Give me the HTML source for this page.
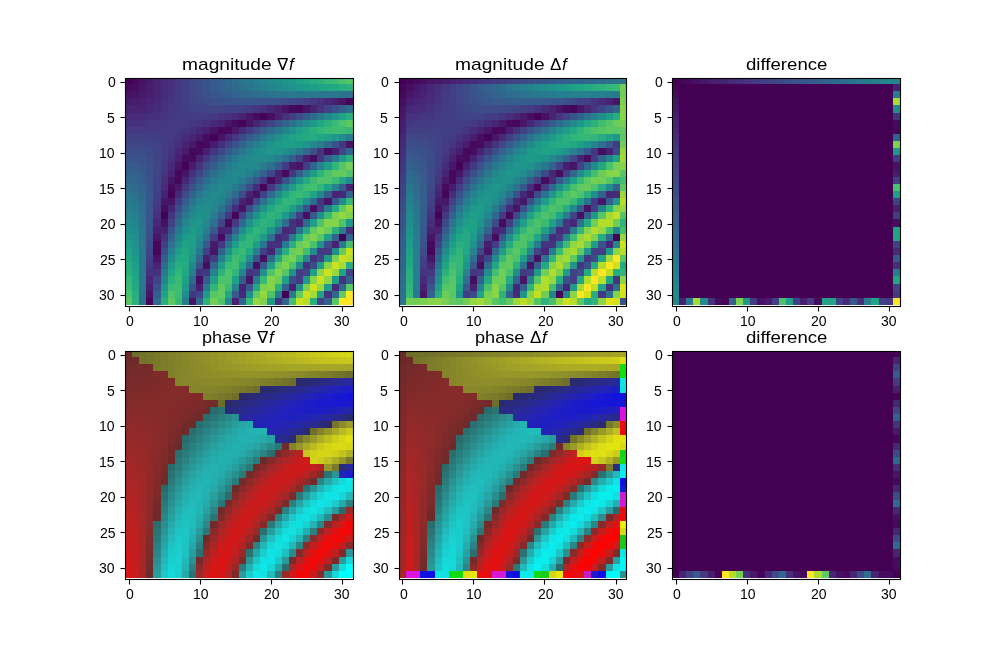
<!DOCTYPE html>
<html><head><meta charset="utf-8"><style>
html,body{margin:0;padding:0;background:#fff}
body{width:1000px;height:650px;position:relative;overflow:hidden}
svg{position:absolute;left:0;top:0}
.c rect{width:8px;height:8px}
.t{position:absolute;will-change:transform;font-family:"Liberation Sans",sans-serif;line-height:30px;white-space:nowrap;color:#000;transform-origin:0 0}
</style></head><body>
<svg width="1000" height="650" viewBox="0 0 1000 650" shape-rendering="crispEdges">
<g class="c">
<g transform="translate(0 78)">
<rect x="125" width="8" height="8" fill="#440154"/><rect x="132" width="8" height="8" fill="#46095c"/><rect x="139" width="8" height="8" fill="#471265"/><rect x="146" width="8" height="8" fill="#481a6c"/><rect x="153" width="8" height="8" fill="#482273"/><rect x="161" width="8" height="8" fill="#472a79"/><rect x="168" width="8" height="8" fill="#46317e"/><rect x="175" width="8" height="8" fill="#443982"/><rect x="182" width="8" height="8" fill="#424085"/><rect x="189" width="8" height="8" fill="#3f4788"/><rect x="196" width="8" height="8" fill="#3c4d8a"/><rect x="203" width="8" height="8" fill="#39548b"/><rect x="210" width="8" height="8" fill="#365b8c"/><rect x="218" width="8" height="8" fill="#33618d"/><rect x="225" width="8" height="8" fill="#30678d"/><rect x="232" width="8" height="8" fill="#2e6d8e"/><rect x="239" width="8" height="8" fill="#2b738e"/><rect x="246" width="8" height="8" fill="#29798e"/><rect x="253" width="8" height="8" fill="#277e8e"/><rect x="260" width="8" height="8" fill="#24848d"/><rect x="267" width="8" height="8" fill="#22898d"/><rect x="275" width="8" height="8" fill="#208f8c"/><rect x="282" width="8" height="8" fill="#1f958b"/><rect x="289" width="8" height="8" fill="#1e9a89"/><rect x="296" width="8" height="8" fill="#1fa187"/><rect x="303" width="8" height="8" fill="#21a784"/><rect x="310" width="8" height="8" fill="#26ac81"/><rect x="317" width="8" height="8" fill="#2cb17d"/><rect x="324" width="8" height="8" fill="#35b778"/><rect x="332" width="8" height="8" fill="#3ebc73"/><rect x="339" width="8" height="8" fill="#49c16d"/><rect x="346" width="8" height="8" fill="#55c666"/>
</g>
<g transform="translate(0 84)">
<rect x="125" width="8" height="8" fill="#46095c"/><rect x="132" width="8" height="8" fill="#460c5f"/><rect x="139" width="8" height="8" fill="#471466"/><rect x="146" width="8" height="8" fill="#481c6e"/><rect x="153" width="8" height="8" fill="#482374"/><rect x="161" width="8" height="8" fill="#472a79"/><rect x="168" width="8" height="8" fill="#46317e"/><rect x="175" width="8" height="8" fill="#443982"/><rect x="182" width="8" height="8" fill="#424085"/><rect x="189" width="8" height="8" fill="#3f4788"/><rect x="196" width="8" height="8" fill="#3c4d8a"/><rect x="203" width="8" height="8" fill="#39548b"/><rect x="210" width="8" height="8" fill="#37598c"/><rect x="218" width="8" height="8" fill="#345f8d"/><rect x="225" width="8" height="8" fill="#31658d"/><rect x="232" width="8" height="8" fill="#2f6a8d"/><rect x="239" width="8" height="8" fill="#2c708e"/><rect x="246" width="8" height="8" fill="#2a758e"/><rect x="253" width="8" height="8" fill="#287a8e"/><rect x="260" width="8" height="8" fill="#267f8e"/><rect x="267" width="8" height="8" fill="#24848d"/><rect x="275" width="8" height="8" fill="#23898d"/><rect x="282" width="8" height="8" fill="#218d8c"/><rect x="289" width="8" height="8" fill="#20918c"/><rect x="296" width="8" height="8" fill="#1f968b"/><rect x="303" width="8" height="8" fill="#1e9a89"/><rect x="310" width="8" height="8" fill="#1e9e88"/><rect x="317" width="8" height="8" fill="#1fa386"/><rect x="324" width="8" height="8" fill="#21a784"/><rect x="332" width="8" height="8" fill="#24aa82"/><rect x="339" width="8" height="8" fill="#28ae7f"/><rect x="346" width="8" height="8" fill="#2cb17d"/>
</g>
<g transform="translate(0 91)">
<rect x="125" width="8" height="8" fill="#471265"/><rect x="132" width="8" height="8" fill="#471466"/><rect x="139" width="8" height="8" fill="#48196b"/><rect x="146" width="8" height="8" fill="#481e70"/><rect x="153" width="8" height="8" fill="#472575"/><rect x="161" width="8" height="8" fill="#472c7b"/><rect x="168" width="8" height="8" fill="#45327f"/><rect x="175" width="8" height="8" fill="#433a83"/><rect x="182" width="8" height="8" fill="#424085"/><rect x="189" width="8" height="8" fill="#3f4587"/><rect x="196" width="8" height="8" fill="#3d4b89"/><rect x="203" width="8" height="8" fill="#3b518a"/><rect x="210" width="8" height="8" fill="#38568b"/><rect x="218" width="8" height="8" fill="#365a8c"/><rect x="225" width="8" height="8" fill="#345e8d"/><rect x="232" width="8" height="8" fill="#32628d"/><rect x="239" width="8" height="8" fill="#31668d"/><rect x="246" width="8" height="8" fill="#2f698d"/><rect x="253" width="8" height="8" fill="#2e6d8e"/><rect x="260" width="8" height="8" fill="#2d6f8e"/><rect x="267" width="8" height="8" fill="#2c728e"/><rect x="275" width="8" height="8" fill="#2b748e"/><rect x="282" width="8" height="8" fill="#2a758e"/><rect x="289" width="8" height="8" fill="#2a778e"/><rect x="296" width="8" height="8" fill="#29788e"/><rect x="303" width="8" height="8" fill="#29788e"/><rect x="310" width="8" height="8" fill="#29788e"/><rect x="317" width="8" height="8" fill="#29788e"/><rect x="324" width="8" height="8" fill="#2a778e"/><rect x="332" width="8" height="8" fill="#2a768e"/><rect x="339" width="8" height="8" fill="#2a758e"/><rect x="346" width="8" height="8" fill="#2c728e"/>
</g>
<g transform="translate(0 98)">
<rect x="125" width="8" height="8" fill="#481a6c"/><rect x="132" width="8" height="8" fill="#481c6e"/><rect x="139" width="8" height="8" fill="#481e70"/><rect x="146" width="8" height="8" fill="#482374"/><rect x="153" width="8" height="8" fill="#472878"/><rect x="161" width="8" height="8" fill="#462f7c"/><rect x="168" width="8" height="8" fill="#453580"/><rect x="175" width="8" height="8" fill="#433a83"/><rect x="182" width="8" height="8" fill="#423e85"/><rect x="189" width="8" height="8" fill="#404487"/><rect x="196" width="8" height="8" fill="#3e4888"/><rect x="203" width="8" height="8" fill="#3d4c89"/><rect x="210" width="8" height="8" fill="#3b508a"/><rect x="218" width="8" height="8" fill="#3a528b"/><rect x="225" width="8" height="8" fill="#39548b"/><rect x="232" width="8" height="8" fill="#38568b"/><rect x="239" width="8" height="8" fill="#38578c"/><rect x="246" width="8" height="8" fill="#38578c"/><rect x="253" width="8" height="8" fill="#38578c"/><rect x="260" width="8" height="8" fill="#38568b"/><rect x="267" width="8" height="8" fill="#39548b"/><rect x="275" width="8" height="8" fill="#3a528b"/><rect x="282" width="8" height="8" fill="#3c4e8a"/><rect x="289" width="8" height="8" fill="#3d4a89"/><rect x="296" width="8" height="8" fill="#3f4587"/><rect x="303" width="8" height="8" fill="#424085"/><rect x="310" width="8" height="8" fill="#443982"/><rect x="317" width="8" height="8" fill="#46317e"/><rect x="324" width="8" height="8" fill="#472878"/><rect x="332" width="8" height="8" fill="#481e70"/><rect x="339" width="8" height="8" fill="#471466"/><rect x="346" width="8" height="8" fill="#45065a"/>
</g>
<g transform="translate(0 105)">
<rect x="125" width="8" height="8" fill="#482273"/><rect x="132" width="8" height="8" fill="#482374"/><rect x="139" width="8" height="8" fill="#472575"/><rect x="146" width="8" height="8" fill="#472878"/><rect x="153" width="8" height="8" fill="#462d7c"/><rect x="161" width="8" height="8" fill="#46317e"/><rect x="168" width="8" height="8" fill="#453681"/><rect x="175" width="8" height="8" fill="#433a83"/><rect x="182" width="8" height="8" fill="#423d84"/><rect x="189" width="8" height="8" fill="#414186"/><rect x="196" width="8" height="8" fill="#404387"/><rect x="203" width="8" height="8" fill="#404487"/><rect x="210" width="8" height="8" fill="#3f4587"/><rect x="218" width="8" height="8" fill="#3f4587"/><rect x="225" width="8" height="8" fill="#404487"/><rect x="232" width="8" height="8" fill="#404387"/><rect x="239" width="8" height="8" fill="#424085"/><rect x="246" width="8" height="8" fill="#433c84"/><rect x="253" width="8" height="8" fill="#453681"/><rect x="260" width="8" height="8" fill="#46307d"/><rect x="267" width="8" height="8" fill="#472878"/><rect x="275" width="8" height="8" fill="#482071"/><rect x="282" width="8" height="8" fill="#471567"/><rect x="289" width="8" height="8" fill="#45085b"/><rect x="296" width="8" height="8" fill="#45065a"/><rect x="303" width="8" height="8" fill="#471567"/><rect x="310" width="8" height="8" fill="#482374"/><rect x="317" width="8" height="8" fill="#45327f"/><rect x="324" width="8" height="8" fill="#414186"/><rect x="332" width="8" height="8" fill="#3b508a"/><rect x="339" width="8" height="8" fill="#345e8d"/><rect x="346" width="8" height="8" fill="#2e6c8e"/>
</g>
<g transform="translate(0 113)">
<rect x="125" width="8" height="8" fill="#472a79"/><rect x="132" width="8" height="8" fill="#472a79"/><rect x="139" width="8" height="8" fill="#472c7b"/><rect x="146" width="8" height="8" fill="#462f7c"/><rect x="153" width="8" height="8" fill="#46317e"/><rect x="161" width="8" height="8" fill="#453580"/><rect x="168" width="8" height="8" fill="#443781"/><rect x="175" width="8" height="8" fill="#433a83"/><rect x="182" width="8" height="8" fill="#433c84"/><rect x="189" width="8" height="8" fill="#433c84"/><rect x="196" width="8" height="8" fill="#433c84"/><rect x="203" width="8" height="8" fill="#433b83"/><rect x="210" width="8" height="8" fill="#443982"/><rect x="218" width="8" height="8" fill="#453580"/><rect x="225" width="8" height="8" fill="#46307d"/><rect x="232" width="8" height="8" fill="#472a79"/><rect x="239" width="8" height="8" fill="#482273"/><rect x="246" width="8" height="8" fill="#47186a"/><rect x="253" width="8" height="8" fill="#460c5f"/><rect x="260" width="8" height="8" fill="#440255"/><rect x="267" width="8" height="8" fill="#471163"/><rect x="275" width="8" height="8" fill="#482172"/><rect x="282" width="8" height="8" fill="#46307d"/><rect x="289" width="8" height="8" fill="#424085"/><rect x="296" width="8" height="8" fill="#3c4e8a"/><rect x="303" width="8" height="8" fill="#355d8c"/><rect x="310" width="8" height="8" fill="#2e6c8e"/><rect x="317" width="8" height="8" fill="#287a8e"/><rect x="324" width="8" height="8" fill="#23888d"/><rect x="332" width="8" height="8" fill="#1f958b"/><rect x="339" width="8" height="8" fill="#1fa386"/><rect x="346" width="8" height="8" fill="#29af7f"/>
</g>
<g transform="translate(0 120)">
<rect x="125" width="8" height="8" fill="#46317e"/><rect x="132" width="8" height="8" fill="#46317e"/><rect x="139" width="8" height="8" fill="#45327f"/><rect x="146" width="8" height="8" fill="#453580"/><rect x="153" width="8" height="8" fill="#453681"/><rect x="161" width="8" height="8" fill="#443781"/><rect x="168" width="8" height="8" fill="#443982"/><rect x="175" width="8" height="8" fill="#443982"/><rect x="182" width="8" height="8" fill="#443982"/><rect x="189" width="8" height="8" fill="#453681"/><rect x="196" width="8" height="8" fill="#45347f"/><rect x="203" width="8" height="8" fill="#462f7c"/><rect x="210" width="8" height="8" fill="#472878"/><rect x="218" width="8" height="8" fill="#482172"/><rect x="225" width="8" height="8" fill="#471669"/><rect x="232" width="8" height="8" fill="#460b5e"/><rect x="239" width="8" height="8" fill="#440357"/><rect x="246" width="8" height="8" fill="#471466"/><rect x="253" width="8" height="8" fill="#472575"/><rect x="260" width="8" height="8" fill="#45347f"/><rect x="267" width="8" height="8" fill="#404487"/><rect x="275" width="8" height="8" fill="#39548b"/><rect x="282" width="8" height="8" fill="#32638d"/><rect x="289" width="8" height="8" fill="#2c728e"/><rect x="296" width="8" height="8" fill="#267f8e"/><rect x="303" width="8" height="8" fill="#218d8c"/><rect x="310" width="8" height="8" fill="#1e998a"/><rect x="317" width="8" height="8" fill="#21a685"/><rect x="324" width="8" height="8" fill="#2cb17d"/><rect x="332" width="8" height="8" fill="#3bba75"/><rect x="339" width="8" height="8" fill="#4dc26b"/><rect x="346" width="8" height="8" fill="#5bc862"/>
</g>
<g transform="translate(0 127)">
<rect x="125" width="8" height="8" fill="#443982"/><rect x="132" width="8" height="8" fill="#443982"/><rect x="139" width="8" height="8" fill="#433a83"/><rect x="146" width="8" height="8" fill="#433a83"/><rect x="153" width="8" height="8" fill="#433a83"/><rect x="161" width="8" height="8" fill="#433a83"/><rect x="168" width="8" height="8" fill="#443982"/><rect x="175" width="8" height="8" fill="#443781"/><rect x="182" width="8" height="8" fill="#45347f"/><rect x="189" width="8" height="8" fill="#462f7c"/><rect x="196" width="8" height="8" fill="#472878"/><rect x="203" width="8" height="8" fill="#482071"/><rect x="210" width="8" height="8" fill="#471567"/><rect x="218" width="8" height="8" fill="#45085b"/><rect x="225" width="8" height="8" fill="#45085b"/><rect x="232" width="8" height="8" fill="#48196b"/><rect x="239" width="8" height="8" fill="#472a79"/><rect x="246" width="8" height="8" fill="#433b83"/><rect x="253" width="8" height="8" fill="#3d4c89"/><rect x="260" width="8" height="8" fill="#365b8c"/><rect x="267" width="8" height="8" fill="#2f6a8d"/><rect x="275" width="8" height="8" fill="#29798e"/><rect x="282" width="8" height="8" fill="#24868d"/><rect x="289" width="8" height="8" fill="#1f938b"/><rect x="296" width="8" height="8" fill="#1e9e88"/><rect x="303" width="8" height="8" fill="#22a784"/><rect x="310" width="8" height="8" fill="#2ab07e"/><rect x="317" width="8" height="8" fill="#33b679"/><rect x="324" width="8" height="8" fill="#3bba75"/><rect x="332" width="8" height="8" fill="#3ebc73"/><rect x="339" width="8" height="8" fill="#3dbb74"/><rect x="346" width="8" height="8" fill="#38b976"/>
</g>
<g transform="translate(0 134)">
<rect x="125" width="8" height="8" fill="#424085"/><rect x="132" width="8" height="8" fill="#424085"/><rect x="139" width="8" height="8" fill="#424085"/><rect x="146" width="8" height="8" fill="#423e85"/><rect x="153" width="8" height="8" fill="#423d84"/><rect x="161" width="8" height="8" fill="#433c84"/><rect x="168" width="8" height="8" fill="#443982"/><rect x="175" width="8" height="8" fill="#45347f"/><rect x="182" width="8" height="8" fill="#462d7c"/><rect x="189" width="8" height="8" fill="#472575"/><rect x="196" width="8" height="8" fill="#481a6c"/><rect x="203" width="8" height="8" fill="#460c5f"/><rect x="210" width="8" height="8" fill="#440357"/><rect x="218" width="8" height="8" fill="#471567"/><rect x="225" width="8" height="8" fill="#472777"/><rect x="232" width="8" height="8" fill="#443982"/><rect x="239" width="8" height="8" fill="#3d4a89"/><rect x="246" width="8" height="8" fill="#365b8c"/><rect x="253" width="8" height="8" fill="#2f6a8d"/><rect x="260" width="8" height="8" fill="#29788e"/><rect x="267" width="8" height="8" fill="#24858d"/><rect x="275" width="8" height="8" fill="#20908c"/><rect x="282" width="8" height="8" fill="#1e9a89"/><rect x="289" width="8" height="8" fill="#1fa286"/><rect x="296" width="8" height="8" fill="#22a784"/><rect x="303" width="8" height="8" fill="#24aa82"/><rect x="310" width="8" height="8" fill="#25ab81"/><rect x="317" width="8" height="8" fill="#22a784"/><rect x="324" width="8" height="8" fill="#1fa286"/><rect x="332" width="8" height="8" fill="#1e998a"/><rect x="339" width="8" height="8" fill="#218c8d"/><rect x="346" width="8" height="8" fill="#277c8e"/>
</g>
<g transform="translate(0 141)">
<rect x="125" width="8" height="8" fill="#3f4788"/><rect x="132" width="8" height="8" fill="#3f4788"/><rect x="139" width="8" height="8" fill="#3f4587"/><rect x="146" width="8" height="8" fill="#404487"/><rect x="153" width="8" height="8" fill="#414186"/><rect x="161" width="8" height="8" fill="#433c84"/><rect x="168" width="8" height="8" fill="#453681"/><rect x="175" width="8" height="8" fill="#462f7c"/><rect x="182" width="8" height="8" fill="#472575"/><rect x="189" width="8" height="8" fill="#48196b"/><rect x="196" width="8" height="8" fill="#45085b"/><rect x="203" width="8" height="8" fill="#46095c"/><rect x="210" width="8" height="8" fill="#481d6f"/><rect x="218" width="8" height="8" fill="#46307d"/><rect x="225" width="8" height="8" fill="#414286"/><rect x="232" width="8" height="8" fill="#39548b"/><rect x="239" width="8" height="8" fill="#31648d"/><rect x="246" width="8" height="8" fill="#2b738e"/><rect x="253" width="8" height="8" fill="#267f8e"/><rect x="260" width="8" height="8" fill="#228a8d"/><rect x="267" width="8" height="8" fill="#1f948b"/><rect x="275" width="8" height="8" fill="#1e9a89"/><rect x="282" width="8" height="8" fill="#1e9d88"/><rect x="289" width="8" height="8" fill="#1e9e88"/><rect x="296" width="8" height="8" fill="#1e9b89"/><rect x="303" width="8" height="8" fill="#1f958b"/><rect x="310" width="8" height="8" fill="#228a8d"/><rect x="317" width="8" height="8" fill="#277c8e"/><rect x="324" width="8" height="8" fill="#2f6a8d"/><rect x="332" width="8" height="8" fill="#39548b"/><rect x="339" width="8" height="8" fill="#443781"/><rect x="346" width="8" height="8" fill="#471466"/>
</g>
<g transform="translate(0 148)">
<rect x="125" width="8" height="8" fill="#3c4d8a"/><rect x="132" width="8" height="8" fill="#3c4d8a"/><rect x="139" width="8" height="8" fill="#3d4b89"/><rect x="146" width="8" height="8" fill="#3e4888"/><rect x="153" width="8" height="8" fill="#404387"/><rect x="161" width="8" height="8" fill="#433c84"/><rect x="168" width="8" height="8" fill="#45347f"/><rect x="175" width="8" height="8" fill="#472878"/><rect x="182" width="8" height="8" fill="#481a6c"/><rect x="189" width="8" height="8" fill="#45085b"/><rect x="196" width="8" height="8" fill="#460c5f"/><rect x="203" width="8" height="8" fill="#482172"/><rect x="210" width="8" height="8" fill="#453580"/><rect x="218" width="8" height="8" fill="#3e4888"/><rect x="225" width="8" height="8" fill="#365a8c"/><rect x="232" width="8" height="8" fill="#2f698d"/><rect x="239" width="8" height="8" fill="#2a778e"/><rect x="246" width="8" height="8" fill="#25838d"/><rect x="253" width="8" height="8" fill="#218c8d"/><rect x="260" width="8" height="8" fill="#1f928c"/><rect x="267" width="8" height="8" fill="#1f958b"/><rect x="275" width="8" height="8" fill="#1f948b"/><rect x="282" width="8" height="8" fill="#208f8c"/><rect x="289" width="8" height="8" fill="#24868d"/><rect x="296" width="8" height="8" fill="#29798e"/><rect x="303" width="8" height="8" fill="#30678d"/><rect x="310" width="8" height="8" fill="#3b518a"/><rect x="317" width="8" height="8" fill="#45327f"/><rect x="324" width="8" height="8" fill="#460e61"/><rect x="332" width="8" height="8" fill="#481e70"/><rect x="339" width="8" height="8" fill="#3f4587"/><rect x="346" width="8" height="8" fill="#30688d"/>
</g>
<g transform="translate(0 155)">
<rect x="125" width="8" height="8" fill="#39548b"/><rect x="132" width="8" height="8" fill="#39548b"/><rect x="139" width="8" height="8" fill="#3b518a"/><rect x="146" width="8" height="8" fill="#3d4c89"/><rect x="153" width="8" height="8" fill="#404487"/><rect x="161" width="8" height="8" fill="#433b83"/><rect x="168" width="8" height="8" fill="#462f7c"/><rect x="175" width="8" height="8" fill="#482071"/><rect x="182" width="8" height="8" fill="#460c5f"/><rect x="189" width="8" height="8" fill="#46095c"/><rect x="196" width="8" height="8" fill="#482172"/><rect x="203" width="8" height="8" fill="#453681"/><rect x="210" width="8" height="8" fill="#3d4b89"/><rect x="218" width="8" height="8" fill="#355d8c"/><rect x="225" width="8" height="8" fill="#2e6c8e"/><rect x="232" width="8" height="8" fill="#287a8e"/><rect x="239" width="8" height="8" fill="#24848d"/><rect x="246" width="8" height="8" fill="#228b8d"/><rect x="253" width="8" height="8" fill="#218e8c"/><rect x="260" width="8" height="8" fill="#218e8c"/><rect x="267" width="8" height="8" fill="#23898d"/><rect x="275" width="8" height="8" fill="#277e8e"/><rect x="282" width="8" height="8" fill="#2c708e"/><rect x="289" width="8" height="8" fill="#355c8c"/><rect x="296" width="8" height="8" fill="#414286"/><rect x="303" width="8" height="8" fill="#482071"/><rect x="310" width="8" height="8" fill="#460c5f"/><rect x="317" width="8" height="8" fill="#453681"/><rect x="324" width="8" height="8" fill="#365b8c"/><rect x="332" width="8" height="8" fill="#287b8e"/><rect x="339" width="8" height="8" fill="#1e998a"/><rect x="346" width="8" height="8" fill="#2cb17d"/>
</g>
<g transform="translate(0 162)">
<rect x="125" width="8" height="8" fill="#365b8c"/><rect x="132" width="8" height="8" fill="#37598c"/><rect x="139" width="8" height="8" fill="#38568b"/><rect x="146" width="8" height="8" fill="#3b508a"/><rect x="153" width="8" height="8" fill="#3f4587"/><rect x="161" width="8" height="8" fill="#443982"/><rect x="168" width="8" height="8" fill="#472878"/><rect x="175" width="8" height="8" fill="#471567"/><rect x="182" width="8" height="8" fill="#440357"/><rect x="189" width="8" height="8" fill="#481d6f"/><rect x="196" width="8" height="8" fill="#453580"/><rect x="203" width="8" height="8" fill="#3d4b89"/><rect x="210" width="8" height="8" fill="#355d8c"/><rect x="218" width="8" height="8" fill="#2d6e8e"/><rect x="225" width="8" height="8" fill="#287a8e"/><rect x="232" width="8" height="8" fill="#24848d"/><rect x="239" width="8" height="8" fill="#22898d"/><rect x="246" width="8" height="8" fill="#228a8d"/><rect x="253" width="8" height="8" fill="#23878d"/><rect x="260" width="8" height="8" fill="#277d8e"/><rect x="267" width="8" height="8" fill="#2d6f8e"/><rect x="275" width="8" height="8" fill="#365a8c"/><rect x="282" width="8" height="8" fill="#423e85"/><rect x="289" width="8" height="8" fill="#481a6c"/><rect x="296" width="8" height="8" fill="#471466"/><rect x="303" width="8" height="8" fill="#423e85"/><rect x="310" width="8" height="8" fill="#32628d"/><rect x="317" width="8" height="8" fill="#25828e"/><rect x="324" width="8" height="8" fill="#1e9e88"/><rect x="332" width="8" height="8" fill="#32b57a"/><rect x="339" width="8" height="8" fill="#55c666"/><rect x="346" width="8" height="8" fill="#72cf55"/>
</g>
<g transform="translate(0 170)">
<rect x="125" width="8" height="8" fill="#33618d"/><rect x="132" width="8" height="8" fill="#345f8d"/><rect x="139" width="8" height="8" fill="#365a8c"/><rect x="146" width="8" height="8" fill="#3a528b"/><rect x="153" width="8" height="8" fill="#3f4587"/><rect x="161" width="8" height="8" fill="#453580"/><rect x="168" width="8" height="8" fill="#482172"/><rect x="175" width="8" height="8" fill="#45085b"/><rect x="182" width="8" height="8" fill="#471567"/><rect x="189" width="8" height="8" fill="#46307d"/><rect x="196" width="8" height="8" fill="#3e4888"/><rect x="203" width="8" height="8" fill="#355d8c"/><rect x="210" width="8" height="8" fill="#2d6e8e"/><rect x="218" width="8" height="8" fill="#287a8e"/><rect x="225" width="8" height="8" fill="#24848d"/><rect x="232" width="8" height="8" fill="#23898d"/><rect x="239" width="8" height="8" fill="#23888d"/><rect x="246" width="8" height="8" fill="#26808e"/><rect x="253" width="8" height="8" fill="#2b748e"/><rect x="260" width="8" height="8" fill="#33618d"/><rect x="267" width="8" height="8" fill="#3f4788"/><rect x="275" width="8" height="8" fill="#482374"/><rect x="282" width="8" height="8" fill="#460b5e"/><rect x="289" width="8" height="8" fill="#443982"/><rect x="296" width="8" height="8" fill="#345f8d"/><rect x="303" width="8" height="8" fill="#267f8e"/><rect x="310" width="8" height="8" fill="#1e9b89"/><rect x="317" width="8" height="8" fill="#2eb27c"/><rect x="324" width="8" height="8" fill="#4bc26c"/><rect x="332" width="8" height="8" fill="#60c960"/><rect x="339" width="8" height="8" fill="#62ca5f"/><rect x="346" width="8" height="8" fill="#51c468"/>
</g>
<g transform="translate(0 177)">
<rect x="125" width="8" height="8" fill="#30678d"/><rect x="132" width="8" height="8" fill="#31658d"/><rect x="139" width="8" height="8" fill="#345e8d"/><rect x="146" width="8" height="8" fill="#39548b"/><rect x="153" width="8" height="8" fill="#404487"/><rect x="161" width="8" height="8" fill="#46307d"/><rect x="168" width="8" height="8" fill="#471669"/><rect x="175" width="8" height="8" fill="#45085b"/><rect x="182" width="8" height="8" fill="#472777"/><rect x="189" width="8" height="8" fill="#414286"/><rect x="196" width="8" height="8" fill="#365a8c"/><rect x="203" width="8" height="8" fill="#2e6c8e"/><rect x="210" width="8" height="8" fill="#287a8e"/><rect x="218" width="8" height="8" fill="#24848d"/><rect x="225" width="8" height="8" fill="#23888d"/><rect x="232" width="8" height="8" fill="#24868d"/><rect x="239" width="8" height="8" fill="#277c8e"/><rect x="246" width="8" height="8" fill="#2e6d8e"/><rect x="253" width="8" height="8" fill="#38568b"/><rect x="260" width="8" height="8" fill="#453681"/><rect x="267" width="8" height="8" fill="#460b5e"/><rect x="275" width="8" height="8" fill="#472676"/><rect x="282" width="8" height="8" fill="#3a528b"/><rect x="289" width="8" height="8" fill="#2a758e"/><rect x="296" width="8" height="8" fill="#1f928c"/><rect x="303" width="8" height="8" fill="#24aa82"/><rect x="310" width="8" height="8" fill="#3dbb74"/><rect x="317" width="8" height="8" fill="#4fc369"/><rect x="324" width="8" height="8" fill="#4dc26b"/><rect x="332" width="8" height="8" fill="#3bba75"/><rect x="339" width="8" height="8" fill="#21a784"/><rect x="346" width="8" height="8" fill="#22898d"/>
</g>
<g transform="translate(0 184)">
<rect x="125" width="8" height="8" fill="#2e6d8e"/><rect x="132" width="8" height="8" fill="#2f6a8d"/><rect x="139" width="8" height="8" fill="#32628d"/><rect x="146" width="8" height="8" fill="#38568b"/><rect x="153" width="8" height="8" fill="#404387"/><rect x="161" width="8" height="8" fill="#472a79"/><rect x="168" width="8" height="8" fill="#460b5e"/><rect x="175" width="8" height="8" fill="#48196b"/><rect x="182" width="8" height="8" fill="#443982"/><rect x="189" width="8" height="8" fill="#39548b"/><rect x="196" width="8" height="8" fill="#2f698d"/><rect x="203" width="8" height="8" fill="#287a8e"/><rect x="210" width="8" height="8" fill="#24848d"/><rect x="218" width="8" height="8" fill="#23898d"/><rect x="225" width="8" height="8" fill="#24868d"/><rect x="232" width="8" height="8" fill="#287b8e"/><rect x="239" width="8" height="8" fill="#2f698d"/><rect x="246" width="8" height="8" fill="#3b508a"/><rect x="253" width="8" height="8" fill="#472a79"/><rect x="260" width="8" height="8" fill="#45065a"/><rect x="267" width="8" height="8" fill="#443982"/><rect x="275" width="8" height="8" fill="#33618d"/><rect x="282" width="8" height="8" fill="#25838d"/><rect x="289" width="8" height="8" fill="#1e9e88"/><rect x="296" width="8" height="8" fill="#2eb27c"/><rect x="303" width="8" height="8" fill="#40bd72"/><rect x="310" width="8" height="8" fill="#42be71"/><rect x="317" width="8" height="8" fill="#32b57a"/><rect x="324" width="8" height="8" fill="#1fa187"/><rect x="332" width="8" height="8" fill="#25838d"/><rect x="339" width="8" height="8" fill="#365a8c"/><rect x="346" width="8" height="8" fill="#482172"/>
</g>
<g transform="translate(0 191)">
<rect x="125" width="8" height="8" fill="#2b738e"/><rect x="132" width="8" height="8" fill="#2c708e"/><rect x="139" width="8" height="8" fill="#31668d"/><rect x="146" width="8" height="8" fill="#38578c"/><rect x="153" width="8" height="8" fill="#424085"/><rect x="161" width="8" height="8" fill="#482273"/><rect x="168" width="8" height="8" fill="#440357"/><rect x="175" width="8" height="8" fill="#472a79"/><rect x="182" width="8" height="8" fill="#3d4a89"/><rect x="189" width="8" height="8" fill="#31648d"/><rect x="196" width="8" height="8" fill="#2a778e"/><rect x="203" width="8" height="8" fill="#24848d"/><rect x="210" width="8" height="8" fill="#22898d"/><rect x="218" width="8" height="8" fill="#23888d"/><rect x="225" width="8" height="8" fill="#277c8e"/><rect x="232" width="8" height="8" fill="#2f698d"/><rect x="239" width="8" height="8" fill="#3d4c89"/><rect x="246" width="8" height="8" fill="#482374"/><rect x="253" width="8" height="8" fill="#471265"/><rect x="260" width="8" height="8" fill="#404387"/><rect x="267" width="8" height="8" fill="#2e6b8e"/><rect x="275" width="8" height="8" fill="#218c8d"/><rect x="282" width="8" height="8" fill="#21a685"/><rect x="289" width="8" height="8" fill="#32b57a"/><rect x="296" width="8" height="8" fill="#3bba75"/><rect x="303" width="8" height="8" fill="#30b47a"/><rect x="310" width="8" height="8" fill="#1fa386"/><rect x="317" width="8" height="8" fill="#24868d"/><rect x="324" width="8" height="8" fill="#355d8c"/><rect x="332" width="8" height="8" fill="#482374"/><rect x="339" width="8" height="8" fill="#472777"/><rect x="346" width="8" height="8" fill="#31658d"/>
</g>
<g transform="translate(0 198)">
<rect x="125" width="8" height="8" fill="#29798e"/><rect x="132" width="8" height="8" fill="#2a758e"/><rect x="139" width="8" height="8" fill="#2f698d"/><rect x="146" width="8" height="8" fill="#38578c"/><rect x="153" width="8" height="8" fill="#433c84"/><rect x="161" width="8" height="8" fill="#47186a"/><rect x="168" width="8" height="8" fill="#471466"/><rect x="175" width="8" height="8" fill="#433b83"/><rect x="182" width="8" height="8" fill="#365b8c"/><rect x="189" width="8" height="8" fill="#2b738e"/><rect x="196" width="8" height="8" fill="#25838d"/><rect x="203" width="8" height="8" fill="#228b8d"/><rect x="210" width="8" height="8" fill="#228a8d"/><rect x="218" width="8" height="8" fill="#26808e"/><rect x="225" width="8" height="8" fill="#2e6d8e"/><rect x="232" width="8" height="8" fill="#3b508a"/><rect x="239" width="8" height="8" fill="#482374"/><rect x="246" width="8" height="8" fill="#471567"/><rect x="253" width="8" height="8" fill="#3e4989"/><rect x="260" width="8" height="8" fill="#2c718e"/><rect x="267" width="8" height="8" fill="#20918c"/><rect x="275" width="8" height="8" fill="#23a982"/><rect x="282" width="8" height="8" fill="#32b57a"/><rect x="289" width="8" height="8" fill="#33b679"/><rect x="296" width="8" height="8" fill="#24aa82"/><rect x="303" width="8" height="8" fill="#20918c"/><rect x="310" width="8" height="8" fill="#2e6b8e"/><rect x="317" width="8" height="8" fill="#453681"/><rect x="324" width="8" height="8" fill="#471567"/><rect x="332" width="8" height="8" fill="#37588c"/><rect x="339" width="8" height="8" fill="#218c8d"/><rect x="346" width="8" height="8" fill="#36b877"/>
</g>
<g transform="translate(0 205)">
<rect x="125" width="8" height="8" fill="#277e8e"/><rect x="132" width="8" height="8" fill="#287a8e"/><rect x="139" width="8" height="8" fill="#2e6d8e"/><rect x="146" width="8" height="8" fill="#38578c"/><rect x="153" width="8" height="8" fill="#453681"/><rect x="161" width="8" height="8" fill="#460c5f"/><rect x="168" width="8" height="8" fill="#472575"/><rect x="175" width="8" height="8" fill="#3d4c89"/><rect x="182" width="8" height="8" fill="#2f6a8d"/><rect x="189" width="8" height="8" fill="#267f8e"/><rect x="196" width="8" height="8" fill="#218c8d"/><rect x="203" width="8" height="8" fill="#218e8c"/><rect x="210" width="8" height="8" fill="#23878d"/><rect x="218" width="8" height="8" fill="#2b748e"/><rect x="225" width="8" height="8" fill="#38568b"/><rect x="232" width="8" height="8" fill="#472a79"/><rect x="239" width="8" height="8" fill="#471265"/><rect x="246" width="8" height="8" fill="#3e4989"/><rect x="253" width="8" height="8" fill="#2b738e"/><rect x="260" width="8" height="8" fill="#1f948b"/><rect x="267" width="8" height="8" fill="#24aa82"/><rect x="275" width="8" height="8" fill="#32b57a"/><rect x="282" width="8" height="8" fill="#2cb17d"/><rect x="289" width="8" height="8" fill="#1ea087"/><rect x="296" width="8" height="8" fill="#26818e"/><rect x="303" width="8" height="8" fill="#39548b"/><rect x="310" width="8" height="8" fill="#471163"/><rect x="317" width="8" height="8" fill="#423d84"/><rect x="324" width="8" height="8" fill="#29798e"/><rect x="332" width="8" height="8" fill="#23a883"/><rect x="339" width="8" height="8" fill="#60c960"/><rect x="346" width="8" height="8" fill="#97d83e"/>
</g>
<g transform="translate(0 212)">
<rect x="125" width="8" height="8" fill="#24848d"/><rect x="132" width="8" height="8" fill="#267f8e"/><rect x="139" width="8" height="8" fill="#2d6f8e"/><rect x="146" width="8" height="8" fill="#38568b"/><rect x="153" width="8" height="8" fill="#46307d"/><rect x="161" width="8" height="8" fill="#440255"/><rect x="168" width="8" height="8" fill="#45347f"/><rect x="175" width="8" height="8" fill="#365b8c"/><rect x="182" width="8" height="8" fill="#29788e"/><rect x="189" width="8" height="8" fill="#228a8d"/><rect x="196" width="8" height="8" fill="#1f928c"/><rect x="203" width="8" height="8" fill="#218e8c"/><rect x="210" width="8" height="8" fill="#277d8e"/><rect x="218" width="8" height="8" fill="#33618d"/><rect x="225" width="8" height="8" fill="#453681"/><rect x="232" width="8" height="8" fill="#45065a"/><rect x="239" width="8" height="8" fill="#404387"/><rect x="246" width="8" height="8" fill="#2c718e"/><rect x="253" width="8" height="8" fill="#1f948b"/><rect x="260" width="8" height="8" fill="#25ab81"/><rect x="267" width="8" height="8" fill="#30b47a"/><rect x="275" width="8" height="8" fill="#29af7f"/><rect x="282" width="8" height="8" fill="#1e998a"/><rect x="289" width="8" height="8" fill="#2a758e"/><rect x="296" width="8" height="8" fill="#424085"/><rect x="303" width="8" height="8" fill="#470f62"/><rect x="310" width="8" height="8" fill="#37598c"/><rect x="317" width="8" height="8" fill="#208f8c"/><rect x="324" width="8" height="8" fill="#39b976"/><rect x="332" width="8" height="8" fill="#79d151"/><rect x="339" width="8" height="8" fill="#95d73f"/><rect x="346" width="8" height="8" fill="#7cd24f"/>
</g>
<g transform="translate(0 219)">
<rect x="125" width="8" height="8" fill="#22898d"/><rect x="132" width="8" height="8" fill="#24848d"/><rect x="139" width="8" height="8" fill="#2c728e"/><rect x="146" width="8" height="8" fill="#39548b"/><rect x="153" width="8" height="8" fill="#472878"/><rect x="161" width="8" height="8" fill="#471163"/><rect x="168" width="8" height="8" fill="#404487"/><rect x="175" width="8" height="8" fill="#2f6a8d"/><rect x="182" width="8" height="8" fill="#24858d"/><rect x="189" width="8" height="8" fill="#1f948b"/><rect x="196" width="8" height="8" fill="#1f958b"/><rect x="203" width="8" height="8" fill="#23898d"/><rect x="210" width="8" height="8" fill="#2d6f8e"/><rect x="218" width="8" height="8" fill="#3f4788"/><rect x="225" width="8" height="8" fill="#460b5e"/><rect x="232" width="8" height="8" fill="#443982"/><rect x="239" width="8" height="8" fill="#2e6b8e"/><rect x="246" width="8" height="8" fill="#20918c"/><rect x="253" width="8" height="8" fill="#24aa82"/><rect x="260" width="8" height="8" fill="#30b47a"/><rect x="267" width="8" height="8" fill="#28ae7f"/><rect x="275" width="8" height="8" fill="#1f958b"/><rect x="282" width="8" height="8" fill="#2e6d8e"/><rect x="289" width="8" height="8" fill="#46307d"/><rect x="296" width="8" height="8" fill="#472575"/><rect x="303" width="8" height="8" fill="#2f6a8d"/><rect x="310" width="8" height="8" fill="#1e9e88"/><rect x="317" width="8" height="8" fill="#4fc369"/><rect x="324" width="8" height="8" fill="#83d34b"/><rect x="332" width="8" height="8" fill="#83d34b"/><rect x="339" width="8" height="8" fill="#4fc369"/><rect x="346" width="8" height="8" fill="#1e9a89"/>
</g>
<g transform="translate(0 227)">
<rect x="125" width="8" height="8" fill="#208f8c"/><rect x="132" width="8" height="8" fill="#23898d"/><rect x="139" width="8" height="8" fill="#2b748e"/><rect x="146" width="8" height="8" fill="#3a528b"/><rect x="153" width="8" height="8" fill="#482071"/><rect x="161" width="8" height="8" fill="#482172"/><rect x="168" width="8" height="8" fill="#39548b"/><rect x="175" width="8" height="8" fill="#29798e"/><rect x="182" width="8" height="8" fill="#20908c"/><rect x="189" width="8" height="8" fill="#1e9a89"/><rect x="196" width="8" height="8" fill="#1f948b"/><rect x="203" width="8" height="8" fill="#277e8e"/><rect x="210" width="8" height="8" fill="#365a8c"/><rect x="218" width="8" height="8" fill="#482374"/><rect x="225" width="8" height="8" fill="#472676"/><rect x="232" width="8" height="8" fill="#33618d"/><rect x="239" width="8" height="8" fill="#218c8d"/><rect x="246" width="8" height="8" fill="#23a982"/><rect x="253" width="8" height="8" fill="#32b57a"/><rect x="260" width="8" height="8" fill="#29af7f"/><rect x="267" width="8" height="8" fill="#1f958b"/><rect x="275" width="8" height="8" fill="#2f6a8d"/><rect x="282" width="8" height="8" fill="#472878"/><rect x="289" width="8" height="8" fill="#46307d"/><rect x="296" width="8" height="8" fill="#2a758e"/><rect x="303" width="8" height="8" fill="#23a883"/><rect x="310" width="8" height="8" fill="#5ec961"/><rect x="317" width="8" height="8" fill="#83d34b"/><rect x="324" width="8" height="8" fill="#6bcd59"/><rect x="332" width="8" height="8" fill="#2cb17d"/><rect x="339" width="8" height="8" fill="#277d8e"/><rect x="346" width="8" height="8" fill="#46307d"/>
</g>
<g transform="translate(0 234)">
<rect x="125" width="8" height="8" fill="#1f958b"/><rect x="132" width="8" height="8" fill="#218d8c"/><rect x="139" width="8" height="8" fill="#2a758e"/><rect x="146" width="8" height="8" fill="#3c4e8a"/><rect x="153" width="8" height="8" fill="#471567"/><rect x="161" width="8" height="8" fill="#46307d"/><rect x="168" width="8" height="8" fill="#32638d"/><rect x="175" width="8" height="8" fill="#24868d"/><rect x="182" width="8" height="8" fill="#1e9a89"/><rect x="189" width="8" height="8" fill="#1e9d88"/><rect x="196" width="8" height="8" fill="#208f8c"/><rect x="203" width="8" height="8" fill="#2c708e"/><rect x="210" width="8" height="8" fill="#423e85"/><rect x="218" width="8" height="8" fill="#460b5e"/><rect x="225" width="8" height="8" fill="#3a528b"/><rect x="232" width="8" height="8" fill="#25838d"/><rect x="239" width="8" height="8" fill="#21a685"/><rect x="246" width="8" height="8" fill="#32b57a"/><rect x="253" width="8" height="8" fill="#2cb17d"/><rect x="260" width="8" height="8" fill="#1e998a"/><rect x="267" width="8" height="8" fill="#2e6d8e"/><rect x="275" width="8" height="8" fill="#472878"/><rect x="282" width="8" height="8" fill="#45347f"/><rect x="289" width="8" height="8" fill="#287a8e"/><rect x="296" width="8" height="8" fill="#27ad80"/><rect x="303" width="8" height="8" fill="#64cb5d"/><rect x="310" width="8" height="8" fill="#7ed24e"/><rect x="317" width="8" height="8" fill="#57c665"/><rect x="324" width="8" height="8" fill="#1fa187"/><rect x="332" width="8" height="8" fill="#32628d"/><rect x="339" width="8" height="8" fill="#440255"/><rect x="346" width="8" height="8" fill="#32638d"/>
</g>
<g transform="translate(0 241)">
<rect x="125" width="8" height="8" fill="#1e9a89"/><rect x="132" width="8" height="8" fill="#20918c"/><rect x="139" width="8" height="8" fill="#2a778e"/><rect x="146" width="8" height="8" fill="#3d4a89"/><rect x="153" width="8" height="8" fill="#45085b"/><rect x="161" width="8" height="8" fill="#424085"/><rect x="168" width="8" height="8" fill="#2c728e"/><rect x="175" width="8" height="8" fill="#1f938b"/><rect x="182" width="8" height="8" fill="#1fa286"/><rect x="189" width="8" height="8" fill="#1e9e88"/><rect x="196" width="8" height="8" fill="#24868d"/><rect x="203" width="8" height="8" fill="#355c8c"/><rect x="210" width="8" height="8" fill="#481a6c"/><rect x="218" width="8" height="8" fill="#443982"/><rect x="225" width="8" height="8" fill="#2a758e"/><rect x="232" width="8" height="8" fill="#1e9e88"/><rect x="239" width="8" height="8" fill="#32b57a"/><rect x="246" width="8" height="8" fill="#33b679"/><rect x="253" width="8" height="8" fill="#1ea087"/><rect x="260" width="8" height="8" fill="#2a758e"/><rect x="267" width="8" height="8" fill="#46307d"/><rect x="275" width="8" height="8" fill="#46307d"/><rect x="282" width="8" height="8" fill="#287a8e"/><rect x="289" width="8" height="8" fill="#29af7f"/><rect x="296" width="8" height="8" fill="#67cc5c"/><rect x="303" width="8" height="8" fill="#79d151"/><rect x="310" width="8" height="8" fill="#49c16d"/><rect x="317" width="8" height="8" fill="#1f938b"/><rect x="324" width="8" height="8" fill="#3d4c89"/><rect x="332" width="8" height="8" fill="#482273"/><rect x="339" width="8" height="8" fill="#277d8e"/><rect x="346" width="8" height="8" fill="#45bf6f"/>
</g>
<g transform="translate(0 248)">
<rect x="125" width="8" height="8" fill="#1fa187"/><rect x="132" width="8" height="8" fill="#1f968b"/><rect x="139" width="8" height="8" fill="#29788e"/><rect x="146" width="8" height="8" fill="#3f4587"/><rect x="153" width="8" height="8" fill="#45065a"/><rect x="161" width="8" height="8" fill="#3c4e8a"/><rect x="168" width="8" height="8" fill="#267f8e"/><rect x="175" width="8" height="8" fill="#1e9e88"/><rect x="182" width="8" height="8" fill="#22a784"/><rect x="189" width="8" height="8" fill="#1e9b89"/><rect x="196" width="8" height="8" fill="#29798e"/><rect x="203" width="8" height="8" fill="#414286"/><rect x="210" width="8" height="8" fill="#471466"/><rect x="218" width="8" height="8" fill="#345f8d"/><rect x="225" width="8" height="8" fill="#1f928c"/><rect x="232" width="8" height="8" fill="#2eb27c"/><rect x="239" width="8" height="8" fill="#3bba75"/><rect x="246" width="8" height="8" fill="#24aa82"/><rect x="253" width="8" height="8" fill="#26818e"/><rect x="260" width="8" height="8" fill="#424085"/><rect x="267" width="8" height="8" fill="#472575"/><rect x="275" width="8" height="8" fill="#2a758e"/><rect x="282" width="8" height="8" fill="#27ad80"/><rect x="289" width="8" height="8" fill="#67cc5c"/><rect x="296" width="8" height="8" fill="#77d052"/><rect x="303" width="8" height="8" fill="#42be71"/><rect x="310" width="8" height="8" fill="#228a8d"/><rect x="317" width="8" height="8" fill="#433c84"/><rect x="324" width="8" height="8" fill="#433a83"/><rect x="332" width="8" height="8" fill="#208f8c"/><rect x="339" width="8" height="8" fill="#64cb5d"/><rect x="346" width="8" height="8" fill="#c7e01f"/>
</g>
<g transform="translate(0 255)">
<rect x="125" width="8" height="8" fill="#21a784"/><rect x="132" width="8" height="8" fill="#1e9a89"/><rect x="139" width="8" height="8" fill="#29788e"/><rect x="146" width="8" height="8" fill="#424085"/><rect x="153" width="8" height="8" fill="#471567"/><rect x="161" width="8" height="8" fill="#355d8c"/><rect x="168" width="8" height="8" fill="#218d8c"/><rect x="175" width="8" height="8" fill="#22a784"/><rect x="182" width="8" height="8" fill="#24aa82"/><rect x="189" width="8" height="8" fill="#1f958b"/><rect x="196" width="8" height="8" fill="#30678d"/><rect x="203" width="8" height="8" fill="#482071"/><rect x="210" width="8" height="8" fill="#423e85"/><rect x="218" width="8" height="8" fill="#267f8e"/><rect x="225" width="8" height="8" fill="#24aa82"/><rect x="232" width="8" height="8" fill="#40bd72"/><rect x="239" width="8" height="8" fill="#30b47a"/><rect x="246" width="8" height="8" fill="#20918c"/><rect x="253" width="8" height="8" fill="#39548b"/><rect x="260" width="8" height="8" fill="#470f62"/><rect x="267" width="8" height="8" fill="#2f6a8d"/><rect x="275" width="8" height="8" fill="#23a883"/><rect x="282" width="8" height="8" fill="#64cb5d"/><rect x="289" width="8" height="8" fill="#79d151"/><rect x="296" width="8" height="8" fill="#42be71"/><rect x="303" width="8" height="8" fill="#23888d"/><rect x="310" width="8" height="8" fill="#45327f"/><rect x="317" width="8" height="8" fill="#3f4587"/><rect x="324" width="8" height="8" fill="#1e9a89"/><rect x="332" width="8" height="8" fill="#7cd24f"/><rect x="339" width="8" height="8" fill="#cde01d"/><rect x="346" width="8" height="8" fill="#b7dd29"/>
</g>
<g transform="translate(0 262)">
<rect x="125" width="8" height="8" fill="#26ac81"/><rect x="132" width="8" height="8" fill="#1e9e88"/><rect x="139" width="8" height="8" fill="#29788e"/><rect x="146" width="8" height="8" fill="#443982"/><rect x="153" width="8" height="8" fill="#482374"/><rect x="161" width="8" height="8" fill="#2e6c8e"/><rect x="168" width="8" height="8" fill="#1e998a"/><rect x="175" width="8" height="8" fill="#2ab07e"/><rect x="182" width="8" height="8" fill="#25ab81"/><rect x="189" width="8" height="8" fill="#228a8d"/><rect x="196" width="8" height="8" fill="#3b518a"/><rect x="203" width="8" height="8" fill="#460c5f"/><rect x="210" width="8" height="8" fill="#32628d"/><rect x="218" width="8" height="8" fill="#1e9b89"/><rect x="225" width="8" height="8" fill="#3dbb74"/><rect x="232" width="8" height="8" fill="#42be71"/><rect x="239" width="8" height="8" fill="#1fa386"/><rect x="246" width="8" height="8" fill="#2e6b8e"/><rect x="253" width="8" height="8" fill="#471163"/><rect x="260" width="8" height="8" fill="#37598c"/><rect x="267" width="8" height="8" fill="#1e9e88"/><rect x="275" width="8" height="8" fill="#5ec961"/><rect x="282" width="8" height="8" fill="#7ed24e"/><rect x="289" width="8" height="8" fill="#49c16d"/><rect x="296" width="8" height="8" fill="#228a8d"/><rect x="303" width="8" height="8" fill="#45327f"/><rect x="310" width="8" height="8" fill="#3d4a89"/><rect x="317" width="8" height="8" fill="#1ea087"/><rect x="324" width="8" height="8" fill="#86d449"/><rect x="332" width="8" height="8" fill="#cfe11c"/><rect x="339" width="8" height="8" fill="#a2da37"/><rect x="346" width="8" height="8" fill="#29af7f"/>
</g>
<g transform="translate(0 269)">
<rect x="125" width="8" height="8" fill="#2cb17d"/><rect x="132" width="8" height="8" fill="#1fa386"/><rect x="139" width="8" height="8" fill="#29788e"/><rect x="146" width="8" height="8" fill="#46317e"/><rect x="153" width="8" height="8" fill="#45327f"/><rect x="161" width="8" height="8" fill="#287a8e"/><rect x="168" width="8" height="8" fill="#21a685"/><rect x="175" width="8" height="8" fill="#33b679"/><rect x="182" width="8" height="8" fill="#22a784"/><rect x="189" width="8" height="8" fill="#277c8e"/><rect x="196" width="8" height="8" fill="#45327f"/><rect x="203" width="8" height="8" fill="#453681"/><rect x="210" width="8" height="8" fill="#25828e"/><rect x="218" width="8" height="8" fill="#2eb27c"/><rect x="225" width="8" height="8" fill="#4fc369"/><rect x="232" width="8" height="8" fill="#32b57a"/><rect x="239" width="8" height="8" fill="#24868d"/><rect x="246" width="8" height="8" fill="#453681"/><rect x="253" width="8" height="8" fill="#423d84"/><rect x="260" width="8" height="8" fill="#208f8c"/><rect x="267" width="8" height="8" fill="#4fc369"/><rect x="275" width="8" height="8" fill="#83d34b"/><rect x="282" width="8" height="8" fill="#57c665"/><rect x="289" width="8" height="8" fill="#1f938b"/><rect x="296" width="8" height="8" fill="#433c84"/><rect x="303" width="8" height="8" fill="#3f4587"/><rect x="310" width="8" height="8" fill="#1ea087"/><rect x="317" width="8" height="8" fill="#8bd546"/><rect x="324" width="8" height="8" fill="#cde01d"/><rect x="332" width="8" height="8" fill="#95d73f"/><rect x="339" width="8" height="8" fill="#1fa386"/><rect x="346" width="8" height="8" fill="#414286"/>
</g>
<g transform="translate(0 276)">
<rect x="125" width="8" height="8" fill="#35b778"/><rect x="132" width="8" height="8" fill="#21a784"/><rect x="139" width="8" height="8" fill="#2a778e"/><rect x="146" width="8" height="8" fill="#472878"/><rect x="153" width="8" height="8" fill="#414186"/><rect x="161" width="8" height="8" fill="#23888d"/><rect x="168" width="8" height="8" fill="#2cb17d"/><rect x="175" width="8" height="8" fill="#3bba75"/><rect x="182" width="8" height="8" fill="#1fa286"/><rect x="189" width="8" height="8" fill="#2f6a8d"/><rect x="196" width="8" height="8" fill="#460e61"/><rect x="203" width="8" height="8" fill="#365b8c"/><rect x="210" width="8" height="8" fill="#1e9e88"/><rect x="218" width="8" height="8" fill="#4bc26c"/><rect x="225" width="8" height="8" fill="#4dc26b"/><rect x="232" width="8" height="8" fill="#1fa187"/><rect x="239" width="8" height="8" fill="#355d8c"/><rect x="246" width="8" height="8" fill="#471567"/><rect x="253" width="8" height="8" fill="#29798e"/><rect x="260" width="8" height="8" fill="#39b976"/><rect x="267" width="8" height="8" fill="#83d34b"/><rect x="275" width="8" height="8" fill="#6bcd59"/><rect x="282" width="8" height="8" fill="#1fa187"/><rect x="289" width="8" height="8" fill="#3d4c89"/><rect x="296" width="8" height="8" fill="#433a83"/><rect x="303" width="8" height="8" fill="#1e9a89"/><rect x="310" width="8" height="8" fill="#86d449"/><rect x="317" width="8" height="8" fill="#cde01d"/><rect x="324" width="8" height="8" fill="#90d643"/><rect x="332" width="8" height="8" fill="#1e9d88"/><rect x="339" width="8" height="8" fill="#45327f"/><rect x="346" width="8" height="8" fill="#33608d"/>
</g>
<g transform="translate(0 284)">
<rect x="125" width="8" height="8" fill="#3ebc73"/><rect x="132" width="8" height="8" fill="#24aa82"/><rect x="139" width="8" height="8" fill="#2a768e"/><rect x="146" width="8" height="8" fill="#481e70"/><rect x="153" width="8" height="8" fill="#3b508a"/><rect x="161" width="8" height="8" fill="#1f958b"/><rect x="168" width="8" height="8" fill="#3bba75"/><rect x="175" width="8" height="8" fill="#3ebc73"/><rect x="182" width="8" height="8" fill="#1e998a"/><rect x="189" width="8" height="8" fill="#39548b"/><rect x="196" width="8" height="8" fill="#481e70"/><rect x="203" width="8" height="8" fill="#287b8e"/><rect x="210" width="8" height="8" fill="#32b57a"/><rect x="218" width="8" height="8" fill="#60c960"/><rect x="225" width="8" height="8" fill="#3bba75"/><rect x="232" width="8" height="8" fill="#25838d"/><rect x="239" width="8" height="8" fill="#482374"/><rect x="246" width="8" height="8" fill="#37588c"/><rect x="253" width="8" height="8" fill="#23a883"/><rect x="260" width="8" height="8" fill="#79d151"/><rect x="267" width="8" height="8" fill="#83d34b"/><rect x="275" width="8" height="8" fill="#2cb17d"/><rect x="282" width="8" height="8" fill="#32628d"/><rect x="289" width="8" height="8" fill="#482273"/><rect x="296" width="8" height="8" fill="#208f8c"/><rect x="303" width="8" height="8" fill="#7cd24f"/><rect x="310" width="8" height="8" fill="#cfe11c"/><rect x="317" width="8" height="8" fill="#95d73f"/><rect x="324" width="8" height="8" fill="#1e9d88"/><rect x="332" width="8" height="8" fill="#462d7c"/><rect x="339" width="8" height="8" fill="#30688d"/><rect x="346" width="8" height="8" fill="#59c764"/>
</g>
<g transform="translate(0 291)">
<rect x="125" width="8" height="8" fill="#49c16d"/><rect x="132" width="8" height="8" fill="#28ae7f"/><rect x="139" width="8" height="8" fill="#2a758e"/><rect x="146" width="8" height="8" fill="#471466"/><rect x="153" width="8" height="8" fill="#345e8d"/><rect x="161" width="8" height="8" fill="#1fa386"/><rect x="168" width="8" height="8" fill="#4dc26b"/><rect x="175" width="8" height="8" fill="#3dbb74"/><rect x="182" width="8" height="8" fill="#218c8d"/><rect x="189" width="8" height="8" fill="#443781"/><rect x="196" width="8" height="8" fill="#3f4587"/><rect x="203" width="8" height="8" fill="#1e998a"/><rect x="210" width="8" height="8" fill="#55c666"/><rect x="218" width="8" height="8" fill="#62ca5f"/><rect x="225" width="8" height="8" fill="#21a784"/><rect x="232" width="8" height="8" fill="#365a8c"/><rect x="239" width="8" height="8" fill="#472777"/><rect x="246" width="8" height="8" fill="#218c8d"/><rect x="253" width="8" height="8" fill="#60c960"/><rect x="260" width="8" height="8" fill="#95d73f"/><rect x="267" width="8" height="8" fill="#4fc369"/><rect x="275" width="8" height="8" fill="#277d8e"/><rect x="282" width="8" height="8" fill="#440255"/><rect x="289" width="8" height="8" fill="#277d8e"/><rect x="296" width="8" height="8" fill="#64cb5d"/><rect x="303" width="8" height="8" fill="#cde01d"/><rect x="310" width="8" height="8" fill="#a2da37"/><rect x="317" width="8" height="8" fill="#1fa386"/><rect x="324" width="8" height="8" fill="#45327f"/><rect x="332" width="8" height="8" fill="#30688d"/><rect x="339" width="8" height="8" fill="#60c960"/><rect x="346" width="8" height="8" fill="#fde724"/>
</g>
<g transform="translate(0 298)">
<rect x="125" width="8" height="8" fill="#55c666"/><rect x="132" width="8" height="8" fill="#2cb17d"/><rect x="139" width="8" height="8" fill="#2c728e"/><rect x="146" width="8" height="8" fill="#45065a"/><rect x="153" width="8" height="8" fill="#2e6c8e"/><rect x="161" width="8" height="8" fill="#29af7f"/><rect x="168" width="8" height="8" fill="#5bc862"/><rect x="175" width="8" height="8" fill="#38b976"/><rect x="182" width="8" height="8" fill="#277c8e"/><rect x="189" width="8" height="8" fill="#471466"/><rect x="196" width="8" height="8" fill="#30688d"/><rect x="203" width="8" height="8" fill="#2cb17d"/><rect x="210" width="8" height="8" fill="#72cf55"/><rect x="218" width="8" height="8" fill="#51c468"/><rect x="225" width="8" height="8" fill="#22898d"/><rect x="232" width="8" height="8" fill="#482172"/><rect x="239" width="8" height="8" fill="#31658d"/><rect x="246" width="8" height="8" fill="#36b877"/><rect x="253" width="8" height="8" fill="#97d83e"/><rect x="260" width="8" height="8" fill="#7cd24f"/><rect x="267" width="8" height="8" fill="#1e9a89"/><rect x="275" width="8" height="8" fill="#46307d"/><rect x="282" width="8" height="8" fill="#32638d"/><rect x="289" width="8" height="8" fill="#45bf6f"/><rect x="296" width="8" height="8" fill="#c7e01f"/><rect x="303" width="8" height="8" fill="#b7dd29"/><rect x="310" width="8" height="8" fill="#29af7f"/><rect x="317" width="8" height="8" fill="#414286"/><rect x="324" width="8" height="8" fill="#33608d"/><rect x="332" width="8" height="8" fill="#59c764"/><rect x="339" width="8" height="8" fill="#fde724"/><rect x="346" width="8" height="8" fill="#fde724"/>
</g>
</g>
<g class="c">
<g transform="translate(0 78)">
<rect x="399" width="8" height="8" fill="#440154"/><rect x="406" width="8" height="8" fill="#450558"/><rect x="413" width="8" height="8" fill="#46095c"/><rect x="420" width="8" height="8" fill="#470f62"/><rect x="427" width="8" height="8" fill="#471466"/><rect x="435" width="8" height="8" fill="#48196b"/><rect x="442" width="8" height="8" fill="#481d6f"/><rect x="449" width="8" height="8" fill="#482172"/><rect x="456" width="8" height="8" fill="#472676"/><rect x="463" width="8" height="8" fill="#472a79"/><rect x="470" width="8" height="8" fill="#462d7c"/><rect x="477" width="8" height="8" fill="#45327f"/><rect x="484" width="8" height="8" fill="#453681"/><rect x="492" width="8" height="8" fill="#433a83"/><rect x="499" width="8" height="8" fill="#423e85"/><rect x="506" width="8" height="8" fill="#414286"/><rect x="513" width="8" height="8" fill="#3f4587"/><rect x="520" width="8" height="8" fill="#3d4a89"/><rect x="527" width="8" height="8" fill="#3c4d8a"/><rect x="534" width="8" height="8" fill="#3b518a"/><rect x="541" width="8" height="8" fill="#39548b"/><rect x="549" width="8" height="8" fill="#37588c"/><rect x="556" width="8" height="8" fill="#365b8c"/><rect x="563" width="8" height="8" fill="#345e8d"/><rect x="570" width="8" height="8" fill="#33618d"/><rect x="577" width="8" height="8" fill="#31648d"/><rect x="584" width="8" height="8" fill="#30678d"/><rect x="591" width="8" height="8" fill="#2f6a8d"/><rect x="598" width="8" height="8" fill="#2e6d8e"/><rect x="606" width="8" height="8" fill="#2c708e"/><rect x="613" width="8" height="8" fill="#2b738e"/><rect x="620" width="8" height="8" fill="#2a768e"/>
</g>
<g transform="translate(0 84)">
<rect x="399" width="8" height="8" fill="#450558"/><rect x="406" width="8" height="8" fill="#460e61"/><rect x="413" width="8" height="8" fill="#471669"/><rect x="420" width="8" height="8" fill="#481e70"/><rect x="427" width="8" height="8" fill="#472777"/><rect x="435" width="8" height="8" fill="#462f7c"/><rect x="442" width="8" height="8" fill="#443781"/><rect x="449" width="8" height="8" fill="#423e85"/><rect x="456" width="8" height="8" fill="#3f4788"/><rect x="463" width="8" height="8" fill="#3c4d8a"/><rect x="470" width="8" height="8" fill="#39558b"/><rect x="477" width="8" height="8" fill="#365b8c"/><rect x="484" width="8" height="8" fill="#33618d"/><rect x="492" width="8" height="8" fill="#30688d"/><rect x="499" width="8" height="8" fill="#2d6e8e"/><rect x="506" width="8" height="8" fill="#2b748e"/><rect x="513" width="8" height="8" fill="#287a8e"/><rect x="520" width="8" height="8" fill="#277e8e"/><rect x="527" width="8" height="8" fill="#24848d"/><rect x="534" width="8" height="8" fill="#22898d"/><rect x="541" width="8" height="8" fill="#218e8c"/><rect x="549" width="8" height="8" fill="#1f938b"/><rect x="556" width="8" height="8" fill="#1e988a"/><rect x="563" width="8" height="8" fill="#1e9c89"/><rect x="570" width="8" height="8" fill="#1fa187"/><rect x="577" width="8" height="8" fill="#21a685"/><rect x="584" width="8" height="8" fill="#23a982"/><rect x="591" width="8" height="8" fill="#28ae7f"/><rect x="598" width="8" height="8" fill="#2cb17d"/><rect x="606" width="8" height="8" fill="#32b57a"/><rect x="613" width="8" height="8" fill="#38b976"/><rect x="620" width="8" height="8" fill="#72cf55"/>
</g>
<g transform="translate(0 91)">
<rect x="399" width="8" height="8" fill="#46095c"/><rect x="406" width="8" height="8" fill="#471669"/><rect x="413" width="8" height="8" fill="#481c6e"/><rect x="420" width="8" height="8" fill="#482273"/><rect x="427" width="8" height="8" fill="#472a79"/><rect x="435" width="8" height="8" fill="#46317e"/><rect x="442" width="8" height="8" fill="#443982"/><rect x="449" width="8" height="8" fill="#424085"/><rect x="456" width="8" height="8" fill="#3f4788"/><rect x="463" width="8" height="8" fill="#3d4c89"/><rect x="470" width="8" height="8" fill="#3a538b"/><rect x="477" width="8" height="8" fill="#37588c"/><rect x="484" width="8" height="8" fill="#355d8c"/><rect x="492" width="8" height="8" fill="#32628d"/><rect x="499" width="8" height="8" fill="#30678d"/><rect x="506" width="8" height="8" fill="#2e6b8e"/><rect x="513" width="8" height="8" fill="#2d6f8e"/><rect x="520" width="8" height="8" fill="#2b738e"/><rect x="527" width="8" height="8" fill="#2a768e"/><rect x="534" width="8" height="8" fill="#29798e"/><rect x="541" width="8" height="8" fill="#287a8e"/><rect x="549" width="8" height="8" fill="#277c8e"/><rect x="556" width="8" height="8" fill="#277e8e"/><rect x="563" width="8" height="8" fill="#267f8e"/><rect x="570" width="8" height="8" fill="#26808e"/><rect x="577" width="8" height="8" fill="#26808e"/><rect x="584" width="8" height="8" fill="#26808e"/><rect x="591" width="8" height="8" fill="#267f8e"/><rect x="598" width="8" height="8" fill="#277e8e"/><rect x="606" width="8" height="8" fill="#277d8e"/><rect x="613" width="8" height="8" fill="#287b8e"/><rect x="620" width="8" height="8" fill="#70ce56"/>
</g>
<g transform="translate(0 98)">
<rect x="399" width="8" height="8" fill="#470f62"/><rect x="406" width="8" height="8" fill="#481e70"/><rect x="413" width="8" height="8" fill="#482273"/><rect x="420" width="8" height="8" fill="#472777"/><rect x="427" width="8" height="8" fill="#462d7c"/><rect x="435" width="8" height="8" fill="#45347f"/><rect x="442" width="8" height="8" fill="#433a83"/><rect x="449" width="8" height="8" fill="#424085"/><rect x="456" width="8" height="8" fill="#3f4587"/><rect x="463" width="8" height="8" fill="#3d4b89"/><rect x="470" width="8" height="8" fill="#3b508a"/><rect x="477" width="8" height="8" fill="#3a538b"/><rect x="484" width="8" height="8" fill="#38578c"/><rect x="492" width="8" height="8" fill="#37598c"/><rect x="499" width="8" height="8" fill="#365b8c"/><rect x="506" width="8" height="8" fill="#355d8c"/><rect x="513" width="8" height="8" fill="#345e8d"/><rect x="520" width="8" height="8" fill="#345e8d"/><rect x="527" width="8" height="8" fill="#345e8d"/><rect x="534" width="8" height="8" fill="#355d8c"/><rect x="541" width="8" height="8" fill="#365b8c"/><rect x="549" width="8" height="8" fill="#37588c"/><rect x="556" width="8" height="8" fill="#39558b"/><rect x="563" width="8" height="8" fill="#3b518a"/><rect x="570" width="8" height="8" fill="#3d4b89"/><rect x="577" width="8" height="8" fill="#404487"/><rect x="584" width="8" height="8" fill="#423d84"/><rect x="591" width="8" height="8" fill="#453580"/><rect x="598" width="8" height="8" fill="#472b7a"/><rect x="606" width="8" height="8" fill="#482172"/><rect x="613" width="8" height="8" fill="#471567"/><rect x="620" width="8" height="8" fill="#79d151"/>
</g>
<g transform="translate(0 105)">
<rect x="399" width="8" height="8" fill="#471466"/><rect x="406" width="8" height="8" fill="#472777"/><rect x="413" width="8" height="8" fill="#472a79"/><rect x="420" width="8" height="8" fill="#462d7c"/><rect x="427" width="8" height="8" fill="#45327f"/><rect x="435" width="8" height="8" fill="#443781"/><rect x="442" width="8" height="8" fill="#433c84"/><rect x="449" width="8" height="8" fill="#424085"/><rect x="456" width="8" height="8" fill="#404487"/><rect x="463" width="8" height="8" fill="#3e4888"/><rect x="470" width="8" height="8" fill="#3d4a89"/><rect x="477" width="8" height="8" fill="#3d4b89"/><rect x="484" width="8" height="8" fill="#3d4c89"/><rect x="492" width="8" height="8" fill="#3d4c89"/><rect x="499" width="8" height="8" fill="#3d4b89"/><rect x="506" width="8" height="8" fill="#3e4989"/><rect x="513" width="8" height="8" fill="#3f4587"/><rect x="520" width="8" height="8" fill="#414186"/><rect x="527" width="8" height="8" fill="#433c84"/><rect x="534" width="8" height="8" fill="#453580"/><rect x="541" width="8" height="8" fill="#472c7b"/><rect x="549" width="8" height="8" fill="#482273"/><rect x="556" width="8" height="8" fill="#471669"/><rect x="563" width="8" height="8" fill="#46095c"/><rect x="570" width="8" height="8" fill="#45065a"/><rect x="577" width="8" height="8" fill="#471669"/><rect x="584" width="8" height="8" fill="#472676"/><rect x="591" width="8" height="8" fill="#453681"/><rect x="598" width="8" height="8" fill="#3f4587"/><rect x="606" width="8" height="8" fill="#39558b"/><rect x="613" width="8" height="8" fill="#32638d"/><rect x="620" width="8" height="8" fill="#86d449"/>
</g>
<g transform="translate(0 113)">
<rect x="399" width="8" height="8" fill="#48196b"/><rect x="406" width="8" height="8" fill="#462f7c"/><rect x="413" width="8" height="8" fill="#46317e"/><rect x="420" width="8" height="8" fill="#45347f"/><rect x="427" width="8" height="8" fill="#443781"/><rect x="435" width="8" height="8" fill="#433b83"/><rect x="442" width="8" height="8" fill="#423d84"/><rect x="449" width="8" height="8" fill="#424085"/><rect x="456" width="8" height="8" fill="#414286"/><rect x="463" width="8" height="8" fill="#404387"/><rect x="470" width="8" height="8" fill="#404387"/><rect x="477" width="8" height="8" fill="#414186"/><rect x="484" width="8" height="8" fill="#423e85"/><rect x="492" width="8" height="8" fill="#433b83"/><rect x="499" width="8" height="8" fill="#453580"/><rect x="506" width="8" height="8" fill="#462d7c"/><rect x="513" width="8" height="8" fill="#472575"/><rect x="520" width="8" height="8" fill="#481a6c"/><rect x="527" width="8" height="8" fill="#460e61"/><rect x="534" width="8" height="8" fill="#440255"/><rect x="541" width="8" height="8" fill="#471265"/><rect x="549" width="8" height="8" fill="#482374"/><rect x="556" width="8" height="8" fill="#45347f"/><rect x="563" width="8" height="8" fill="#404487"/><rect x="570" width="8" height="8" fill="#39558b"/><rect x="577" width="8" height="8" fill="#31648d"/><rect x="584" width="8" height="8" fill="#2b738e"/><rect x="591" width="8" height="8" fill="#25828e"/><rect x="598" width="8" height="8" fill="#20908c"/><rect x="606" width="8" height="8" fill="#1e9f88"/><rect x="613" width="8" height="8" fill="#27ad80"/><rect x="620" width="8" height="8" fill="#88d547"/>
</g>
<g transform="translate(0 120)">
<rect x="399" width="8" height="8" fill="#481d6f"/><rect x="406" width="8" height="8" fill="#443781"/><rect x="413" width="8" height="8" fill="#443982"/><rect x="420" width="8" height="8" fill="#433a83"/><rect x="427" width="8" height="8" fill="#433c84"/><rect x="435" width="8" height="8" fill="#423d84"/><rect x="442" width="8" height="8" fill="#423e85"/><rect x="449" width="8" height="8" fill="#423e85"/><rect x="456" width="8" height="8" fill="#423e85"/><rect x="463" width="8" height="8" fill="#433c84"/><rect x="470" width="8" height="8" fill="#443982"/><rect x="477" width="8" height="8" fill="#45347f"/><rect x="484" width="8" height="8" fill="#462d7c"/><rect x="492" width="8" height="8" fill="#472575"/><rect x="499" width="8" height="8" fill="#48196b"/><rect x="506" width="8" height="8" fill="#460b5e"/><rect x="513" width="8" height="8" fill="#450558"/><rect x="520" width="8" height="8" fill="#471669"/><rect x="527" width="8" height="8" fill="#472777"/><rect x="534" width="8" height="8" fill="#443982"/><rect x="541" width="8" height="8" fill="#3d4a89"/><rect x="549" width="8" height="8" fill="#365b8c"/><rect x="556" width="8" height="8" fill="#2e6b8e"/><rect x="563" width="8" height="8" fill="#287a8e"/><rect x="570" width="8" height="8" fill="#23898d"/><rect x="577" width="8" height="8" fill="#1e988a"/><rect x="584" width="8" height="8" fill="#20a585"/><rect x="591" width="8" height="8" fill="#2cb17d"/><rect x="598" width="8" height="8" fill="#40bd72"/><rect x="606" width="8" height="8" fill="#55c666"/><rect x="613" width="8" height="8" fill="#6bcd59"/><rect x="620" width="8" height="8" fill="#77d052"/>
</g>
<g transform="translate(0 127)">
<rect x="399" width="8" height="8" fill="#482172"/><rect x="406" width="8" height="8" fill="#423e85"/><rect x="413" width="8" height="8" fill="#424085"/><rect x="420" width="8" height="8" fill="#424085"/><rect x="427" width="8" height="8" fill="#424085"/><rect x="435" width="8" height="8" fill="#424085"/><rect x="442" width="8" height="8" fill="#423e85"/><rect x="449" width="8" height="8" fill="#423d84"/><rect x="456" width="8" height="8" fill="#433a83"/><rect x="463" width="8" height="8" fill="#45347f"/><rect x="470" width="8" height="8" fill="#472c7b"/><rect x="477" width="8" height="8" fill="#482374"/><rect x="484" width="8" height="8" fill="#47186a"/><rect x="492" width="8" height="8" fill="#45085b"/><rect x="499" width="8" height="8" fill="#46095c"/><rect x="506" width="8" height="8" fill="#481c6e"/><rect x="513" width="8" height="8" fill="#462f7c"/><rect x="520" width="8" height="8" fill="#414186"/><rect x="527" width="8" height="8" fill="#3a538b"/><rect x="534" width="8" height="8" fill="#32638d"/><rect x="541" width="8" height="8" fill="#2b738e"/><rect x="549" width="8" height="8" fill="#25828e"/><rect x="556" width="8" height="8" fill="#20918c"/><rect x="563" width="8" height="8" fill="#1e9e88"/><rect x="570" width="8" height="8" fill="#24aa82"/><rect x="577" width="8" height="8" fill="#30b47a"/><rect x="584" width="8" height="8" fill="#40bd72"/><rect x="591" width="8" height="8" fill="#4dc26b"/><rect x="598" width="8" height="8" fill="#55c666"/><rect x="606" width="8" height="8" fill="#59c764"/><rect x="613" width="8" height="8" fill="#57c665"/><rect x="620" width="8" height="8" fill="#60c960"/>
</g>
<g transform="translate(0 134)">
<rect x="399" width="8" height="8" fill="#472676"/><rect x="406" width="8" height="8" fill="#3f4788"/><rect x="413" width="8" height="8" fill="#3f4788"/><rect x="420" width="8" height="8" fill="#3f4587"/><rect x="427" width="8" height="8" fill="#404487"/><rect x="435" width="8" height="8" fill="#414286"/><rect x="442" width="8" height="8" fill="#423e85"/><rect x="449" width="8" height="8" fill="#433a83"/><rect x="456" width="8" height="8" fill="#45327f"/><rect x="463" width="8" height="8" fill="#472878"/><rect x="470" width="8" height="8" fill="#481d6f"/><rect x="477" width="8" height="8" fill="#460e61"/><rect x="484" width="8" height="8" fill="#440357"/><rect x="492" width="8" height="8" fill="#47186a"/><rect x="499" width="8" height="8" fill="#472b7a"/><rect x="506" width="8" height="8" fill="#423e85"/><rect x="513" width="8" height="8" fill="#3a528b"/><rect x="520" width="8" height="8" fill="#32628d"/><rect x="527" width="8" height="8" fill="#2b738e"/><rect x="534" width="8" height="8" fill="#25828e"/><rect x="541" width="8" height="8" fill="#20908c"/><rect x="549" width="8" height="8" fill="#1e9c89"/><rect x="556" width="8" height="8" fill="#21a784"/><rect x="563" width="8" height="8" fill="#29af7f"/><rect x="570" width="8" height="8" fill="#30b47a"/><rect x="577" width="8" height="8" fill="#36b877"/><rect x="584" width="8" height="8" fill="#35b778"/><rect x="591" width="8" height="8" fill="#30b47a"/><rect x="598" width="8" height="8" fill="#27ad80"/><rect x="606" width="8" height="8" fill="#1fa386"/><rect x="613" width="8" height="8" fill="#1f958b"/><rect x="620" width="8" height="8" fill="#59c764"/>
</g>
<g transform="translate(0 141)">
<rect x="399" width="8" height="8" fill="#472a79"/><rect x="406" width="8" height="8" fill="#3c4d8a"/><rect x="413" width="8" height="8" fill="#3d4c89"/><rect x="420" width="8" height="8" fill="#3d4b89"/><rect x="427" width="8" height="8" fill="#3e4888"/><rect x="435" width="8" height="8" fill="#404387"/><rect x="442" width="8" height="8" fill="#433c84"/><rect x="449" width="8" height="8" fill="#45347f"/><rect x="456" width="8" height="8" fill="#472878"/><rect x="463" width="8" height="8" fill="#481c6e"/><rect x="470" width="8" height="8" fill="#46095c"/><rect x="477" width="8" height="8" fill="#460b5e"/><rect x="484" width="8" height="8" fill="#482071"/><rect x="492" width="8" height="8" fill="#453580"/><rect x="499" width="8" height="8" fill="#3e4989"/><rect x="506" width="8" height="8" fill="#365b8c"/><rect x="513" width="8" height="8" fill="#2e6d8e"/><rect x="520" width="8" height="8" fill="#277c8e"/><rect x="527" width="8" height="8" fill="#228a8d"/><rect x="534" width="8" height="8" fill="#1e978a"/><rect x="541" width="8" height="8" fill="#1ea087"/><rect x="549" width="8" height="8" fill="#21a784"/><rect x="556" width="8" height="8" fill="#24aa82"/><rect x="563" width="8" height="8" fill="#25ab81"/><rect x="570" width="8" height="8" fill="#22a784"/><rect x="577" width="8" height="8" fill="#1ea087"/><rect x="584" width="8" height="8" fill="#1f948b"/><rect x="591" width="8" height="8" fill="#24858d"/><rect x="598" width="8" height="8" fill="#2c718e"/><rect x="606" width="8" height="8" fill="#37598c"/><rect x="613" width="8" height="8" fill="#433b83"/><rect x="620" width="8" height="8" fill="#70ce56"/>
</g>
<g transform="translate(0 148)">
<rect x="399" width="8" height="8" fill="#462d7c"/><rect x="406" width="8" height="8" fill="#39558b"/><rect x="413" width="8" height="8" fill="#3a538b"/><rect x="420" width="8" height="8" fill="#3b508a"/><rect x="427" width="8" height="8" fill="#3d4a89"/><rect x="435" width="8" height="8" fill="#404387"/><rect x="442" width="8" height="8" fill="#443982"/><rect x="449" width="8" height="8" fill="#472c7b"/><rect x="456" width="8" height="8" fill="#481d6f"/><rect x="463" width="8" height="8" fill="#46095c"/><rect x="470" width="8" height="8" fill="#460e61"/><rect x="477" width="8" height="8" fill="#482374"/><rect x="484" width="8" height="8" fill="#433a83"/><rect x="492" width="8" height="8" fill="#3b508a"/><rect x="499" width="8" height="8" fill="#32628d"/><rect x="506" width="8" height="8" fill="#2b738e"/><rect x="513" width="8" height="8" fill="#25828e"/><rect x="520" width="8" height="8" fill="#218e8c"/><rect x="527" width="8" height="8" fill="#1e998a"/><rect x="534" width="8" height="8" fill="#1e9f88"/><rect x="541" width="8" height="8" fill="#1fa286"/><rect x="549" width="8" height="8" fill="#1fa187"/><rect x="556" width="8" height="8" fill="#1e9b89"/><rect x="563" width="8" height="8" fill="#20918c"/><rect x="570" width="8" height="8" fill="#25828e"/><rect x="577" width="8" height="8" fill="#2d6f8e"/><rect x="584" width="8" height="8" fill="#38578c"/><rect x="591" width="8" height="8" fill="#453681"/><rect x="598" width="8" height="8" fill="#460e61"/><rect x="606" width="8" height="8" fill="#482172"/><rect x="613" width="8" height="8" fill="#3d4a89"/><rect x="620" width="8" height="8" fill="#95d73f"/>
</g>
<g transform="translate(0 155)">
<rect x="399" width="8" height="8" fill="#45327f"/><rect x="406" width="8" height="8" fill="#365b8c"/><rect x="413" width="8" height="8" fill="#37588c"/><rect x="420" width="8" height="8" fill="#3a538b"/><rect x="427" width="8" height="8" fill="#3d4b89"/><rect x="435" width="8" height="8" fill="#414186"/><rect x="442" width="8" height="8" fill="#45347f"/><rect x="449" width="8" height="8" fill="#482374"/><rect x="456" width="8" height="8" fill="#460e61"/><rect x="463" width="8" height="8" fill="#460b5e"/><rect x="470" width="8" height="8" fill="#482374"/><rect x="477" width="8" height="8" fill="#433c84"/><rect x="484" width="8" height="8" fill="#3a528b"/><rect x="492" width="8" height="8" fill="#31658d"/><rect x="499" width="8" height="8" fill="#2a768e"/><rect x="506" width="8" height="8" fill="#24848d"/><rect x="513" width="8" height="8" fill="#20908c"/><rect x="520" width="8" height="8" fill="#1e988a"/><rect x="527" width="8" height="8" fill="#1e9b89"/><rect x="534" width="8" height="8" fill="#1e9a89"/><rect x="541" width="8" height="8" fill="#1f948b"/><rect x="549" width="8" height="8" fill="#23898d"/><rect x="556" width="8" height="8" fill="#29798e"/><rect x="563" width="8" height="8" fill="#32638d"/><rect x="570" width="8" height="8" fill="#3f4788"/><rect x="577" width="8" height="8" fill="#482273"/><rect x="584" width="8" height="8" fill="#460e61"/><rect x="591" width="8" height="8" fill="#433b83"/><rect x="598" width="8" height="8" fill="#32628d"/><rect x="606" width="8" height="8" fill="#24848d"/><rect x="613" width="8" height="8" fill="#1fa286"/><rect x="620" width="8" height="8" fill="#a2da37"/>
</g>
<g transform="translate(0 162)">
<rect x="399" width="8" height="8" fill="#453681"/><rect x="406" width="8" height="8" fill="#33618d"/><rect x="413" width="8" height="8" fill="#355d8c"/><rect x="420" width="8" height="8" fill="#38578c"/><rect x="427" width="8" height="8" fill="#3d4c89"/><rect x="435" width="8" height="8" fill="#423e85"/><rect x="442" width="8" height="8" fill="#462d7c"/><rect x="449" width="8" height="8" fill="#47186a"/><rect x="456" width="8" height="8" fill="#440357"/><rect x="463" width="8" height="8" fill="#482071"/><rect x="470" width="8" height="8" fill="#433a83"/><rect x="477" width="8" height="8" fill="#3a528b"/><rect x="484" width="8" height="8" fill="#31668d"/><rect x="492" width="8" height="8" fill="#29788e"/><rect x="499" width="8" height="8" fill="#24868d"/><rect x="506" width="8" height="8" fill="#20908c"/><rect x="513" width="8" height="8" fill="#1f968b"/><rect x="520" width="8" height="8" fill="#1e978a"/><rect x="527" width="8" height="8" fill="#1f928c"/><rect x="534" width="8" height="8" fill="#23888d"/><rect x="541" width="8" height="8" fill="#29788e"/><rect x="549" width="8" height="8" fill="#32628d"/><rect x="556" width="8" height="8" fill="#404487"/><rect x="563" width="8" height="8" fill="#481d6f"/><rect x="570" width="8" height="8" fill="#471567"/><rect x="577" width="8" height="8" fill="#404387"/><rect x="584" width="8" height="8" fill="#2f6a8d"/><rect x="591" width="8" height="8" fill="#228b8d"/><rect x="598" width="8" height="8" fill="#23a982"/><rect x="606" width="8" height="8" fill="#49c16d"/><rect x="613" width="8" height="8" fill="#77d052"/><rect x="620" width="8" height="8" fill="#86d449"/>
</g>
<g transform="translate(0 170)">
<rect x="399" width="8" height="8" fill="#433a83"/><rect x="406" width="8" height="8" fill="#30688d"/><rect x="413" width="8" height="8" fill="#32628d"/><rect x="420" width="8" height="8" fill="#37598c"/><rect x="427" width="8" height="8" fill="#3d4c89"/><rect x="435" width="8" height="8" fill="#433b83"/><rect x="442" width="8" height="8" fill="#472575"/><rect x="449" width="8" height="8" fill="#45085b"/><rect x="456" width="8" height="8" fill="#47186a"/><rect x="463" width="8" height="8" fill="#453580"/><rect x="470" width="8" height="8" fill="#3b508a"/><rect x="477" width="8" height="8" fill="#31658d"/><rect x="484" width="8" height="8" fill="#29788e"/><rect x="492" width="8" height="8" fill="#24868d"/><rect x="499" width="8" height="8" fill="#20908c"/><rect x="506" width="8" height="8" fill="#1f958b"/><rect x="513" width="8" height="8" fill="#1f938b"/><rect x="520" width="8" height="8" fill="#228b8d"/><rect x="527" width="8" height="8" fill="#277d8e"/><rect x="534" width="8" height="8" fill="#2f698d"/><rect x="541" width="8" height="8" fill="#3d4c89"/><rect x="549" width="8" height="8" fill="#472676"/><rect x="556" width="8" height="8" fill="#460c5f"/><rect x="563" width="8" height="8" fill="#423d84"/><rect x="570" width="8" height="8" fill="#31668d"/><rect x="577" width="8" height="8" fill="#23898d"/><rect x="584" width="8" height="8" fill="#21a784"/><rect x="591" width="8" height="8" fill="#44be70"/><rect x="598" width="8" height="8" fill="#6bcd59"/><rect x="606" width="8" height="8" fill="#86d449"/><rect x="613" width="8" height="8" fill="#88d547"/><rect x="620" width="8" height="8" fill="#55c666"/>
</g>
<g transform="translate(0 177)">
<rect x="399" width="8" height="8" fill="#423e85"/><rect x="406" width="8" height="8" fill="#2d6e8e"/><rect x="413" width="8" height="8" fill="#30678d"/><rect x="420" width="8" height="8" fill="#365b8c"/><rect x="427" width="8" height="8" fill="#3d4b89"/><rect x="435" width="8" height="8" fill="#453580"/><rect x="442" width="8" height="8" fill="#48196b"/><rect x="449" width="8" height="8" fill="#46095c"/><rect x="456" width="8" height="8" fill="#472b7a"/><rect x="463" width="8" height="8" fill="#3e4989"/><rect x="470" width="8" height="8" fill="#32628d"/><rect x="477" width="8" height="8" fill="#2a768e"/><rect x="484" width="8" height="8" fill="#24868d"/><rect x="492" width="8" height="8" fill="#20908c"/><rect x="499" width="8" height="8" fill="#1f948b"/><rect x="506" width="8" height="8" fill="#20918c"/><rect x="513" width="8" height="8" fill="#23888d"/><rect x="520" width="8" height="8" fill="#2a778e"/><rect x="527" width="8" height="8" fill="#355d8c"/><rect x="534" width="8" height="8" fill="#433b83"/><rect x="541" width="8" height="8" fill="#460c5f"/><rect x="549" width="8" height="8" fill="#472a79"/><rect x="556" width="8" height="8" fill="#37588c"/><rect x="563" width="8" height="8" fill="#277d8e"/><rect x="570" width="8" height="8" fill="#1e9d88"/><rect x="577" width="8" height="8" fill="#36b877"/><rect x="584" width="8" height="8" fill="#5bc862"/><rect x="591" width="8" height="8" fill="#72cf55"/><rect x="598" width="8" height="8" fill="#70ce56"/><rect x="606" width="8" height="8" fill="#55c666"/><rect x="613" width="8" height="8" fill="#2eb27c"/><rect x="620" width="8" height="8" fill="#42be71"/>
</g>
<g transform="translate(0 184)">
<rect x="399" width="8" height="8" fill="#414286"/><rect x="406" width="8" height="8" fill="#2b748e"/><rect x="413" width="8" height="8" fill="#2e6b8e"/><rect x="420" width="8" height="8" fill="#355d8c"/><rect x="427" width="8" height="8" fill="#3e4989"/><rect x="435" width="8" height="8" fill="#462d7c"/><rect x="442" width="8" height="8" fill="#460b5e"/><rect x="449" width="8" height="8" fill="#481c6e"/><rect x="456" width="8" height="8" fill="#423e85"/><rect x="463" width="8" height="8" fill="#365b8c"/><rect x="470" width="8" height="8" fill="#2b738e"/><rect x="477" width="8" height="8" fill="#24848d"/><rect x="484" width="8" height="8" fill="#20908c"/><rect x="492" width="8" height="8" fill="#1f958b"/><rect x="499" width="8" height="8" fill="#20918c"/><rect x="506" width="8" height="8" fill="#24868d"/><rect x="513" width="8" height="8" fill="#2b738e"/><rect x="520" width="8" height="8" fill="#38568b"/><rect x="527" width="8" height="8" fill="#462d7c"/><rect x="534" width="8" height="8" fill="#45085b"/><rect x="541" width="8" height="8" fill="#423d84"/><rect x="549" width="8" height="8" fill="#2f698d"/><rect x="556" width="8" height="8" fill="#218d8c"/><rect x="563" width="8" height="8" fill="#25ab81"/><rect x="570" width="8" height="8" fill="#45bf6f"/><rect x="577" width="8" height="8" fill="#60c960"/><rect x="584" width="8" height="8" fill="#62ca5f"/><rect x="591" width="8" height="8" fill="#4bc26c"/><rect x="598" width="8" height="8" fill="#27ad80"/><rect x="606" width="8" height="8" fill="#228b8d"/><rect x="613" width="8" height="8" fill="#33608d"/><rect x="620" width="8" height="8" fill="#5ec961"/>
</g>
<g transform="translate(0 191)">
<rect x="399" width="8" height="8" fill="#3f4587"/><rect x="406" width="8" height="8" fill="#287a8e"/><rect x="413" width="8" height="8" fill="#2d6f8e"/><rect x="420" width="8" height="8" fill="#345e8d"/><rect x="427" width="8" height="8" fill="#3f4587"/><rect x="435" width="8" height="8" fill="#472575"/><rect x="442" width="8" height="8" fill="#450558"/><rect x="449" width="8" height="8" fill="#462f7c"/><rect x="456" width="8" height="8" fill="#3a528b"/><rect x="463" width="8" height="8" fill="#2e6d8e"/><rect x="470" width="8" height="8" fill="#25828e"/><rect x="477" width="8" height="8" fill="#20908c"/><rect x="484" width="8" height="8" fill="#1f968b"/><rect x="492" width="8" height="8" fill="#1f938b"/><rect x="499" width="8" height="8" fill="#23888d"/><rect x="506" width="8" height="8" fill="#2b738e"/><rect x="513" width="8" height="8" fill="#39548b"/><rect x="520" width="8" height="8" fill="#472777"/><rect x="527" width="8" height="8" fill="#471466"/><rect x="534" width="8" height="8" fill="#3d4a89"/><rect x="541" width="8" height="8" fill="#2a758e"/><rect x="549" width="8" height="8" fill="#1e988a"/><rect x="556" width="8" height="8" fill="#2eb27c"/><rect x="563" width="8" height="8" fill="#4dc26b"/><rect x="570" width="8" height="8" fill="#5bc862"/><rect x="577" width="8" height="8" fill="#4bc26c"/><rect x="584" width="8" height="8" fill="#2ab07e"/><rect x="591" width="8" height="8" fill="#208f8c"/><rect x="598" width="8" height="8" fill="#31648d"/><rect x="606" width="8" height="8" fill="#472777"/><rect x="613" width="8" height="8" fill="#472a79"/><rect x="620" width="8" height="8" fill="#9ad83c"/>
</g>
<g transform="translate(0 198)">
<rect x="399" width="8" height="8" fill="#3d4a89"/><rect x="406" width="8" height="8" fill="#277e8e"/><rect x="413" width="8" height="8" fill="#2b738e"/><rect x="420" width="8" height="8" fill="#345e8d"/><rect x="427" width="8" height="8" fill="#414186"/><rect x="435" width="8" height="8" fill="#481a6c"/><rect x="442" width="8" height="8" fill="#471669"/><rect x="449" width="8" height="8" fill="#414186"/><rect x="456" width="8" height="8" fill="#32628d"/><rect x="463" width="8" height="8" fill="#277c8e"/><rect x="470" width="8" height="8" fill="#218e8c"/><rect x="477" width="8" height="8" fill="#1e988a"/><rect x="484" width="8" height="8" fill="#1e978a"/><rect x="492" width="8" height="8" fill="#228b8d"/><rect x="499" width="8" height="8" fill="#2a778e"/><rect x="506" width="8" height="8" fill="#38568b"/><rect x="513" width="8" height="8" fill="#472777"/><rect x="520" width="8" height="8" fill="#47186a"/><rect x="527" width="8" height="8" fill="#3b508a"/><rect x="534" width="8" height="8" fill="#287a8e"/><rect x="541" width="8" height="8" fill="#1e9d88"/><rect x="549" width="8" height="8" fill="#35b778"/><rect x="556" width="8" height="8" fill="#4fc369"/><rect x="563" width="8" height="8" fill="#4fc369"/><rect x="570" width="8" height="8" fill="#36b877"/><rect x="577" width="8" height="8" fill="#1e9c89"/><rect x="584" width="8" height="8" fill="#2b738e"/><rect x="591" width="8" height="8" fill="#433b83"/><rect x="598" width="8" height="8" fill="#471669"/><rect x="606" width="8" height="8" fill="#345e8d"/><rect x="613" width="8" height="8" fill="#1f968b"/><rect x="620" width="8" height="8" fill="#bade27"/>
</g>
<g transform="translate(0 205)">
<rect x="399" width="8" height="8" fill="#3c4d8a"/><rect x="406" width="8" height="8" fill="#24848d"/><rect x="413" width="8" height="8" fill="#2a768e"/><rect x="420" width="8" height="8" fill="#345e8d"/><rect x="427" width="8" height="8" fill="#433c84"/><rect x="435" width="8" height="8" fill="#460e61"/><rect x="442" width="8" height="8" fill="#472777"/><rect x="449" width="8" height="8" fill="#3a538b"/><rect x="456" width="8" height="8" fill="#2b738e"/><rect x="463" width="8" height="8" fill="#228a8d"/><rect x="470" width="8" height="8" fill="#1e998a"/><rect x="477" width="8" height="8" fill="#1e9b89"/><rect x="484" width="8" height="8" fill="#1f928c"/><rect x="492" width="8" height="8" fill="#277d8e"/><rect x="499" width="8" height="8" fill="#355d8c"/><rect x="506" width="8" height="8" fill="#462d7c"/><rect x="513" width="8" height="8" fill="#471466"/><rect x="520" width="8" height="8" fill="#3b508a"/><rect x="527" width="8" height="8" fill="#277c8e"/><rect x="534" width="8" height="8" fill="#1ea087"/><rect x="541" width="8" height="8" fill="#38b976"/><rect x="549" width="8" height="8" fill="#4fc369"/><rect x="556" width="8" height="8" fill="#45bf6f"/><rect x="563" width="8" height="8" fill="#27ad80"/><rect x="570" width="8" height="8" fill="#228a8d"/><rect x="577" width="8" height="8" fill="#365a8c"/><rect x="584" width="8" height="8" fill="#471466"/><rect x="591" width="8" height="8" fill="#414286"/><rect x="598" width="8" height="8" fill="#26818e"/><rect x="606" width="8" height="8" fill="#30b47a"/><rect x="613" width="8" height="8" fill="#83d34b"/><rect x="620" width="8" height="8" fill="#9ad83c"/>
</g>
<g transform="translate(0 212)">
<rect x="399" width="8" height="8" fill="#3b518a"/><rect x="406" width="8" height="8" fill="#22898d"/><rect x="413" width="8" height="8" fill="#29798e"/><rect x="420" width="8" height="8" fill="#355d8c"/><rect x="427" width="8" height="8" fill="#453580"/><rect x="435" width="8" height="8" fill="#440255"/><rect x="442" width="8" height="8" fill="#443982"/><rect x="449" width="8" height="8" fill="#32638d"/><rect x="456" width="8" height="8" fill="#25828e"/><rect x="463" width="8" height="8" fill="#1e978a"/><rect x="470" width="8" height="8" fill="#1e9f88"/><rect x="477" width="8" height="8" fill="#1e9a89"/><rect x="484" width="8" height="8" fill="#23888d"/><rect x="492" width="8" height="8" fill="#2f698d"/><rect x="499" width="8" height="8" fill="#433b83"/><rect x="506" width="8" height="8" fill="#45085b"/><rect x="513" width="8" height="8" fill="#3d4a89"/><rect x="520" width="8" height="8" fill="#287a8e"/><rect x="527" width="8" height="8" fill="#1ea087"/><rect x="534" width="8" height="8" fill="#39b976"/><rect x="541" width="8" height="8" fill="#4dc26b"/><rect x="549" width="8" height="8" fill="#40bd72"/><rect x="556" width="8" height="8" fill="#21a685"/><rect x="563" width="8" height="8" fill="#277d8e"/><rect x="570" width="8" height="8" fill="#404487"/><rect x="577" width="8" height="8" fill="#471163"/><rect x="584" width="8" height="8" fill="#345f8d"/><rect x="591" width="8" height="8" fill="#1e998a"/><rect x="598" width="8" height="8" fill="#55c666"/><rect x="606" width="8" height="8" fill="#a5da35"/><rect x="613" width="8" height="8" fill="#c5df21"/><rect x="620" width="8" height="8" fill="#53c567"/>
</g>
<g transform="translate(0 219)">
<rect x="399" width="8" height="8" fill="#39548b"/><rect x="406" width="8" height="8" fill="#218e8c"/><rect x="413" width="8" height="8" fill="#287a8e"/><rect x="420" width="8" height="8" fill="#365b8c"/><rect x="427" width="8" height="8" fill="#472c7b"/><rect x="435" width="8" height="8" fill="#471265"/><rect x="442" width="8" height="8" fill="#3d4a89"/><rect x="449" width="8" height="8" fill="#2b738e"/><rect x="456" width="8" height="8" fill="#20908c"/><rect x="463" width="8" height="8" fill="#1ea087"/><rect x="470" width="8" height="8" fill="#1fa286"/><rect x="477" width="8" height="8" fill="#1f948b"/><rect x="484" width="8" height="8" fill="#29788e"/><rect x="492" width="8" height="8" fill="#3d4c89"/><rect x="499" width="8" height="8" fill="#460c5f"/><rect x="506" width="8" height="8" fill="#423d84"/><rect x="513" width="8" height="8" fill="#2a758e"/><rect x="520" width="8" height="8" fill="#1e9d88"/><rect x="527" width="8" height="8" fill="#38b976"/><rect x="534" width="8" height="8" fill="#4dc26b"/><rect x="541" width="8" height="8" fill="#3dbb74"/><rect x="549" width="8" height="8" fill="#1fa187"/><rect x="556" width="8" height="8" fill="#2a768e"/><rect x="563" width="8" height="8" fill="#453580"/><rect x="570" width="8" height="8" fill="#472777"/><rect x="577" width="8" height="8" fill="#2c728e"/><rect x="584" width="8" height="8" fill="#24aa82"/><rect x="591" width="8" height="8" fill="#72cf55"/><rect x="598" width="8" height="8" fill="#b2dd2c"/><rect x="606" width="8" height="8" fill="#b2dd2c"/><rect x="613" width="8" height="8" fill="#70ce56"/><rect x="620" width="8" height="8" fill="#2fb37b"/>
</g>
<g transform="translate(0 227)">
<rect x="399" width="8" height="8" fill="#37588c"/><rect x="406" width="8" height="8" fill="#1f938b"/><rect x="413" width="8" height="8" fill="#277c8e"/><rect x="420" width="8" height="8" fill="#37588c"/><rect x="427" width="8" height="8" fill="#482273"/><rect x="435" width="8" height="8" fill="#482374"/><rect x="442" width="8" height="8" fill="#365b8c"/><rect x="449" width="8" height="8" fill="#25828e"/><rect x="456" width="8" height="8" fill="#1e9c89"/><rect x="463" width="8" height="8" fill="#21a784"/><rect x="470" width="8" height="8" fill="#1fa187"/><rect x="477" width="8" height="8" fill="#23898d"/><rect x="484" width="8" height="8" fill="#32628d"/><rect x="492" width="8" height="8" fill="#472676"/><rect x="499" width="8" height="8" fill="#472a79"/><rect x="506" width="8" height="8" fill="#2f698d"/><rect x="513" width="8" height="8" fill="#1e988a"/><rect x="520" width="8" height="8" fill="#35b778"/><rect x="527" width="8" height="8" fill="#4fc369"/><rect x="534" width="8" height="8" fill="#40bd72"/><rect x="541" width="8" height="8" fill="#1fa187"/><rect x="549" width="8" height="8" fill="#2b738e"/><rect x="556" width="8" height="8" fill="#472c7b"/><rect x="563" width="8" height="8" fill="#45347f"/><rect x="570" width="8" height="8" fill="#277d8e"/><rect x="577" width="8" height="8" fill="#32b57a"/><rect x="584" width="8" height="8" fill="#86d449"/><rect x="591" width="8" height="8" fill="#b2dd2c"/><rect x="598" width="8" height="8" fill="#95d73f"/><rect x="606" width="8" height="8" fill="#42be71"/><rect x="613" width="8" height="8" fill="#24858d"/><rect x="620" width="8" height="8" fill="#47c06e"/>
</g>
<g transform="translate(0 234)">
<rect x="399" width="8" height="8" fill="#365b8c"/><rect x="406" width="8" height="8" fill="#1e988a"/><rect x="413" width="8" height="8" fill="#277e8e"/><rect x="420" width="8" height="8" fill="#39558b"/><rect x="427" width="8" height="8" fill="#471669"/><rect x="435" width="8" height="8" fill="#45347f"/><rect x="442" width="8" height="8" fill="#2e6b8e"/><rect x="449" width="8" height="8" fill="#20918c"/><rect x="456" width="8" height="8" fill="#21a784"/><rect x="463" width="8" height="8" fill="#24aa82"/><rect x="470" width="8" height="8" fill="#1e9b89"/><rect x="477" width="8" height="8" fill="#29798e"/><rect x="484" width="8" height="8" fill="#404487"/><rect x="492" width="8" height="8" fill="#460c5f"/><rect x="499" width="8" height="8" fill="#37588c"/><rect x="506" width="8" height="8" fill="#218d8c"/><rect x="513" width="8" height="8" fill="#2eb27c"/><rect x="520" width="8" height="8" fill="#4fc369"/><rect x="527" width="8" height="8" fill="#45bf6f"/><rect x="534" width="8" height="8" fill="#21a685"/><rect x="541" width="8" height="8" fill="#2a768e"/><rect x="549" width="8" height="8" fill="#472c7b"/><rect x="556" width="8" height="8" fill="#443982"/><rect x="563" width="8" height="8" fill="#25838d"/><rect x="570" width="8" height="8" fill="#3bba75"/><rect x="577" width="8" height="8" fill="#90d643"/><rect x="584" width="8" height="8" fill="#addc30"/><rect x="591" width="8" height="8" fill="#7cd24f"/><rect x="598" width="8" height="8" fill="#26ac81"/><rect x="606" width="8" height="8" fill="#2f698d"/><rect x="613" width="8" height="8" fill="#440255"/><rect x="620" width="8" height="8" fill="#97d83e"/>
</g>
<g transform="translate(0 241)">
<rect x="399" width="8" height="8" fill="#345e8d"/><rect x="406" width="8" height="8" fill="#1e9c89"/><rect x="413" width="8" height="8" fill="#267f8e"/><rect x="420" width="8" height="8" fill="#3b518a"/><rect x="427" width="8" height="8" fill="#46095c"/><rect x="435" width="8" height="8" fill="#404487"/><rect x="442" width="8" height="8" fill="#287a8e"/><rect x="449" width="8" height="8" fill="#1e9e88"/><rect x="456" width="8" height="8" fill="#29af7f"/><rect x="463" width="8" height="8" fill="#25ab81"/><rect x="470" width="8" height="8" fill="#20918c"/><rect x="477" width="8" height="8" fill="#32638d"/><rect x="484" width="8" height="8" fill="#481d6f"/><rect x="492" width="8" height="8" fill="#423d84"/><rect x="499" width="8" height="8" fill="#277d8e"/><rect x="506" width="8" height="8" fill="#25ab81"/><rect x="513" width="8" height="8" fill="#4dc26b"/><rect x="520" width="8" height="8" fill="#4fc369"/><rect x="527" width="8" height="8" fill="#27ad80"/><rect x="534" width="8" height="8" fill="#277d8e"/><rect x="541" width="8" height="8" fill="#453580"/><rect x="549" width="8" height="8" fill="#45347f"/><rect x="556" width="8" height="8" fill="#25838d"/><rect x="563" width="8" height="8" fill="#3ebc73"/><rect x="570" width="8" height="8" fill="#92d741"/><rect x="577" width="8" height="8" fill="#a7db33"/><rect x="584" width="8" height="8" fill="#6bcd59"/><rect x="591" width="8" height="8" fill="#1e9e88"/><rect x="598" width="8" height="8" fill="#3a528b"/><rect x="606" width="8" height="8" fill="#472575"/><rect x="613" width="8" height="8" fill="#24868d"/><rect x="620" width="8" height="8" fill="#cfe11c"/>
</g>
<g transform="translate(0 248)">
<rect x="399" width="8" height="8" fill="#33618d"/><rect x="406" width="8" height="8" fill="#1fa187"/><rect x="413" width="8" height="8" fill="#26808e"/><rect x="420" width="8" height="8" fill="#3d4b89"/><rect x="427" width="8" height="8" fill="#45065a"/><rect x="435" width="8" height="8" fill="#39558b"/><rect x="442" width="8" height="8" fill="#23898d"/><rect x="449" width="8" height="8" fill="#24aa82"/><rect x="456" width="8" height="8" fill="#30b47a"/><rect x="463" width="8" height="8" fill="#22a784"/><rect x="470" width="8" height="8" fill="#25828e"/><rect x="477" width="8" height="8" fill="#3f4788"/><rect x="484" width="8" height="8" fill="#471567"/><rect x="492" width="8" height="8" fill="#31668d"/><rect x="499" width="8" height="8" fill="#1e9d88"/><rect x="506" width="8" height="8" fill="#45bf6f"/><rect x="513" width="8" height="8" fill="#5bc862"/><rect x="520" width="8" height="8" fill="#36b877"/><rect x="527" width="8" height="8" fill="#228a8d"/><rect x="534" width="8" height="8" fill="#404487"/><rect x="541" width="8" height="8" fill="#472777"/><rect x="549" width="8" height="8" fill="#277d8e"/><rect x="556" width="8" height="8" fill="#3bba75"/><rect x="563" width="8" height="8" fill="#92d741"/><rect x="570" width="8" height="8" fill="#a7db33"/><rect x="577" width="8" height="8" fill="#60c960"/><rect x="584" width="8" height="8" fill="#1f958b"/><rect x="591" width="8" height="8" fill="#414186"/><rect x="598" width="8" height="8" fill="#423d84"/><rect x="606" width="8" height="8" fill="#1e998a"/><rect x="613" width="8" height="8" fill="#8bd546"/><rect x="620" width="8" height="8" fill="#b7dd29"/>
</g>
<g transform="translate(0 255)">
<rect x="399" width="8" height="8" fill="#31648d"/><rect x="406" width="8" height="8" fill="#21a685"/><rect x="413" width="8" height="8" fill="#26808e"/><rect x="420" width="8" height="8" fill="#404487"/><rect x="427" width="8" height="8" fill="#471669"/><rect x="435" width="8" height="8" fill="#31648d"/><rect x="442" width="8" height="8" fill="#1e988a"/><rect x="449" width="8" height="8" fill="#30b47a"/><rect x="456" width="8" height="8" fill="#36b877"/><rect x="463" width="8" height="8" fill="#1ea087"/><rect x="470" width="8" height="8" fill="#2d6f8e"/><rect x="477" width="8" height="8" fill="#482273"/><rect x="484" width="8" height="8" fill="#404387"/><rect x="492" width="8" height="8" fill="#23898d"/><rect x="499" width="8" height="8" fill="#36b877"/><rect x="506" width="8" height="8" fill="#60c960"/><rect x="513" width="8" height="8" fill="#4bc26c"/><rect x="520" width="8" height="8" fill="#1e9c89"/><rect x="527" width="8" height="8" fill="#365a8c"/><rect x="534" width="8" height="8" fill="#471163"/><rect x="541" width="8" height="8" fill="#2c728e"/><rect x="549" width="8" height="8" fill="#32b57a"/><rect x="556" width="8" height="8" fill="#90d643"/><rect x="563" width="8" height="8" fill="#a7db33"/><rect x="570" width="8" height="8" fill="#60c960"/><rect x="577" width="8" height="8" fill="#1f928c"/><rect x="584" width="8" height="8" fill="#443781"/><rect x="591" width="8" height="8" fill="#3d4b89"/><rect x="598" width="8" height="8" fill="#21a685"/><rect x="606" width="8" height="8" fill="#a5da35"/><rect x="613" width="8" height="8" fill="#fde724"/><rect x="620" width="8" height="8" fill="#5bc862"/>
</g>
<g transform="translate(0 262)">
<rect x="399" width="8" height="8" fill="#30678d"/><rect x="406" width="8" height="8" fill="#23a982"/><rect x="413" width="8" height="8" fill="#26808e"/><rect x="420" width="8" height="8" fill="#423d84"/><rect x="427" width="8" height="8" fill="#472676"/><rect x="435" width="8" height="8" fill="#2b738e"/><rect x="442" width="8" height="8" fill="#20a585"/><rect x="449" width="8" height="8" fill="#40bd72"/><rect x="456" width="8" height="8" fill="#35b778"/><rect x="463" width="8" height="8" fill="#1f948b"/><rect x="470" width="8" height="8" fill="#38578c"/><rect x="477" width="8" height="8" fill="#460e61"/><rect x="484" width="8" height="8" fill="#2f6a8d"/><rect x="492" width="8" height="8" fill="#21a784"/><rect x="499" width="8" height="8" fill="#5bc862"/><rect x="506" width="8" height="8" fill="#62ca5f"/><rect x="513" width="8" height="8" fill="#2ab07e"/><rect x="520" width="8" height="8" fill="#2b738e"/><rect x="527" width="8" height="8" fill="#471466"/><rect x="534" width="8" height="8" fill="#345f8d"/><rect x="541" width="8" height="8" fill="#24aa82"/><rect x="549" width="8" height="8" fill="#86d449"/><rect x="556" width="8" height="8" fill="#addc30"/><rect x="563" width="8" height="8" fill="#6bcd59"/><rect x="570" width="8" height="8" fill="#1f958b"/><rect x="577" width="8" height="8" fill="#443781"/><rect x="584" width="8" height="8" fill="#3b508a"/><rect x="591" width="8" height="8" fill="#25ab81"/><rect x="598" width="8" height="8" fill="#b2dd2c"/><rect x="606" width="8" height="8" fill="#fde724"/><rect x="613" width="8" height="8" fill="#cfe11c"/><rect x="620" width="8" height="8" fill="#24aa82"/>
</g>
<g transform="translate(0 269)">
<rect x="399" width="8" height="8" fill="#2f6a8d"/><rect x="406" width="8" height="8" fill="#28ae7f"/><rect x="413" width="8" height="8" fill="#267f8e"/><rect x="420" width="8" height="8" fill="#453580"/><rect x="427" width="8" height="8" fill="#453681"/><rect x="435" width="8" height="8" fill="#25828e"/><rect x="442" width="8" height="8" fill="#2cb17d"/><rect x="449" width="8" height="8" fill="#4dc26b"/><rect x="456" width="8" height="8" fill="#30b47a"/><rect x="463" width="8" height="8" fill="#24858d"/><rect x="470" width="8" height="8" fill="#453681"/><rect x="477" width="8" height="8" fill="#433b83"/><rect x="484" width="8" height="8" fill="#228b8d"/><rect x="492" width="8" height="8" fill="#44be70"/><rect x="499" width="8" height="8" fill="#72cf55"/><rect x="506" width="8" height="8" fill="#4bc26c"/><rect x="513" width="8" height="8" fill="#208f8c"/><rect x="520" width="8" height="8" fill="#433b83"/><rect x="527" width="8" height="8" fill="#414286"/><rect x="534" width="8" height="8" fill="#1e998a"/><rect x="541" width="8" height="8" fill="#72cf55"/><rect x="549" width="8" height="8" fill="#b2dd2c"/><rect x="556" width="8" height="8" fill="#7cd24f"/><rect x="563" width="8" height="8" fill="#1e9e88"/><rect x="570" width="8" height="8" fill="#414186"/><rect x="577" width="8" height="8" fill="#3d4b89"/><rect x="584" width="8" height="8" fill="#25ab81"/><rect x="591" width="8" height="8" fill="#b7dd29"/><rect x="598" width="8" height="8" fill="#fde724"/><rect x="606" width="8" height="8" fill="#bfdf24"/><rect x="613" width="8" height="8" fill="#28ae7f"/><rect x="620" width="8" height="8" fill="#30b47a"/>
</g>
<g transform="translate(0 276)">
<rect x="399" width="8" height="8" fill="#2e6d8e"/><rect x="406" width="8" height="8" fill="#2cb17d"/><rect x="413" width="8" height="8" fill="#277e8e"/><rect x="420" width="8" height="8" fill="#472b7a"/><rect x="427" width="8" height="8" fill="#3f4587"/><rect x="435" width="8" height="8" fill="#20908c"/><rect x="442" width="8" height="8" fill="#40bd72"/><rect x="449" width="8" height="8" fill="#55c666"/><rect x="456" width="8" height="8" fill="#27ad80"/><rect x="463" width="8" height="8" fill="#2c718e"/><rect x="470" width="8" height="8" fill="#460e61"/><rect x="477" width="8" height="8" fill="#32628d"/><rect x="484" width="8" height="8" fill="#23a982"/><rect x="492" width="8" height="8" fill="#6bcd59"/><rect x="499" width="8" height="8" fill="#70ce56"/><rect x="506" width="8" height="8" fill="#27ad80"/><rect x="513" width="8" height="8" fill="#31648d"/><rect x="520" width="8" height="8" fill="#471669"/><rect x="527" width="8" height="8" fill="#26818e"/><rect x="534" width="8" height="8" fill="#55c666"/><rect x="541" width="8" height="8" fill="#b2dd2c"/><rect x="549" width="8" height="8" fill="#95d73f"/><rect x="556" width="8" height="8" fill="#26ac81"/><rect x="563" width="8" height="8" fill="#3a528b"/><rect x="570" width="8" height="8" fill="#423d84"/><rect x="577" width="8" height="8" fill="#21a685"/><rect x="584" width="8" height="8" fill="#b2dd2c"/><rect x="591" width="8" height="8" fill="#fde724"/><rect x="598" width="8" height="8" fill="#bade27"/><rect x="606" width="8" height="8" fill="#22a784"/><rect x="613" width="8" height="8" fill="#453681"/><rect x="620" width="8" height="8" fill="#8bd546"/>
</g>
<g transform="translate(0 284)">
<rect x="399" width="8" height="8" fill="#2c708e"/><rect x="406" width="8" height="8" fill="#32b57a"/><rect x="413" width="8" height="8" fill="#277d8e"/><rect x="420" width="8" height="8" fill="#482172"/><rect x="427" width="8" height="8" fill="#39558b"/><rect x="435" width="8" height="8" fill="#1e9f88"/><rect x="442" width="8" height="8" fill="#55c666"/><rect x="449" width="8" height="8" fill="#59c764"/><rect x="456" width="8" height="8" fill="#1fa386"/><rect x="463" width="8" height="8" fill="#37598c"/><rect x="470" width="8" height="8" fill="#482172"/><rect x="477" width="8" height="8" fill="#24848d"/><rect x="484" width="8" height="8" fill="#49c16d"/><rect x="492" width="8" height="8" fill="#86d449"/><rect x="499" width="8" height="8" fill="#55c666"/><rect x="506" width="8" height="8" fill="#228b8d"/><rect x="513" width="8" height="8" fill="#472777"/><rect x="520" width="8" height="8" fill="#345e8d"/><rect x="527" width="8" height="8" fill="#30b47a"/><rect x="534" width="8" height="8" fill="#a5da35"/><rect x="541" width="8" height="8" fill="#b2dd2c"/><rect x="549" width="8" height="8" fill="#42be71"/><rect x="556" width="8" height="8" fill="#2f698d"/><rect x="563" width="8" height="8" fill="#472575"/><rect x="570" width="8" height="8" fill="#1e998a"/><rect x="577" width="8" height="8" fill="#a5da35"/><rect x="584" width="8" height="8" fill="#fde724"/><rect x="591" width="8" height="8" fill="#bfdf24"/><rect x="598" width="8" height="8" fill="#22a784"/><rect x="606" width="8" height="8" fill="#46317e"/><rect x="613" width="8" height="8" fill="#2d6f8e"/><rect x="620" width="8" height="8" fill="#dfe318"/>
</g>
<g transform="translate(0 291)">
<rect x="399" width="8" height="8" fill="#2b738e"/><rect x="406" width="8" height="8" fill="#38b976"/><rect x="413" width="8" height="8" fill="#287b8e"/><rect x="420" width="8" height="8" fill="#471567"/><rect x="427" width="8" height="8" fill="#32638d"/><rect x="435" width="8" height="8" fill="#27ad80"/><rect x="442" width="8" height="8" fill="#6bcd59"/><rect x="449" width="8" height="8" fill="#57c665"/><rect x="456" width="8" height="8" fill="#1f958b"/><rect x="463" width="8" height="8" fill="#433b83"/><rect x="470" width="8" height="8" fill="#3d4a89"/><rect x="477" width="8" height="8" fill="#1fa286"/><rect x="484" width="8" height="8" fill="#77d052"/><rect x="492" width="8" height="8" fill="#88d547"/><rect x="499" width="8" height="8" fill="#2eb27c"/><rect x="506" width="8" height="8" fill="#33608d"/><rect x="513" width="8" height="8" fill="#472a79"/><rect x="520" width="8" height="8" fill="#1f968b"/><rect x="527" width="8" height="8" fill="#83d34b"/><rect x="534" width="8" height="8" fill="#c5df21"/><rect x="541" width="8" height="8" fill="#70ce56"/><rect x="549" width="8" height="8" fill="#24858d"/><rect x="556" width="8" height="8" fill="#440255"/><rect x="563" width="8" height="8" fill="#24868d"/><rect x="570" width="8" height="8" fill="#8bd546"/><rect x="577" width="8" height="8" fill="#fde724"/><rect x="584" width="8" height="8" fill="#cfe11c"/><rect x="591" width="8" height="8" fill="#28ae7f"/><rect x="598" width="8" height="8" fill="#453681"/><rect x="606" width="8" height="8" fill="#2d6f8e"/><rect x="613" width="8" height="8" fill="#81d34c"/><rect x="620" width="8" height="8" fill="#d2e11b"/>
</g>
<g transform="translate(0 298)">
<rect x="399" width="8" height="8" fill="#2a768e"/><rect x="406" width="8" height="8" fill="#72cf55"/><rect x="413" width="8" height="8" fill="#70ce56"/><rect x="420" width="8" height="8" fill="#79d151"/><rect x="427" width="8" height="8" fill="#86d449"/><rect x="435" width="8" height="8" fill="#88d547"/><rect x="442" width="8" height="8" fill="#77d052"/><rect x="449" width="8" height="8" fill="#60c960"/><rect x="456" width="8" height="8" fill="#59c764"/><rect x="463" width="8" height="8" fill="#70ce56"/><rect x="470" width="8" height="8" fill="#95d73f"/><rect x="477" width="8" height="8" fill="#a2da37"/><rect x="484" width="8" height="8" fill="#86d449"/><rect x="492" width="8" height="8" fill="#55c666"/><rect x="499" width="8" height="8" fill="#42be71"/><rect x="506" width="8" height="8" fill="#5ec961"/><rect x="513" width="8" height="8" fill="#9ad83c"/><rect x="520" width="8" height="8" fill="#bade27"/><rect x="527" width="8" height="8" fill="#9ad83c"/><rect x="534" width="8" height="8" fill="#53c567"/><rect x="541" width="8" height="8" fill="#2fb37b"/><rect x="549" width="8" height="8" fill="#47c06e"/><rect x="556" width="8" height="8" fill="#97d83e"/><rect x="563" width="8" height="8" fill="#cfe11c"/><rect x="570" width="8" height="8" fill="#b7dd29"/><rect x="577" width="8" height="8" fill="#5bc862"/><rect x="584" width="8" height="8" fill="#24aa82"/><rect x="591" width="8" height="8" fill="#30b47a"/><rect x="598" width="8" height="8" fill="#8bd546"/><rect x="606" width="8" height="8" fill="#dfe318"/><rect x="613" width="8" height="8" fill="#d2e11b"/><rect x="620" width="8" height="8" fill="#3a528b"/>
</g>
</g>
<g class="c">
<g transform="translate(0 78)">
<rect x="672" width="8" height="8" fill="#440154"/><rect x="679" width="8" height="8" fill="#450558"/><rect x="686" width="8" height="8" fill="#460b5e"/><rect x="693" width="8" height="8" fill="#471163"/><rect x="700" width="8" height="8" fill="#471669"/><rect x="708" width="8" height="8" fill="#481c6e"/><rect x="715" width="8" height="8" fill="#482071"/><rect x="722" width="8" height="8" fill="#472575"/><rect x="729" width="8" height="8" fill="#472a79"/><rect x="736" width="8" height="8" fill="#462f7c"/><rect x="743" width="8" height="8" fill="#45347f"/><rect x="750" width="8" height="8" fill="#443982"/><rect x="757" width="8" height="8" fill="#423d84"/><rect x="765" width="8" height="8" fill="#414186"/><rect x="772" width="8" height="8" fill="#3f4587"/><rect x="779" width="8" height="8" fill="#3d4a89"/><rect x="786" width="8" height="8" fill="#3c4e8a"/><rect x="793" width="8" height="8" fill="#3a538b"/><rect x="800" width="8" height="8" fill="#38578c"/><rect x="807" width="8" height="8" fill="#365b8c"/><rect x="814" width="8" height="8" fill="#345f8d"/><rect x="822" width="8" height="8" fill="#32638d"/><rect x="829" width="8" height="8" fill="#30678d"/><rect x="836" width="8" height="8" fill="#2e6b8e"/><rect x="843" width="8" height="8" fill="#2d6f8e"/><rect x="850" width="8" height="8" fill="#2b748e"/><rect x="857" width="8" height="8" fill="#29788e"/><rect x="864" width="8" height="8" fill="#287b8e"/><rect x="871" width="8" height="8" fill="#267f8e"/><rect x="879" width="8" height="8" fill="#25838d"/><rect x="886" width="8" height="8" fill="#23888d"/><rect x="893" width="8" height="8" fill="#23878d"/>
</g>
<g transform="translate(0 84)">
<rect x="672" width="8" height="8" fill="#450558"/><rect x="679" width="8" height="8" fill="#440154"/><rect x="686" width="8" height="8" fill="#440154"/><rect x="693" width="8" height="8" fill="#440154"/><rect x="700" width="8" height="8" fill="#440154"/><rect x="708" width="8" height="8" fill="#440154"/><rect x="715" width="8" height="8" fill="#440154"/><rect x="722" width="8" height="8" fill="#440154"/><rect x="729" width="8" height="8" fill="#440154"/><rect x="736" width="8" height="8" fill="#440154"/><rect x="743" width="8" height="8" fill="#440154"/><rect x="750" width="8" height="8" fill="#440154"/><rect x="757" width="8" height="8" fill="#440154"/><rect x="765" width="8" height="8" fill="#440154"/><rect x="772" width="8" height="8" fill="#440154"/><rect x="779" width="8" height="8" fill="#440154"/><rect x="786" width="8" height="8" fill="#440154"/><rect x="793" width="8" height="8" fill="#440154"/><rect x="800" width="8" height="8" fill="#440154"/><rect x="807" width="8" height="8" fill="#440154"/><rect x="814" width="8" height="8" fill="#440154"/><rect x="822" width="8" height="8" fill="#440154"/><rect x="829" width="8" height="8" fill="#440154"/><rect x="836" width="8" height="8" fill="#440154"/><rect x="843" width="8" height="8" fill="#440154"/><rect x="850" width="8" height="8" fill="#440154"/><rect x="857" width="8" height="8" fill="#440154"/><rect x="864" width="8" height="8" fill="#440154"/><rect x="871" width="8" height="8" fill="#440154"/><rect x="879" width="8" height="8" fill="#440154"/><rect x="886" width="8" height="8" fill="#440154"/><rect x="893" width="8" height="8" fill="#482172"/>
</g>
<g transform="translate(0 91)">
<rect x="672" width="8" height="8" fill="#460b5e"/><rect x="679" width="8" height="8" fill="#440154"/><rect x="686" width="8" height="8" fill="#440154"/><rect x="693" width="8" height="8" fill="#440154"/><rect x="700" width="8" height="8" fill="#440154"/><rect x="708" width="8" height="8" fill="#440154"/><rect x="715" width="8" height="8" fill="#440154"/><rect x="722" width="8" height="8" fill="#440154"/><rect x="729" width="8" height="8" fill="#440154"/><rect x="736" width="8" height="8" fill="#440154"/><rect x="743" width="8" height="8" fill="#440154"/><rect x="750" width="8" height="8" fill="#440154"/><rect x="757" width="8" height="8" fill="#440154"/><rect x="765" width="8" height="8" fill="#440154"/><rect x="772" width="8" height="8" fill="#440154"/><rect x="779" width="8" height="8" fill="#440154"/><rect x="786" width="8" height="8" fill="#440154"/><rect x="793" width="8" height="8" fill="#440154"/><rect x="800" width="8" height="8" fill="#440154"/><rect x="807" width="8" height="8" fill="#440154"/><rect x="814" width="8" height="8" fill="#440154"/><rect x="822" width="8" height="8" fill="#440154"/><rect x="829" width="8" height="8" fill="#440154"/><rect x="836" width="8" height="8" fill="#440154"/><rect x="843" width="8" height="8" fill="#440154"/><rect x="850" width="8" height="8" fill="#440154"/><rect x="857" width="8" height="8" fill="#440154"/><rect x="864" width="8" height="8" fill="#440154"/><rect x="871" width="8" height="8" fill="#440154"/><rect x="879" width="8" height="8" fill="#440154"/><rect x="886" width="8" height="8" fill="#440154"/><rect x="893" width="8" height="8" fill="#287a8e"/>
</g>
<g transform="translate(0 98)">
<rect x="672" width="8" height="8" fill="#471163"/><rect x="679" width="8" height="8" fill="#440154"/><rect x="686" width="8" height="8" fill="#440154"/><rect x="693" width="8" height="8" fill="#440154"/><rect x="700" width="8" height="8" fill="#440154"/><rect x="708" width="8" height="8" fill="#440154"/><rect x="715" width="8" height="8" fill="#440154"/><rect x="722" width="8" height="8" fill="#440154"/><rect x="729" width="8" height="8" fill="#440154"/><rect x="736" width="8" height="8" fill="#440154"/><rect x="743" width="8" height="8" fill="#440154"/><rect x="750" width="8" height="8" fill="#440154"/><rect x="757" width="8" height="8" fill="#440154"/><rect x="765" width="8" height="8" fill="#440154"/><rect x="772" width="8" height="8" fill="#440154"/><rect x="779" width="8" height="8" fill="#440154"/><rect x="786" width="8" height="8" fill="#440154"/><rect x="793" width="8" height="8" fill="#440154"/><rect x="800" width="8" height="8" fill="#440154"/><rect x="807" width="8" height="8" fill="#440154"/><rect x="814" width="8" height="8" fill="#440154"/><rect x="822" width="8" height="8" fill="#440154"/><rect x="829" width="8" height="8" fill="#440154"/><rect x="836" width="8" height="8" fill="#440154"/><rect x="843" width="8" height="8" fill="#440154"/><rect x="850" width="8" height="8" fill="#440154"/><rect x="857" width="8" height="8" fill="#440154"/><rect x="864" width="8" height="8" fill="#440154"/><rect x="871" width="8" height="8" fill="#440154"/><rect x="879" width="8" height="8" fill="#440154"/><rect x="886" width="8" height="8" fill="#440154"/><rect x="893" width="8" height="8" fill="#aadb32"/>
</g>
<g transform="translate(0 105)">
<rect x="672" width="8" height="8" fill="#471669"/><rect x="679" width="8" height="8" fill="#440154"/><rect x="686" width="8" height="8" fill="#440154"/><rect x="693" width="8" height="8" fill="#440154"/><rect x="700" width="8" height="8" fill="#440154"/><rect x="708" width="8" height="8" fill="#440154"/><rect x="715" width="8" height="8" fill="#440154"/><rect x="722" width="8" height="8" fill="#440154"/><rect x="729" width="8" height="8" fill="#440154"/><rect x="736" width="8" height="8" fill="#440154"/><rect x="743" width="8" height="8" fill="#440154"/><rect x="750" width="8" height="8" fill="#440154"/><rect x="757" width="8" height="8" fill="#440154"/><rect x="765" width="8" height="8" fill="#440154"/><rect x="772" width="8" height="8" fill="#440154"/><rect x="779" width="8" height="8" fill="#440154"/><rect x="786" width="8" height="8" fill="#440154"/><rect x="793" width="8" height="8" fill="#440154"/><rect x="800" width="8" height="8" fill="#440154"/><rect x="807" width="8" height="8" fill="#440154"/><rect x="814" width="8" height="8" fill="#440154"/><rect x="822" width="8" height="8" fill="#440154"/><rect x="829" width="8" height="8" fill="#440154"/><rect x="836" width="8" height="8" fill="#440154"/><rect x="843" width="8" height="8" fill="#440154"/><rect x="850" width="8" height="8" fill="#440154"/><rect x="857" width="8" height="8" fill="#440154"/><rect x="864" width="8" height="8" fill="#440154"/><rect x="871" width="8" height="8" fill="#440154"/><rect x="879" width="8" height="8" fill="#440154"/><rect x="886" width="8" height="8" fill="#440154"/><rect x="893" width="8" height="8" fill="#228b8d"/>
</g>
<g transform="translate(0 113)">
<rect x="672" width="8" height="8" fill="#481c6e"/><rect x="679" width="8" height="8" fill="#440154"/><rect x="686" width="8" height="8" fill="#440154"/><rect x="693" width="8" height="8" fill="#440154"/><rect x="700" width="8" height="8" fill="#440154"/><rect x="708" width="8" height="8" fill="#440154"/><rect x="715" width="8" height="8" fill="#440154"/><rect x="722" width="8" height="8" fill="#440154"/><rect x="729" width="8" height="8" fill="#440154"/><rect x="736" width="8" height="8" fill="#440154"/><rect x="743" width="8" height="8" fill="#440154"/><rect x="750" width="8" height="8" fill="#440154"/><rect x="757" width="8" height="8" fill="#440154"/><rect x="765" width="8" height="8" fill="#440154"/><rect x="772" width="8" height="8" fill="#440154"/><rect x="779" width="8" height="8" fill="#440154"/><rect x="786" width="8" height="8" fill="#440154"/><rect x="793" width="8" height="8" fill="#440154"/><rect x="800" width="8" height="8" fill="#440154"/><rect x="807" width="8" height="8" fill="#440154"/><rect x="814" width="8" height="8" fill="#440154"/><rect x="822" width="8" height="8" fill="#440154"/><rect x="829" width="8" height="8" fill="#440154"/><rect x="836" width="8" height="8" fill="#440154"/><rect x="843" width="8" height="8" fill="#440154"/><rect x="850" width="8" height="8" fill="#440154"/><rect x="857" width="8" height="8" fill="#440154"/><rect x="864" width="8" height="8" fill="#440154"/><rect x="871" width="8" height="8" fill="#440154"/><rect x="879" width="8" height="8" fill="#440154"/><rect x="886" width="8" height="8" fill="#440154"/><rect x="893" width="8" height="8" fill="#45327f"/>
</g>
<g transform="translate(0 120)">
<rect x="672" width="8" height="8" fill="#482071"/><rect x="679" width="8" height="8" fill="#440154"/><rect x="686" width="8" height="8" fill="#440154"/><rect x="693" width="8" height="8" fill="#440154"/><rect x="700" width="8" height="8" fill="#440154"/><rect x="708" width="8" height="8" fill="#440154"/><rect x="715" width="8" height="8" fill="#440154"/><rect x="722" width="8" height="8" fill="#440154"/><rect x="729" width="8" height="8" fill="#440154"/><rect x="736" width="8" height="8" fill="#440154"/><rect x="743" width="8" height="8" fill="#440154"/><rect x="750" width="8" height="8" fill="#440154"/><rect x="757" width="8" height="8" fill="#440154"/><rect x="765" width="8" height="8" fill="#440154"/><rect x="772" width="8" height="8" fill="#440154"/><rect x="779" width="8" height="8" fill="#440154"/><rect x="786" width="8" height="8" fill="#440154"/><rect x="793" width="8" height="8" fill="#440154"/><rect x="800" width="8" height="8" fill="#440154"/><rect x="807" width="8" height="8" fill="#440154"/><rect x="814" width="8" height="8" fill="#440154"/><rect x="822" width="8" height="8" fill="#440154"/><rect x="829" width="8" height="8" fill="#440154"/><rect x="836" width="8" height="8" fill="#440154"/><rect x="843" width="8" height="8" fill="#440154"/><rect x="850" width="8" height="8" fill="#440154"/><rect x="857" width="8" height="8" fill="#440154"/><rect x="864" width="8" height="8" fill="#440154"/><rect x="871" width="8" height="8" fill="#440154"/><rect x="879" width="8" height="8" fill="#440154"/><rect x="886" width="8" height="8" fill="#440154"/><rect x="893" width="8" height="8" fill="#460b5e"/>
</g>
<g transform="translate(0 127)">
<rect x="672" width="8" height="8" fill="#472575"/><rect x="679" width="8" height="8" fill="#440154"/><rect x="686" width="8" height="8" fill="#440154"/><rect x="693" width="8" height="8" fill="#440154"/><rect x="700" width="8" height="8" fill="#440154"/><rect x="708" width="8" height="8" fill="#440154"/><rect x="715" width="8" height="8" fill="#440154"/><rect x="722" width="8" height="8" fill="#440154"/><rect x="729" width="8" height="8" fill="#440154"/><rect x="736" width="8" height="8" fill="#440154"/><rect x="743" width="8" height="8" fill="#440154"/><rect x="750" width="8" height="8" fill="#440154"/><rect x="757" width="8" height="8" fill="#440154"/><rect x="765" width="8" height="8" fill="#440154"/><rect x="772" width="8" height="8" fill="#440154"/><rect x="779" width="8" height="8" fill="#440154"/><rect x="786" width="8" height="8" fill="#440154"/><rect x="793" width="8" height="8" fill="#440154"/><rect x="800" width="8" height="8" fill="#440154"/><rect x="807" width="8" height="8" fill="#440154"/><rect x="814" width="8" height="8" fill="#440154"/><rect x="822" width="8" height="8" fill="#440154"/><rect x="829" width="8" height="8" fill="#440154"/><rect x="836" width="8" height="8" fill="#440154"/><rect x="843" width="8" height="8" fill="#440154"/><rect x="850" width="8" height="8" fill="#440154"/><rect x="857" width="8" height="8" fill="#440154"/><rect x="864" width="8" height="8" fill="#440154"/><rect x="871" width="8" height="8" fill="#440154"/><rect x="879" width="8" height="8" fill="#440154"/><rect x="886" width="8" height="8" fill="#440154"/><rect x="893" width="8" height="8" fill="#45065a"/>
</g>
<g transform="translate(0 134)">
<rect x="672" width="8" height="8" fill="#472a79"/><rect x="679" width="8" height="8" fill="#440154"/><rect x="686" width="8" height="8" fill="#440154"/><rect x="693" width="8" height="8" fill="#440154"/><rect x="700" width="8" height="8" fill="#440154"/><rect x="708" width="8" height="8" fill="#440154"/><rect x="715" width="8" height="8" fill="#440154"/><rect x="722" width="8" height="8" fill="#440154"/><rect x="729" width="8" height="8" fill="#440154"/><rect x="736" width="8" height="8" fill="#440154"/><rect x="743" width="8" height="8" fill="#440154"/><rect x="750" width="8" height="8" fill="#440154"/><rect x="757" width="8" height="8" fill="#440154"/><rect x="765" width="8" height="8" fill="#440154"/><rect x="772" width="8" height="8" fill="#440154"/><rect x="779" width="8" height="8" fill="#440154"/><rect x="786" width="8" height="8" fill="#440154"/><rect x="793" width="8" height="8" fill="#440154"/><rect x="800" width="8" height="8" fill="#440154"/><rect x="807" width="8" height="8" fill="#440154"/><rect x="814" width="8" height="8" fill="#440154"/><rect x="822" width="8" height="8" fill="#440154"/><rect x="829" width="8" height="8" fill="#440154"/><rect x="836" width="8" height="8" fill="#440154"/><rect x="843" width="8" height="8" fill="#440154"/><rect x="850" width="8" height="8" fill="#440154"/><rect x="857" width="8" height="8" fill="#440154"/><rect x="864" width="8" height="8" fill="#440154"/><rect x="871" width="8" height="8" fill="#440154"/><rect x="879" width="8" height="8" fill="#440154"/><rect x="886" width="8" height="8" fill="#440154"/><rect x="893" width="8" height="8" fill="#32628d"/>
</g>
<g transform="translate(0 141)">
<rect x="672" width="8" height="8" fill="#462f7c"/><rect x="679" width="8" height="8" fill="#440154"/><rect x="686" width="8" height="8" fill="#440154"/><rect x="693" width="8" height="8" fill="#440154"/><rect x="700" width="8" height="8" fill="#440154"/><rect x="708" width="8" height="8" fill="#440154"/><rect x="715" width="8" height="8" fill="#440154"/><rect x="722" width="8" height="8" fill="#440154"/><rect x="729" width="8" height="8" fill="#440154"/><rect x="736" width="8" height="8" fill="#440154"/><rect x="743" width="8" height="8" fill="#440154"/><rect x="750" width="8" height="8" fill="#440154"/><rect x="757" width="8" height="8" fill="#440154"/><rect x="765" width="8" height="8" fill="#440154"/><rect x="772" width="8" height="8" fill="#440154"/><rect x="779" width="8" height="8" fill="#440154"/><rect x="786" width="8" height="8" fill="#440154"/><rect x="793" width="8" height="8" fill="#440154"/><rect x="800" width="8" height="8" fill="#440154"/><rect x="807" width="8" height="8" fill="#440154"/><rect x="814" width="8" height="8" fill="#440154"/><rect x="822" width="8" height="8" fill="#440154"/><rect x="829" width="8" height="8" fill="#440154"/><rect x="836" width="8" height="8" fill="#440154"/><rect x="843" width="8" height="8" fill="#440154"/><rect x="850" width="8" height="8" fill="#440154"/><rect x="857" width="8" height="8" fill="#440154"/><rect x="864" width="8" height="8" fill="#440154"/><rect x="871" width="8" height="8" fill="#440154"/><rect x="879" width="8" height="8" fill="#440154"/><rect x="886" width="8" height="8" fill="#440154"/><rect x="893" width="8" height="8" fill="#7ed24e"/>
</g>
<g transform="translate(0 148)">
<rect x="672" width="8" height="8" fill="#45347f"/><rect x="679" width="8" height="8" fill="#440154"/><rect x="686" width="8" height="8" fill="#440154"/><rect x="693" width="8" height="8" fill="#440154"/><rect x="700" width="8" height="8" fill="#440154"/><rect x="708" width="8" height="8" fill="#440154"/><rect x="715" width="8" height="8" fill="#440154"/><rect x="722" width="8" height="8" fill="#440154"/><rect x="729" width="8" height="8" fill="#440154"/><rect x="736" width="8" height="8" fill="#440154"/><rect x="743" width="8" height="8" fill="#440154"/><rect x="750" width="8" height="8" fill="#440154"/><rect x="757" width="8" height="8" fill="#440154"/><rect x="765" width="8" height="8" fill="#440154"/><rect x="772" width="8" height="8" fill="#440154"/><rect x="779" width="8" height="8" fill="#440154"/><rect x="786" width="8" height="8" fill="#440154"/><rect x="793" width="8" height="8" fill="#440154"/><rect x="800" width="8" height="8" fill="#440154"/><rect x="807" width="8" height="8" fill="#440154"/><rect x="814" width="8" height="8" fill="#440154"/><rect x="822" width="8" height="8" fill="#440154"/><rect x="829" width="8" height="8" fill="#440154"/><rect x="836" width="8" height="8" fill="#440154"/><rect x="843" width="8" height="8" fill="#440154"/><rect x="850" width="8" height="8" fill="#440154"/><rect x="857" width="8" height="8" fill="#440154"/><rect x="864" width="8" height="8" fill="#440154"/><rect x="871" width="8" height="8" fill="#440154"/><rect x="879" width="8" height="8" fill="#440154"/><rect x="886" width="8" height="8" fill="#440154"/><rect x="893" width="8" height="8" fill="#1e988a"/>
</g>
<g transform="translate(0 155)">
<rect x="672" width="8" height="8" fill="#443982"/><rect x="679" width="8" height="8" fill="#440154"/><rect x="686" width="8" height="8" fill="#440154"/><rect x="693" width="8" height="8" fill="#440154"/><rect x="700" width="8" height="8" fill="#440154"/><rect x="708" width="8" height="8" fill="#440154"/><rect x="715" width="8" height="8" fill="#440154"/><rect x="722" width="8" height="8" fill="#440154"/><rect x="729" width="8" height="8" fill="#440154"/><rect x="736" width="8" height="8" fill="#440154"/><rect x="743" width="8" height="8" fill="#440154"/><rect x="750" width="8" height="8" fill="#440154"/><rect x="757" width="8" height="8" fill="#440154"/><rect x="765" width="8" height="8" fill="#440154"/><rect x="772" width="8" height="8" fill="#440154"/><rect x="779" width="8" height="8" fill="#440154"/><rect x="786" width="8" height="8" fill="#440154"/><rect x="793" width="8" height="8" fill="#440154"/><rect x="800" width="8" height="8" fill="#440154"/><rect x="807" width="8" height="8" fill="#440154"/><rect x="814" width="8" height="8" fill="#440154"/><rect x="822" width="8" height="8" fill="#440154"/><rect x="829" width="8" height="8" fill="#440154"/><rect x="836" width="8" height="8" fill="#440154"/><rect x="843" width="8" height="8" fill="#440154"/><rect x="850" width="8" height="8" fill="#440154"/><rect x="857" width="8" height="8" fill="#440154"/><rect x="864" width="8" height="8" fill="#440154"/><rect x="871" width="8" height="8" fill="#440154"/><rect x="879" width="8" height="8" fill="#440154"/><rect x="886" width="8" height="8" fill="#440154"/><rect x="893" width="8" height="8" fill="#433c84"/>
</g>
<g transform="translate(0 162)">
<rect x="672" width="8" height="8" fill="#423d84"/><rect x="679" width="8" height="8" fill="#440154"/><rect x="686" width="8" height="8" fill="#440154"/><rect x="693" width="8" height="8" fill="#440154"/><rect x="700" width="8" height="8" fill="#440154"/><rect x="708" width="8" height="8" fill="#440154"/><rect x="715" width="8" height="8" fill="#440154"/><rect x="722" width="8" height="8" fill="#440154"/><rect x="729" width="8" height="8" fill="#440154"/><rect x="736" width="8" height="8" fill="#440154"/><rect x="743" width="8" height="8" fill="#440154"/><rect x="750" width="8" height="8" fill="#440154"/><rect x="757" width="8" height="8" fill="#440154"/><rect x="765" width="8" height="8" fill="#440154"/><rect x="772" width="8" height="8" fill="#440154"/><rect x="779" width="8" height="8" fill="#440154"/><rect x="786" width="8" height="8" fill="#440154"/><rect x="793" width="8" height="8" fill="#440154"/><rect x="800" width="8" height="8" fill="#440154"/><rect x="807" width="8" height="8" fill="#440154"/><rect x="814" width="8" height="8" fill="#440154"/><rect x="822" width="8" height="8" fill="#440154"/><rect x="829" width="8" height="8" fill="#440154"/><rect x="836" width="8" height="8" fill="#440154"/><rect x="843" width="8" height="8" fill="#440154"/><rect x="850" width="8" height="8" fill="#440154"/><rect x="857" width="8" height="8" fill="#440154"/><rect x="864" width="8" height="8" fill="#440154"/><rect x="871" width="8" height="8" fill="#440154"/><rect x="879" width="8" height="8" fill="#440154"/><rect x="886" width="8" height="8" fill="#440154"/><rect x="893" width="8" height="8" fill="#471265"/>
</g>
<g transform="translate(0 170)">
<rect x="672" width="8" height="8" fill="#414186"/><rect x="679" width="8" height="8" fill="#440154"/><rect x="686" width="8" height="8" fill="#440154"/><rect x="693" width="8" height="8" fill="#440154"/><rect x="700" width="8" height="8" fill="#440154"/><rect x="708" width="8" height="8" fill="#440154"/><rect x="715" width="8" height="8" fill="#440154"/><rect x="722" width="8" height="8" fill="#440154"/><rect x="729" width="8" height="8" fill="#440154"/><rect x="736" width="8" height="8" fill="#440154"/><rect x="743" width="8" height="8" fill="#440154"/><rect x="750" width="8" height="8" fill="#440154"/><rect x="757" width="8" height="8" fill="#440154"/><rect x="765" width="8" height="8" fill="#440154"/><rect x="772" width="8" height="8" fill="#440154"/><rect x="779" width="8" height="8" fill="#440154"/><rect x="786" width="8" height="8" fill="#440154"/><rect x="793" width="8" height="8" fill="#440154"/><rect x="800" width="8" height="8" fill="#440154"/><rect x="807" width="8" height="8" fill="#440154"/><rect x="814" width="8" height="8" fill="#440154"/><rect x="822" width="8" height="8" fill="#440154"/><rect x="829" width="8" height="8" fill="#440154"/><rect x="836" width="8" height="8" fill="#440154"/><rect x="843" width="8" height="8" fill="#440154"/><rect x="850" width="8" height="8" fill="#440154"/><rect x="857" width="8" height="8" fill="#440154"/><rect x="864" width="8" height="8" fill="#440154"/><rect x="871" width="8" height="8" fill="#440154"/><rect x="879" width="8" height="8" fill="#440154"/><rect x="886" width="8" height="8" fill="#440154"/><rect x="893" width="8" height="8" fill="#481a6c"/>
</g>
<g transform="translate(0 177)">
<rect x="672" width="8" height="8" fill="#3f4587"/><rect x="679" width="8" height="8" fill="#440154"/><rect x="686" width="8" height="8" fill="#440154"/><rect x="693" width="8" height="8" fill="#440154"/><rect x="700" width="8" height="8" fill="#440154"/><rect x="708" width="8" height="8" fill="#440154"/><rect x="715" width="8" height="8" fill="#440154"/><rect x="722" width="8" height="8" fill="#440154"/><rect x="729" width="8" height="8" fill="#440154"/><rect x="736" width="8" height="8" fill="#440154"/><rect x="743" width="8" height="8" fill="#440154"/><rect x="750" width="8" height="8" fill="#440154"/><rect x="757" width="8" height="8" fill="#440154"/><rect x="765" width="8" height="8" fill="#440154"/><rect x="772" width="8" height="8" fill="#440154"/><rect x="779" width="8" height="8" fill="#440154"/><rect x="786" width="8" height="8" fill="#440154"/><rect x="793" width="8" height="8" fill="#440154"/><rect x="800" width="8" height="8" fill="#440154"/><rect x="807" width="8" height="8" fill="#440154"/><rect x="814" width="8" height="8" fill="#440154"/><rect x="822" width="8" height="8" fill="#440154"/><rect x="829" width="8" height="8" fill="#440154"/><rect x="836" width="8" height="8" fill="#440154"/><rect x="843" width="8" height="8" fill="#440154"/><rect x="850" width="8" height="8" fill="#440154"/><rect x="857" width="8" height="8" fill="#440154"/><rect x="864" width="8" height="8" fill="#440154"/><rect x="871" width="8" height="8" fill="#440154"/><rect x="879" width="8" height="8" fill="#440154"/><rect x="886" width="8" height="8" fill="#440154"/><rect x="893" width="8" height="8" fill="#423e85"/>
</g>
<g transform="translate(0 184)">
<rect x="672" width="8" height="8" fill="#3d4a89"/><rect x="679" width="8" height="8" fill="#440154"/><rect x="686" width="8" height="8" fill="#440154"/><rect x="693" width="8" height="8" fill="#440154"/><rect x="700" width="8" height="8" fill="#440154"/><rect x="708" width="8" height="8" fill="#440154"/><rect x="715" width="8" height="8" fill="#440154"/><rect x="722" width="8" height="8" fill="#440154"/><rect x="729" width="8" height="8" fill="#440154"/><rect x="736" width="8" height="8" fill="#440154"/><rect x="743" width="8" height="8" fill="#440154"/><rect x="750" width="8" height="8" fill="#440154"/><rect x="757" width="8" height="8" fill="#440154"/><rect x="765" width="8" height="8" fill="#440154"/><rect x="772" width="8" height="8" fill="#440154"/><rect x="779" width="8" height="8" fill="#440154"/><rect x="786" width="8" height="8" fill="#440154"/><rect x="793" width="8" height="8" fill="#440154"/><rect x="800" width="8" height="8" fill="#440154"/><rect x="807" width="8" height="8" fill="#440154"/><rect x="814" width="8" height="8" fill="#440154"/><rect x="822" width="8" height="8" fill="#440154"/><rect x="829" width="8" height="8" fill="#440154"/><rect x="836" width="8" height="8" fill="#440154"/><rect x="843" width="8" height="8" fill="#440154"/><rect x="850" width="8" height="8" fill="#440154"/><rect x="857" width="8" height="8" fill="#440154"/><rect x="864" width="8" height="8" fill="#440154"/><rect x="871" width="8" height="8" fill="#440154"/><rect x="879" width="8" height="8" fill="#440154"/><rect x="886" width="8" height="8" fill="#440154"/><rect x="893" width="8" height="8" fill="#49c16d"/>
</g>
<g transform="translate(0 191)">
<rect x="672" width="8" height="8" fill="#3c4e8a"/><rect x="679" width="8" height="8" fill="#440154"/><rect x="686" width="8" height="8" fill="#440154"/><rect x="693" width="8" height="8" fill="#440154"/><rect x="700" width="8" height="8" fill="#440154"/><rect x="708" width="8" height="8" fill="#440154"/><rect x="715" width="8" height="8" fill="#440154"/><rect x="722" width="8" height="8" fill="#440154"/><rect x="729" width="8" height="8" fill="#440154"/><rect x="736" width="8" height="8" fill="#440154"/><rect x="743" width="8" height="8" fill="#440154"/><rect x="750" width="8" height="8" fill="#440154"/><rect x="757" width="8" height="8" fill="#440154"/><rect x="765" width="8" height="8" fill="#440154"/><rect x="772" width="8" height="8" fill="#440154"/><rect x="779" width="8" height="8" fill="#440154"/><rect x="786" width="8" height="8" fill="#440154"/><rect x="793" width="8" height="8" fill="#440154"/><rect x="800" width="8" height="8" fill="#440154"/><rect x="807" width="8" height="8" fill="#440154"/><rect x="814" width="8" height="8" fill="#440154"/><rect x="822" width="8" height="8" fill="#440154"/><rect x="829" width="8" height="8" fill="#440154"/><rect x="836" width="8" height="8" fill="#440154"/><rect x="843" width="8" height="8" fill="#440154"/><rect x="850" width="8" height="8" fill="#440154"/><rect x="857" width="8" height="8" fill="#440154"/><rect x="864" width="8" height="8" fill="#440154"/><rect x="871" width="8" height="8" fill="#440154"/><rect x="879" width="8" height="8" fill="#440154"/><rect x="886" width="8" height="8" fill="#440154"/><rect x="893" width="8" height="8" fill="#1e9f88"/>
</g>
<g transform="translate(0 198)">
<rect x="672" width="8" height="8" fill="#3a538b"/><rect x="679" width="8" height="8" fill="#440154"/><rect x="686" width="8" height="8" fill="#440154"/><rect x="693" width="8" height="8" fill="#440154"/><rect x="700" width="8" height="8" fill="#440154"/><rect x="708" width="8" height="8" fill="#440154"/><rect x="715" width="8" height="8" fill="#440154"/><rect x="722" width="8" height="8" fill="#440154"/><rect x="729" width="8" height="8" fill="#440154"/><rect x="736" width="8" height="8" fill="#440154"/><rect x="743" width="8" height="8" fill="#440154"/><rect x="750" width="8" height="8" fill="#440154"/><rect x="757" width="8" height="8" fill="#440154"/><rect x="765" width="8" height="8" fill="#440154"/><rect x="772" width="8" height="8" fill="#440154"/><rect x="779" width="8" height="8" fill="#440154"/><rect x="786" width="8" height="8" fill="#440154"/><rect x="793" width="8" height="8" fill="#440154"/><rect x="800" width="8" height="8" fill="#440154"/><rect x="807" width="8" height="8" fill="#440154"/><rect x="814" width="8" height="8" fill="#440154"/><rect x="822" width="8" height="8" fill="#440154"/><rect x="829" width="8" height="8" fill="#440154"/><rect x="836" width="8" height="8" fill="#440154"/><rect x="843" width="8" height="8" fill="#440154"/><rect x="850" width="8" height="8" fill="#440154"/><rect x="857" width="8" height="8" fill="#440154"/><rect x="864" width="8" height="8" fill="#440154"/><rect x="871" width="8" height="8" fill="#440154"/><rect x="879" width="8" height="8" fill="#440154"/><rect x="886" width="8" height="8" fill="#440154"/><rect x="893" width="8" height="8" fill="#414186"/>
</g>
<g transform="translate(0 205)">
<rect x="672" width="8" height="8" fill="#38578c"/><rect x="679" width="8" height="8" fill="#440154"/><rect x="686" width="8" height="8" fill="#440154"/><rect x="693" width="8" height="8" fill="#440154"/><rect x="700" width="8" height="8" fill="#440154"/><rect x="708" width="8" height="8" fill="#440154"/><rect x="715" width="8" height="8" fill="#440154"/><rect x="722" width="8" height="8" fill="#440154"/><rect x="729" width="8" height="8" fill="#440154"/><rect x="736" width="8" height="8" fill="#440154"/><rect x="743" width="8" height="8" fill="#440154"/><rect x="750" width="8" height="8" fill="#440154"/><rect x="757" width="8" height="8" fill="#440154"/><rect x="765" width="8" height="8" fill="#440154"/><rect x="772" width="8" height="8" fill="#440154"/><rect x="779" width="8" height="8" fill="#440154"/><rect x="786" width="8" height="8" fill="#440154"/><rect x="793" width="8" height="8" fill="#440154"/><rect x="800" width="8" height="8" fill="#440154"/><rect x="807" width="8" height="8" fill="#440154"/><rect x="814" width="8" height="8" fill="#440154"/><rect x="822" width="8" height="8" fill="#440154"/><rect x="829" width="8" height="8" fill="#440154"/><rect x="836" width="8" height="8" fill="#440154"/><rect x="843" width="8" height="8" fill="#440154"/><rect x="850" width="8" height="8" fill="#440154"/><rect x="857" width="8" height="8" fill="#440154"/><rect x="864" width="8" height="8" fill="#440154"/><rect x="871" width="8" height="8" fill="#440154"/><rect x="879" width="8" height="8" fill="#440154"/><rect x="886" width="8" height="8" fill="#440154"/><rect x="893" width="8" height="8" fill="#481e70"/>
</g>
<g transform="translate(0 212)">
<rect x="672" width="8" height="8" fill="#365b8c"/><rect x="679" width="8" height="8" fill="#440154"/><rect x="686" width="8" height="8" fill="#440154"/><rect x="693" width="8" height="8" fill="#440154"/><rect x="700" width="8" height="8" fill="#440154"/><rect x="708" width="8" height="8" fill="#440154"/><rect x="715" width="8" height="8" fill="#440154"/><rect x="722" width="8" height="8" fill="#440154"/><rect x="729" width="8" height="8" fill="#440154"/><rect x="736" width="8" height="8" fill="#440154"/><rect x="743" width="8" height="8" fill="#440154"/><rect x="750" width="8" height="8" fill="#440154"/><rect x="757" width="8" height="8" fill="#440154"/><rect x="765" width="8" height="8" fill="#440154"/><rect x="772" width="8" height="8" fill="#440154"/><rect x="779" width="8" height="8" fill="#440154"/><rect x="786" width="8" height="8" fill="#440154"/><rect x="793" width="8" height="8" fill="#440154"/><rect x="800" width="8" height="8" fill="#440154"/><rect x="807" width="8" height="8" fill="#440154"/><rect x="814" width="8" height="8" fill="#440154"/><rect x="822" width="8" height="8" fill="#440154"/><rect x="829" width="8" height="8" fill="#440154"/><rect x="836" width="8" height="8" fill="#440154"/><rect x="843" width="8" height="8" fill="#440154"/><rect x="850" width="8" height="8" fill="#440154"/><rect x="857" width="8" height="8" fill="#440154"/><rect x="864" width="8" height="8" fill="#440154"/><rect x="871" width="8" height="8" fill="#440154"/><rect x="879" width="8" height="8" fill="#440154"/><rect x="886" width="8" height="8" fill="#440154"/><rect x="893" width="8" height="8" fill="#433b83"/>
</g>
<g transform="translate(0 219)">
<rect x="672" width="8" height="8" fill="#345f8d"/><rect x="679" width="8" height="8" fill="#440154"/><rect x="686" width="8" height="8" fill="#440154"/><rect x="693" width="8" height="8" fill="#440154"/><rect x="700" width="8" height="8" fill="#440154"/><rect x="708" width="8" height="8" fill="#440154"/><rect x="715" width="8" height="8" fill="#440154"/><rect x="722" width="8" height="8" fill="#440154"/><rect x="729" width="8" height="8" fill="#440154"/><rect x="736" width="8" height="8" fill="#440154"/><rect x="743" width="8" height="8" fill="#440154"/><rect x="750" width="8" height="8" fill="#440154"/><rect x="757" width="8" height="8" fill="#440154"/><rect x="765" width="8" height="8" fill="#440154"/><rect x="772" width="8" height="8" fill="#440154"/><rect x="779" width="8" height="8" fill="#440154"/><rect x="786" width="8" height="8" fill="#440154"/><rect x="793" width="8" height="8" fill="#440154"/><rect x="800" width="8" height="8" fill="#440154"/><rect x="807" width="8" height="8" fill="#440154"/><rect x="814" width="8" height="8" fill="#440154"/><rect x="822" width="8" height="8" fill="#440154"/><rect x="829" width="8" height="8" fill="#440154"/><rect x="836" width="8" height="8" fill="#440154"/><rect x="843" width="8" height="8" fill="#440154"/><rect x="850" width="8" height="8" fill="#440154"/><rect x="857" width="8" height="8" fill="#440154"/><rect x="864" width="8" height="8" fill="#440154"/><rect x="871" width="8" height="8" fill="#440154"/><rect x="879" width="8" height="8" fill="#440154"/><rect x="886" width="8" height="8" fill="#440154"/><rect x="893" width="8" height="8" fill="#460c5f"/>
</g>
<g transform="translate(0 227)">
<rect x="672" width="8" height="8" fill="#32638d"/><rect x="679" width="8" height="8" fill="#440154"/><rect x="686" width="8" height="8" fill="#440154"/><rect x="693" width="8" height="8" fill="#440154"/><rect x="700" width="8" height="8" fill="#440154"/><rect x="708" width="8" height="8" fill="#440154"/><rect x="715" width="8" height="8" fill="#440154"/><rect x="722" width="8" height="8" fill="#440154"/><rect x="729" width="8" height="8" fill="#440154"/><rect x="736" width="8" height="8" fill="#440154"/><rect x="743" width="8" height="8" fill="#440154"/><rect x="750" width="8" height="8" fill="#440154"/><rect x="757" width="8" height="8" fill="#440154"/><rect x="765" width="8" height="8" fill="#440154"/><rect x="772" width="8" height="8" fill="#440154"/><rect x="779" width="8" height="8" fill="#440154"/><rect x="786" width="8" height="8" fill="#440154"/><rect x="793" width="8" height="8" fill="#440154"/><rect x="800" width="8" height="8" fill="#440154"/><rect x="807" width="8" height="8" fill="#440154"/><rect x="814" width="8" height="8" fill="#440154"/><rect x="822" width="8" height="8" fill="#440154"/><rect x="829" width="8" height="8" fill="#440154"/><rect x="836" width="8" height="8" fill="#440154"/><rect x="843" width="8" height="8" fill="#440154"/><rect x="850" width="8" height="8" fill="#440154"/><rect x="857" width="8" height="8" fill="#440154"/><rect x="864" width="8" height="8" fill="#440154"/><rect x="871" width="8" height="8" fill="#440154"/><rect x="879" width="8" height="8" fill="#440154"/><rect x="886" width="8" height="8" fill="#440154"/><rect x="893" width="8" height="8" fill="#20a485"/>
</g>
<g transform="translate(0 234)">
<rect x="672" width="8" height="8" fill="#30678d"/><rect x="679" width="8" height="8" fill="#440154"/><rect x="686" width="8" height="8" fill="#440154"/><rect x="693" width="8" height="8" fill="#440154"/><rect x="700" width="8" height="8" fill="#440154"/><rect x="708" width="8" height="8" fill="#440154"/><rect x="715" width="8" height="8" fill="#440154"/><rect x="722" width="8" height="8" fill="#440154"/><rect x="729" width="8" height="8" fill="#440154"/><rect x="736" width="8" height="8" fill="#440154"/><rect x="743" width="8" height="8" fill="#440154"/><rect x="750" width="8" height="8" fill="#440154"/><rect x="757" width="8" height="8" fill="#440154"/><rect x="765" width="8" height="8" fill="#440154"/><rect x="772" width="8" height="8" fill="#440154"/><rect x="779" width="8" height="8" fill="#440154"/><rect x="786" width="8" height="8" fill="#440154"/><rect x="793" width="8" height="8" fill="#440154"/><rect x="800" width="8" height="8" fill="#440154"/><rect x="807" width="8" height="8" fill="#440154"/><rect x="814" width="8" height="8" fill="#440154"/><rect x="822" width="8" height="8" fill="#440154"/><rect x="829" width="8" height="8" fill="#440154"/><rect x="836" width="8" height="8" fill="#440154"/><rect x="843" width="8" height="8" fill="#440154"/><rect x="850" width="8" height="8" fill="#440154"/><rect x="857" width="8" height="8" fill="#440154"/><rect x="864" width="8" height="8" fill="#440154"/><rect x="871" width="8" height="8" fill="#440154"/><rect x="879" width="8" height="8" fill="#440154"/><rect x="886" width="8" height="8" fill="#440154"/><rect x="893" width="8" height="8" fill="#20a485"/>
</g>
<g transform="translate(0 241)">
<rect x="672" width="8" height="8" fill="#2e6b8e"/><rect x="679" width="8" height="8" fill="#440154"/><rect x="686" width="8" height="8" fill="#440154"/><rect x="693" width="8" height="8" fill="#440154"/><rect x="700" width="8" height="8" fill="#440154"/><rect x="708" width="8" height="8" fill="#440154"/><rect x="715" width="8" height="8" fill="#440154"/><rect x="722" width="8" height="8" fill="#440154"/><rect x="729" width="8" height="8" fill="#440154"/><rect x="736" width="8" height="8" fill="#440154"/><rect x="743" width="8" height="8" fill="#440154"/><rect x="750" width="8" height="8" fill="#440154"/><rect x="757" width="8" height="8" fill="#440154"/><rect x="765" width="8" height="8" fill="#440154"/><rect x="772" width="8" height="8" fill="#440154"/><rect x="779" width="8" height="8" fill="#440154"/><rect x="786" width="8" height="8" fill="#440154"/><rect x="793" width="8" height="8" fill="#440154"/><rect x="800" width="8" height="8" fill="#440154"/><rect x="807" width="8" height="8" fill="#440154"/><rect x="814" width="8" height="8" fill="#440154"/><rect x="822" width="8" height="8" fill="#440154"/><rect x="829" width="8" height="8" fill="#440154"/><rect x="836" width="8" height="8" fill="#440154"/><rect x="843" width="8" height="8" fill="#440154"/><rect x="850" width="8" height="8" fill="#440154"/><rect x="857" width="8" height="8" fill="#440154"/><rect x="864" width="8" height="8" fill="#440154"/><rect x="871" width="8" height="8" fill="#440154"/><rect x="879" width="8" height="8" fill="#440154"/><rect x="886" width="8" height="8" fill="#440154"/><rect x="893" width="8" height="8" fill="#414286"/>
</g>
<g transform="translate(0 248)">
<rect x="672" width="8" height="8" fill="#2d6f8e"/><rect x="679" width="8" height="8" fill="#440154"/><rect x="686" width="8" height="8" fill="#440154"/><rect x="693" width="8" height="8" fill="#440154"/><rect x="700" width="8" height="8" fill="#440154"/><rect x="708" width="8" height="8" fill="#440154"/><rect x="715" width="8" height="8" fill="#440154"/><rect x="722" width="8" height="8" fill="#440154"/><rect x="729" width="8" height="8" fill="#440154"/><rect x="736" width="8" height="8" fill="#440154"/><rect x="743" width="8" height="8" fill="#440154"/><rect x="750" width="8" height="8" fill="#440154"/><rect x="757" width="8" height="8" fill="#440154"/><rect x="765" width="8" height="8" fill="#440154"/><rect x="772" width="8" height="8" fill="#440154"/><rect x="779" width="8" height="8" fill="#440154"/><rect x="786" width="8" height="8" fill="#440154"/><rect x="793" width="8" height="8" fill="#440154"/><rect x="800" width="8" height="8" fill="#440154"/><rect x="807" width="8" height="8" fill="#440154"/><rect x="814" width="8" height="8" fill="#440154"/><rect x="822" width="8" height="8" fill="#440154"/><rect x="829" width="8" height="8" fill="#440154"/><rect x="836" width="8" height="8" fill="#440154"/><rect x="843" width="8" height="8" fill="#440154"/><rect x="850" width="8" height="8" fill="#440154"/><rect x="857" width="8" height="8" fill="#440154"/><rect x="864" width="8" height="8" fill="#440154"/><rect x="871" width="8" height="8" fill="#440154"/><rect x="879" width="8" height="8" fill="#440154"/><rect x="886" width="8" height="8" fill="#440154"/><rect x="893" width="8" height="8" fill="#472b7a"/>
</g>
<g transform="translate(0 255)">
<rect x="672" width="8" height="8" fill="#2b748e"/><rect x="679" width="8" height="8" fill="#440154"/><rect x="686" width="8" height="8" fill="#440154"/><rect x="693" width="8" height="8" fill="#440154"/><rect x="700" width="8" height="8" fill="#440154"/><rect x="708" width="8" height="8" fill="#440154"/><rect x="715" width="8" height="8" fill="#440154"/><rect x="722" width="8" height="8" fill="#440154"/><rect x="729" width="8" height="8" fill="#440154"/><rect x="736" width="8" height="8" fill="#440154"/><rect x="743" width="8" height="8" fill="#440154"/><rect x="750" width="8" height="8" fill="#440154"/><rect x="757" width="8" height="8" fill="#440154"/><rect x="765" width="8" height="8" fill="#440154"/><rect x="772" width="8" height="8" fill="#440154"/><rect x="779" width="8" height="8" fill="#440154"/><rect x="786" width="8" height="8" fill="#440154"/><rect x="793" width="8" height="8" fill="#440154"/><rect x="800" width="8" height="8" fill="#440154"/><rect x="807" width="8" height="8" fill="#440154"/><rect x="814" width="8" height="8" fill="#440154"/><rect x="822" width="8" height="8" fill="#440154"/><rect x="829" width="8" height="8" fill="#440154"/><rect x="836" width="8" height="8" fill="#440154"/><rect x="843" width="8" height="8" fill="#440154"/><rect x="850" width="8" height="8" fill="#440154"/><rect x="857" width="8" height="8" fill="#440154"/><rect x="864" width="8" height="8" fill="#440154"/><rect x="871" width="8" height="8" fill="#440154"/><rect x="879" width="8" height="8" fill="#440154"/><rect x="886" width="8" height="8" fill="#440154"/><rect x="893" width="8" height="8" fill="#37598c"/>
</g>
<g transform="translate(0 262)">
<rect x="672" width="8" height="8" fill="#29788e"/><rect x="679" width="8" height="8" fill="#440154"/><rect x="686" width="8" height="8" fill="#440154"/><rect x="693" width="8" height="8" fill="#440154"/><rect x="700" width="8" height="8" fill="#440154"/><rect x="708" width="8" height="8" fill="#440154"/><rect x="715" width="8" height="8" fill="#440154"/><rect x="722" width="8" height="8" fill="#440154"/><rect x="729" width="8" height="8" fill="#440154"/><rect x="736" width="8" height="8" fill="#440154"/><rect x="743" width="8" height="8" fill="#440154"/><rect x="750" width="8" height="8" fill="#440154"/><rect x="757" width="8" height="8" fill="#440154"/><rect x="765" width="8" height="8" fill="#440154"/><rect x="772" width="8" height="8" fill="#440154"/><rect x="779" width="8" height="8" fill="#440154"/><rect x="786" width="8" height="8" fill="#440154"/><rect x="793" width="8" height="8" fill="#440154"/><rect x="800" width="8" height="8" fill="#440154"/><rect x="807" width="8" height="8" fill="#440154"/><rect x="814" width="8" height="8" fill="#440154"/><rect x="822" width="8" height="8" fill="#440154"/><rect x="829" width="8" height="8" fill="#440154"/><rect x="836" width="8" height="8" fill="#440154"/><rect x="843" width="8" height="8" fill="#440154"/><rect x="850" width="8" height="8" fill="#440154"/><rect x="857" width="8" height="8" fill="#440154"/><rect x="864" width="8" height="8" fill="#440154"/><rect x="871" width="8" height="8" fill="#440154"/><rect x="879" width="8" height="8" fill="#440154"/><rect x="886" width="8" height="8" fill="#440154"/><rect x="893" width="8" height="8" fill="#462f7c"/>
</g>
<g transform="translate(0 269)">
<rect x="672" width="8" height="8" fill="#287b8e"/><rect x="679" width="8" height="8" fill="#440154"/><rect x="686" width="8" height="8" fill="#440154"/><rect x="693" width="8" height="8" fill="#440154"/><rect x="700" width="8" height="8" fill="#440154"/><rect x="708" width="8" height="8" fill="#440154"/><rect x="715" width="8" height="8" fill="#440154"/><rect x="722" width="8" height="8" fill="#440154"/><rect x="729" width="8" height="8" fill="#440154"/><rect x="736" width="8" height="8" fill="#440154"/><rect x="743" width="8" height="8" fill="#440154"/><rect x="750" width="8" height="8" fill="#440154"/><rect x="757" width="8" height="8" fill="#440154"/><rect x="765" width="8" height="8" fill="#440154"/><rect x="772" width="8" height="8" fill="#440154"/><rect x="779" width="8" height="8" fill="#440154"/><rect x="786" width="8" height="8" fill="#440154"/><rect x="793" width="8" height="8" fill="#440154"/><rect x="800" width="8" height="8" fill="#440154"/><rect x="807" width="8" height="8" fill="#440154"/><rect x="814" width="8" height="8" fill="#440154"/><rect x="822" width="8" height="8" fill="#440154"/><rect x="829" width="8" height="8" fill="#440154"/><rect x="836" width="8" height="8" fill="#440154"/><rect x="843" width="8" height="8" fill="#440154"/><rect x="850" width="8" height="8" fill="#440154"/><rect x="857" width="8" height="8" fill="#440154"/><rect x="864" width="8" height="8" fill="#440154"/><rect x="871" width="8" height="8" fill="#440154"/><rect x="879" width="8" height="8" fill="#440154"/><rect x="886" width="8" height="8" fill="#440154"/><rect x="893" width="8" height="8" fill="#277d8e"/>
</g>
<g transform="translate(0 276)">
<rect x="672" width="8" height="8" fill="#267f8e"/><rect x="679" width="8" height="8" fill="#440154"/><rect x="686" width="8" height="8" fill="#440154"/><rect x="693" width="8" height="8" fill="#440154"/><rect x="700" width="8" height="8" fill="#440154"/><rect x="708" width="8" height="8" fill="#440154"/><rect x="715" width="8" height="8" fill="#440154"/><rect x="722" width="8" height="8" fill="#440154"/><rect x="729" width="8" height="8" fill="#440154"/><rect x="736" width="8" height="8" fill="#440154"/><rect x="743" width="8" height="8" fill="#440154"/><rect x="750" width="8" height="8" fill="#440154"/><rect x="757" width="8" height="8" fill="#440154"/><rect x="765" width="8" height="8" fill="#440154"/><rect x="772" width="8" height="8" fill="#440154"/><rect x="779" width="8" height="8" fill="#440154"/><rect x="786" width="8" height="8" fill="#440154"/><rect x="793" width="8" height="8" fill="#440154"/><rect x="800" width="8" height="8" fill="#440154"/><rect x="807" width="8" height="8" fill="#440154"/><rect x="814" width="8" height="8" fill="#440154"/><rect x="822" width="8" height="8" fill="#440154"/><rect x="829" width="8" height="8" fill="#440154"/><rect x="836" width="8" height="8" fill="#440154"/><rect x="843" width="8" height="8" fill="#440154"/><rect x="850" width="8" height="8" fill="#440154"/><rect x="857" width="8" height="8" fill="#440154"/><rect x="864" width="8" height="8" fill="#440154"/><rect x="871" width="8" height="8" fill="#440154"/><rect x="879" width="8" height="8" fill="#440154"/><rect x="886" width="8" height="8" fill="#440154"/><rect x="893" width="8" height="8" fill="#21a685"/>
</g>
<g transform="translate(0 284)">
<rect x="672" width="8" height="8" fill="#25838d"/><rect x="679" width="8" height="8" fill="#440154"/><rect x="686" width="8" height="8" fill="#440154"/><rect x="693" width="8" height="8" fill="#440154"/><rect x="700" width="8" height="8" fill="#440154"/><rect x="708" width="8" height="8" fill="#440154"/><rect x="715" width="8" height="8" fill="#440154"/><rect x="722" width="8" height="8" fill="#440154"/><rect x="729" width="8" height="8" fill="#440154"/><rect x="736" width="8" height="8" fill="#440154"/><rect x="743" width="8" height="8" fill="#440154"/><rect x="750" width="8" height="8" fill="#440154"/><rect x="757" width="8" height="8" fill="#440154"/><rect x="765" width="8" height="8" fill="#440154"/><rect x="772" width="8" height="8" fill="#440154"/><rect x="779" width="8" height="8" fill="#440154"/><rect x="786" width="8" height="8" fill="#440154"/><rect x="793" width="8" height="8" fill="#440154"/><rect x="800" width="8" height="8" fill="#440154"/><rect x="807" width="8" height="8" fill="#440154"/><rect x="814" width="8" height="8" fill="#440154"/><rect x="822" width="8" height="8" fill="#440154"/><rect x="829" width="8" height="8" fill="#440154"/><rect x="836" width="8" height="8" fill="#440154"/><rect x="843" width="8" height="8" fill="#440154"/><rect x="850" width="8" height="8" fill="#440154"/><rect x="857" width="8" height="8" fill="#440154"/><rect x="864" width="8" height="8" fill="#440154"/><rect x="871" width="8" height="8" fill="#440154"/><rect x="879" width="8" height="8" fill="#440154"/><rect x="886" width="8" height="8" fill="#440154"/><rect x="893" width="8" height="8" fill="#414186"/>
</g>
<g transform="translate(0 291)">
<rect x="672" width="8" height="8" fill="#23888d"/><rect x="679" width="8" height="8" fill="#440154"/><rect x="686" width="8" height="8" fill="#440154"/><rect x="693" width="8" height="8" fill="#440154"/><rect x="700" width="8" height="8" fill="#440154"/><rect x="708" width="8" height="8" fill="#440154"/><rect x="715" width="8" height="8" fill="#440154"/><rect x="722" width="8" height="8" fill="#440154"/><rect x="729" width="8" height="8" fill="#440154"/><rect x="736" width="8" height="8" fill="#440154"/><rect x="743" width="8" height="8" fill="#440154"/><rect x="750" width="8" height="8" fill="#440154"/><rect x="757" width="8" height="8" fill="#440154"/><rect x="765" width="8" height="8" fill="#440154"/><rect x="772" width="8" height="8" fill="#440154"/><rect x="779" width="8" height="8" fill="#440154"/><rect x="786" width="8" height="8" fill="#440154"/><rect x="793" width="8" height="8" fill="#440154"/><rect x="800" width="8" height="8" fill="#440154"/><rect x="807" width="8" height="8" fill="#440154"/><rect x="814" width="8" height="8" fill="#440154"/><rect x="822" width="8" height="8" fill="#440154"/><rect x="829" width="8" height="8" fill="#440154"/><rect x="836" width="8" height="8" fill="#440154"/><rect x="843" width="8" height="8" fill="#440154"/><rect x="850" width="8" height="8" fill="#440154"/><rect x="857" width="8" height="8" fill="#440154"/><rect x="864" width="8" height="8" fill="#440154"/><rect x="871" width="8" height="8" fill="#440154"/><rect x="879" width="8" height="8" fill="#440154"/><rect x="886" width="8" height="8" fill="#440154"/><rect x="893" width="8" height="8" fill="#443982"/>
</g>
<g transform="translate(0 298)">
<rect x="672" width="8" height="8" fill="#23878d"/><rect x="679" width="8" height="8" fill="#482172"/><rect x="686" width="8" height="8" fill="#287a8e"/><rect x="693" width="8" height="8" fill="#aadb32"/><rect x="700" width="8" height="8" fill="#228b8d"/><rect x="708" width="8" height="8" fill="#45327f"/><rect x="715" width="8" height="8" fill="#460b5e"/><rect x="722" width="8" height="8" fill="#45065a"/><rect x="729" width="8" height="8" fill="#32628d"/><rect x="736" width="8" height="8" fill="#7ed24e"/><rect x="743" width="8" height="8" fill="#1e988a"/><rect x="750" width="8" height="8" fill="#433c84"/><rect x="757" width="8" height="8" fill="#471265"/><rect x="765" width="8" height="8" fill="#481a6c"/><rect x="772" width="8" height="8" fill="#423e85"/><rect x="779" width="8" height="8" fill="#49c16d"/><rect x="786" width="8" height="8" fill="#1e9f88"/><rect x="793" width="8" height="8" fill="#414186"/><rect x="800" width="8" height="8" fill="#481e70"/><rect x="807" width="8" height="8" fill="#433b83"/><rect x="814" width="8" height="8" fill="#460c5f"/><rect x="822" width="8" height="8" fill="#20a485"/><rect x="829" width="8" height="8" fill="#20a485"/><rect x="836" width="8" height="8" fill="#414286"/><rect x="843" width="8" height="8" fill="#472b7a"/><rect x="850" width="8" height="8" fill="#37598c"/><rect x="857" width="8" height="8" fill="#462f7c"/><rect x="864" width="8" height="8" fill="#277d8e"/><rect x="871" width="8" height="8" fill="#21a685"/><rect x="879" width="8" height="8" fill="#414186"/><rect x="886" width="8" height="8" fill="#443982"/><rect x="893" width="8" height="8" fill="#fde724"/>
</g>
</g>
<g class="c">
<g transform="translate(0 351)">
<rect x="125" width="8" height="8" fill="#6b2929"/><rect x="132" width="8" height="8" fill="#6e6e2a"/><rect x="139" width="8" height="8" fill="#72722a"/><rect x="146" width="8" height="8" fill="#75752a"/><rect x="153" width="8" height="8" fill="#79792a"/><rect x="161" width="8" height="8" fill="#7c7c2a"/><rect x="168" width="8" height="8" fill="#80802a"/><rect x="175" width="8" height="8" fill="#83832a"/><rect x="182" width="8" height="8" fill="#87872a"/><rect x="189" width="8" height="8" fill="#8a8a2a"/><rect x="196" width="8" height="8" fill="#8e8e2a"/><rect x="203" width="8" height="8" fill="#919129"/><rect x="210" width="8" height="8" fill="#959529"/><rect x="218" width="8" height="8" fill="#989829"/><rect x="225" width="8" height="8" fill="#9c9c28"/><rect x="232" width="8" height="8" fill="#9f9f28"/><rect x="239" width="8" height="8" fill="#a3a327"/><rect x="246" width="8" height="8" fill="#a6a626"/><rect x="253" width="8" height="8" fill="#aaaa26"/><rect x="260" width="8" height="8" fill="#adad25"/><rect x="267" width="8" height="8" fill="#b1b124"/><rect x="275" width="8" height="8" fill="#b4b423"/><rect x="282" width="8" height="8" fill="#b8b822"/><rect x="289" width="8" height="8" fill="#bbbb21"/><rect x="296" width="8" height="8" fill="#bfbf20"/><rect x="303" width="8" height="8" fill="#c3c31e"/><rect x="310" width="8" height="8" fill="#c6c61d"/><rect x="317" width="8" height="8" fill="#caca1c"/><rect x="324" width="8" height="8" fill="#cdcd1a"/><rect x="332" width="8" height="8" fill="#d1d119"/><rect x="339" width="8" height="8" fill="#d4d417"/><rect x="346" width="8" height="8" fill="#d8d816"/>
</g>
<g transform="translate(0 357)">
<rect x="125" width="8" height="8" fill="#6e2a2a"/><rect x="132" width="8" height="8" fill="#702a2a"/><rect x="139" width="8" height="8" fill="#72722a"/><rect x="146" width="8" height="8" fill="#76762a"/><rect x="153" width="8" height="8" fill="#79792a"/><rect x="161" width="8" height="8" fill="#7c7c2a"/><rect x="168" width="8" height="8" fill="#80802a"/><rect x="175" width="8" height="8" fill="#83832a"/><rect x="182" width="8" height="8" fill="#87872a"/><rect x="189" width="8" height="8" fill="#8a8a2a"/><rect x="196" width="8" height="8" fill="#8d8d2a"/><rect x="203" width="8" height="8" fill="#91912a"/><rect x="210" width="8" height="8" fill="#949429"/><rect x="218" width="8" height="8" fill="#979729"/><rect x="225" width="8" height="8" fill="#9b9b28"/><rect x="232" width="8" height="8" fill="#9e9e28"/><rect x="239" width="8" height="8" fill="#a1a127"/><rect x="246" width="8" height="8" fill="#a4a427"/><rect x="253" width="8" height="8" fill="#a7a726"/><rect x="260" width="8" height="8" fill="#aaaa25"/><rect x="267" width="8" height="8" fill="#adad25"/><rect x="275" width="8" height="8" fill="#b0b024"/><rect x="282" width="8" height="8" fill="#b3b323"/><rect x="289" width="8" height="8" fill="#b6b622"/><rect x="296" width="8" height="8" fill="#b8b822"/><rect x="303" width="8" height="8" fill="#bbbb21"/><rect x="310" width="8" height="8" fill="#bebe20"/><rect x="317" width="8" height="8" fill="#c0c01f"/><rect x="324" width="8" height="8" fill="#c3c31e"/><rect x="332" width="8" height="8" fill="#c5c51d"/><rect x="339" width="8" height="8" fill="#c7c71d"/><rect x="346" width="8" height="8" fill="#c9c91c"/>
</g>
<g transform="translate(0 364)">
<rect x="125" width="8" height="8" fill="#722a2a"/><rect x="132" width="8" height="8" fill="#722a2a"/><rect x="139" width="8" height="8" fill="#752a2a"/><rect x="146" width="8" height="8" fill="#772a2a"/><rect x="153" width="8" height="8" fill="#7a7a2a"/><rect x="161" width="8" height="8" fill="#7d7d2a"/><rect x="168" width="8" height="8" fill="#80802a"/><rect x="175" width="8" height="8" fill="#84842a"/><rect x="182" width="8" height="8" fill="#87872a"/><rect x="189" width="8" height="8" fill="#8a8a2a"/><rect x="196" width="8" height="8" fill="#8c8c2a"/><rect x="203" width="8" height="8" fill="#8f8f2a"/><rect x="210" width="8" height="8" fill="#929229"/><rect x="218" width="8" height="8" fill="#959529"/><rect x="225" width="8" height="8" fill="#979729"/><rect x="232" width="8" height="8" fill="#999929"/><rect x="239" width="8" height="8" fill="#9b9b28"/><rect x="246" width="8" height="8" fill="#9d9d28"/><rect x="253" width="8" height="8" fill="#9f9f28"/><rect x="260" width="8" height="8" fill="#a1a127"/><rect x="267" width="8" height="8" fill="#a2a227"/><rect x="275" width="8" height="8" fill="#a3a327"/><rect x="282" width="8" height="8" fill="#a4a427"/><rect x="289" width="8" height="8" fill="#a5a527"/><rect x="296" width="8" height="8" fill="#a6a626"/><rect x="303" width="8" height="8" fill="#a6a626"/><rect x="310" width="8" height="8" fill="#a6a626"/><rect x="317" width="8" height="8" fill="#a6a626"/><rect x="324" width="8" height="8" fill="#a5a526"/><rect x="332" width="8" height="8" fill="#a5a527"/><rect x="339" width="8" height="8" fill="#a4a427"/><rect x="346" width="8" height="8" fill="#a3a327"/>
</g>
<g transform="translate(0 371)">
<rect x="125" width="8" height="8" fill="#752a2a"/><rect x="132" width="8" height="8" fill="#762a2a"/><rect x="139" width="8" height="8" fill="#772a2a"/><rect x="146" width="8" height="8" fill="#792a2a"/><rect x="153" width="8" height="8" fill="#7c2a2a"/><rect x="161" width="8" height="8" fill="#7e2a2a"/><rect x="168" width="8" height="8" fill="#81812a"/><rect x="175" width="8" height="8" fill="#84842a"/><rect x="182" width="8" height="8" fill="#86862a"/><rect x="189" width="8" height="8" fill="#89892a"/><rect x="196" width="8" height="8" fill="#8b8b2a"/><rect x="203" width="8" height="8" fill="#8d8d2a"/><rect x="210" width="8" height="8" fill="#8f8f2a"/><rect x="218" width="8" height="8" fill="#90902a"/><rect x="225" width="8" height="8" fill="#919129"/><rect x="232" width="8" height="8" fill="#929229"/><rect x="239" width="8" height="8" fill="#939329"/><rect x="246" width="8" height="8" fill="#939329"/><rect x="253" width="8" height="8" fill="#939329"/><rect x="260" width="8" height="8" fill="#929229"/><rect x="267" width="8" height="8" fill="#91912a"/><rect x="275" width="8" height="8" fill="#90902a"/><rect x="282" width="8" height="8" fill="#8e8e2a"/><rect x="289" width="8" height="8" fill="#8c8c2a"/><rect x="296" width="8" height="8" fill="#8a8a2a"/><rect x="303" width="8" height="8" fill="#87872a"/><rect x="310" width="8" height="8" fill="#83832a"/><rect x="317" width="8" height="8" fill="#80802a"/><rect x="324" width="8" height="8" fill="#7c7c2a"/><rect x="332" width="8" height="8" fill="#77772a"/><rect x="339" width="8" height="8" fill="#72722a"/><rect x="346" width="8" height="8" fill="#6d6d2a"/>
</g>
<g transform="translate(0 378)">
<rect x="125" width="8" height="8" fill="#792a2a"/><rect x="132" width="8" height="8" fill="#792a2a"/><rect x="139" width="8" height="8" fill="#7a2a2a"/><rect x="146" width="8" height="8" fill="#7c2a2a"/><rect x="153" width="8" height="8" fill="#7e2a2a"/><rect x="161" width="8" height="8" fill="#802a2a"/><rect x="168" width="8" height="8" fill="#822a2a"/><rect x="175" width="8" height="8" fill="#84842a"/><rect x="182" width="8" height="8" fill="#86862a"/><rect x="189" width="8" height="8" fill="#87872a"/><rect x="196" width="8" height="8" fill="#88882a"/><rect x="203" width="8" height="8" fill="#89892a"/><rect x="210" width="8" height="8" fill="#8a8a2a"/><rect x="218" width="8" height="8" fill="#8a8a2a"/><rect x="225" width="8" height="8" fill="#89892a"/><rect x="232" width="8" height="8" fill="#88882a"/><rect x="239" width="8" height="8" fill="#87872a"/><rect x="246" width="8" height="8" fill="#85852a"/><rect x="253" width="8" height="8" fill="#82822a"/><rect x="260" width="8" height="8" fill="#7f7f2a"/><rect x="267" width="8" height="8" fill="#7c7c2a"/><rect x="275" width="8" height="8" fill="#77772a"/><rect x="282" width="8" height="8" fill="#73732a"/><rect x="289" width="8" height="8" fill="#6e6e2a"/><rect x="296" width="8" height="8" fill="#2a2a6d"/><rect x="303" width="8" height="8" fill="#2a2a73"/><rect x="310" width="8" height="8" fill="#2a2a79"/><rect x="317" width="8" height="8" fill="#2a2a80"/><rect x="324" width="8" height="8" fill="#2a2a87"/><rect x="332" width="8" height="8" fill="#2a2a8f"/><rect x="339" width="8" height="8" fill="#292997"/><rect x="346" width="8" height="8" fill="#28289f"/>
</g>
<g transform="translate(0 386)">
<rect x="125" width="8" height="8" fill="#7c2a2a"/><rect x="132" width="8" height="8" fill="#7c2a2a"/><rect x="139" width="8" height="8" fill="#7d2a2a"/><rect x="146" width="8" height="8" fill="#7e2a2a"/><rect x="153" width="8" height="8" fill="#802a2a"/><rect x="161" width="8" height="8" fill="#812a2a"/><rect x="168" width="8" height="8" fill="#832a2a"/><rect x="175" width="8" height="8" fill="#842a2a"/><rect x="182" width="8" height="8" fill="#852a2a"/><rect x="189" width="8" height="8" fill="#85852a"/><rect x="196" width="8" height="8" fill="#85852a"/><rect x="203" width="8" height="8" fill="#84842a"/><rect x="210" width="8" height="8" fill="#83832a"/><rect x="218" width="8" height="8" fill="#82822a"/><rect x="225" width="8" height="8" fill="#7f7f2a"/><rect x="232" width="8" height="8" fill="#7c7c2a"/><rect x="239" width="8" height="8" fill="#79792a"/><rect x="246" width="8" height="8" fill="#74742a"/><rect x="253" width="8" height="8" fill="#6f6f2a"/><rect x="260" width="8" height="8" fill="#29296b"/><rect x="267" width="8" height="8" fill="#2a2a71"/><rect x="275" width="8" height="8" fill="#2a2a78"/><rect x="282" width="8" height="8" fill="#2a2a7f"/><rect x="289" width="8" height="8" fill="#2a2a87"/><rect x="296" width="8" height="8" fill="#2a2a8e"/><rect x="303" width="8" height="8" fill="#292996"/><rect x="310" width="8" height="8" fill="#28289f"/><rect x="317" width="8" height="8" fill="#2626a7"/><rect x="324" width="8" height="8" fill="#2424b0"/><rect x="332" width="8" height="8" fill="#2222b8"/><rect x="339" width="8" height="8" fill="#1f1fc0"/><rect x="346" width="8" height="8" fill="#1c1cc8"/>
</g>
<g transform="translate(0 393)">
<rect x="125" width="8" height="8" fill="#802a2a"/><rect x="132" width="8" height="8" fill="#802a2a"/><rect x="139" width="8" height="8" fill="#802a2a"/><rect x="146" width="8" height="8" fill="#812a2a"/><rect x="153" width="8" height="8" fill="#822a2a"/><rect x="161" width="8" height="8" fill="#832a2a"/><rect x="168" width="8" height="8" fill="#832a2a"/><rect x="175" width="8" height="8" fill="#832a2a"/><rect x="182" width="8" height="8" fill="#832a2a"/><rect x="189" width="8" height="8" fill="#822a2a"/><rect x="196" width="8" height="8" fill="#812a2a"/><rect x="203" width="8" height="8" fill="#7f7f2a"/><rect x="210" width="8" height="8" fill="#7c7c2a"/><rect x="218" width="8" height="8" fill="#78782a"/><rect x="225" width="8" height="8" fill="#74742a"/><rect x="232" width="8" height="8" fill="#6f6f2a"/><rect x="239" width="8" height="8" fill="#29296c"/><rect x="246" width="8" height="8" fill="#2a2a73"/><rect x="253" width="8" height="8" fill="#2a2a7a"/><rect x="260" width="8" height="8" fill="#2a2a81"/><rect x="267" width="8" height="8" fill="#2a2a89"/><rect x="275" width="8" height="8" fill="#292991"/><rect x="282" width="8" height="8" fill="#28289a"/><rect x="289" width="8" height="8" fill="#2727a2"/><rect x="296" width="8" height="8" fill="#2525ab"/><rect x="303" width="8" height="8" fill="#2323b3"/><rect x="310" width="8" height="8" fill="#2121bb"/><rect x="317" width="8" height="8" fill="#1e1ec2"/><rect x="324" width="8" height="8" fill="#1c1cc9"/><rect x="332" width="8" height="8" fill="#1919d0"/><rect x="339" width="8" height="8" fill="#1717d5"/><rect x="346" width="8" height="8" fill="#1515da"/>
</g>
<g transform="translate(0 400)">
<rect x="125" width="8" height="8" fill="#832a2a"/><rect x="132" width="8" height="8" fill="#832a2a"/><rect x="139" width="8" height="8" fill="#842a2a"/><rect x="146" width="8" height="8" fill="#842a2a"/><rect x="153" width="8" height="8" fill="#842a2a"/><rect x="161" width="8" height="8" fill="#842a2a"/><rect x="168" width="8" height="8" fill="#832a2a"/><rect x="175" width="8" height="8" fill="#822a2a"/><rect x="182" width="8" height="8" fill="#812a2a"/><rect x="189" width="8" height="8" fill="#7f2a2a"/><rect x="196" width="8" height="8" fill="#7c2a2a"/><rect x="203" width="8" height="8" fill="#782a2a"/><rect x="210" width="8" height="8" fill="#732a2a"/><rect x="218" width="8" height="8" fill="#6d6d2a"/><rect x="225" width="8" height="8" fill="#2a2a6e"/><rect x="232" width="8" height="8" fill="#2a2a75"/><rect x="239" width="8" height="8" fill="#2a2a7c"/><rect x="246" width="8" height="8" fill="#2a2a84"/><rect x="253" width="8" height="8" fill="#2a2a8d"/><rect x="260" width="8" height="8" fill="#292995"/><rect x="267" width="8" height="8" fill="#28289e"/><rect x="275" width="8" height="8" fill="#2626a6"/><rect x="282" width="8" height="8" fill="#2424af"/><rect x="289" width="8" height="8" fill="#2222b6"/><rect x="296" width="8" height="8" fill="#2020bd"/><rect x="303" width="8" height="8" fill="#1e1ec4"/><rect x="310" width="8" height="8" fill="#1c1cc9"/><rect x="317" width="8" height="8" fill="#1a1acd"/><rect x="324" width="8" height="8" fill="#1919cf"/><rect x="332" width="8" height="8" fill="#1919d1"/><rect x="339" width="8" height="8" fill="#1919d0"/><rect x="346" width="8" height="8" fill="#1a1ace"/>
</g>
<g transform="translate(0 407)">
<rect x="125" width="8" height="8" fill="#872a2a"/><rect x="132" width="8" height="8" fill="#872a2a"/><rect x="139" width="8" height="8" fill="#872a2a"/><rect x="146" width="8" height="8" fill="#862a2a"/><rect x="153" width="8" height="8" fill="#862a2a"/><rect x="161" width="8" height="8" fill="#852a2a"/><rect x="168" width="8" height="8" fill="#832a2a"/><rect x="175" width="8" height="8" fill="#812a2a"/><rect x="182" width="8" height="8" fill="#7e2a2a"/><rect x="189" width="8" height="8" fill="#7a2a2a"/><rect x="196" width="8" height="8" fill="#752a2a"/><rect x="203" width="8" height="8" fill="#702a2a"/><rect x="210" width="8" height="8" fill="#296c6c"/><rect x="218" width="8" height="8" fill="#2a7373"/><rect x="225" width="8" height="8" fill="#2a2a7b"/><rect x="232" width="8" height="8" fill="#2a2a83"/><rect x="239" width="8" height="8" fill="#2a2a8c"/><rect x="246" width="8" height="8" fill="#292995"/><rect x="253" width="8" height="8" fill="#28289e"/><rect x="260" width="8" height="8" fill="#2626a6"/><rect x="267" width="8" height="8" fill="#2525ae"/><rect x="275" width="8" height="8" fill="#2323b5"/><rect x="282" width="8" height="8" fill="#2121bb"/><rect x="289" width="8" height="8" fill="#1f1fc0"/><rect x="296" width="8" height="8" fill="#1e1ec3"/><rect x="303" width="8" height="8" fill="#1d1dc5"/><rect x="310" width="8" height="8" fill="#1d1dc5"/><rect x="317" width="8" height="8" fill="#1e1ec4"/><rect x="324" width="8" height="8" fill="#1f1fc0"/><rect x="332" width="8" height="8" fill="#2121ba"/><rect x="339" width="8" height="8" fill="#2323b2"/><rect x="346" width="8" height="8" fill="#2626a9"/>
</g>
<g transform="translate(0 414)">
<rect x="125" width="8" height="8" fill="#8a2a2a"/><rect x="132" width="8" height="8" fill="#8a2a2a"/><rect x="139" width="8" height="8" fill="#8a2a2a"/><rect x="146" width="8" height="8" fill="#892a2a"/><rect x="153" width="8" height="8" fill="#872a2a"/><rect x="161" width="8" height="8" fill="#852a2a"/><rect x="168" width="8" height="8" fill="#822a2a"/><rect x="175" width="8" height="8" fill="#7f2a2a"/><rect x="182" width="8" height="8" fill="#7a2a2a"/><rect x="189" width="8" height="8" fill="#742a2a"/><rect x="196" width="8" height="8" fill="#6e2a2a"/><rect x="203" width="8" height="8" fill="#2a6e6e"/><rect x="210" width="8" height="8" fill="#2a7676"/><rect x="218" width="8" height="8" fill="#2a7f7f"/><rect x="225" width="8" height="8" fill="#2a8888"/><rect x="232" width="8" height="8" fill="#299191"/><rect x="239" width="8" height="8" fill="#28289a"/><rect x="246" width="8" height="8" fill="#2727a3"/><rect x="253" width="8" height="8" fill="#2525aa"/><rect x="260" width="8" height="8" fill="#2424b1"/><rect x="267" width="8" height="8" fill="#2222b7"/><rect x="275" width="8" height="8" fill="#2121bb"/><rect x="282" width="8" height="8" fill="#2020bd"/><rect x="289" width="8" height="8" fill="#2020bd"/><rect x="296" width="8" height="8" fill="#2121bc"/><rect x="303" width="8" height="8" fill="#2222b7"/><rect x="310" width="8" height="8" fill="#2424b1"/><rect x="317" width="8" height="8" fill="#2626a8"/><rect x="324" width="8" height="8" fill="#28289e"/><rect x="332" width="8" height="8" fill="#2a2a91"/><rect x="339" width="8" height="8" fill="#2a2a82"/><rect x="346" width="8" height="8" fill="#2a2a72"/>
</g>
<g transform="translate(0 421)">
<rect x="125" width="8" height="8" fill="#8e2a2a"/><rect x="132" width="8" height="8" fill="#8d2a2a"/><rect x="139" width="8" height="8" fill="#8c2a2a"/><rect x="146" width="8" height="8" fill="#8b2a2a"/><rect x="153" width="8" height="8" fill="#882a2a"/><rect x="161" width="8" height="8" fill="#852a2a"/><rect x="168" width="8" height="8" fill="#812a2a"/><rect x="175" width="8" height="8" fill="#7c2a2a"/><rect x="182" width="8" height="8" fill="#752a2a"/><rect x="189" width="8" height="8" fill="#6e2a2a"/><rect x="196" width="8" height="8" fill="#2a6f6f"/><rect x="203" width="8" height="8" fill="#2a7878"/><rect x="210" width="8" height="8" fill="#2a8181"/><rect x="218" width="8" height="8" fill="#2a8b8b"/><rect x="225" width="8" height="8" fill="#299494"/><rect x="232" width="8" height="8" fill="#289d9d"/><rect x="239" width="8" height="8" fill="#26a6a6"/><rect x="246" width="8" height="8" fill="#25adad"/><rect x="253" width="8" height="8" fill="#2323b2"/><rect x="260" width="8" height="8" fill="#2222b6"/><rect x="267" width="8" height="8" fill="#2222b8"/><rect x="275" width="8" height="8" fill="#2222b7"/><rect x="282" width="8" height="8" fill="#2323b4"/><rect x="289" width="8" height="8" fill="#2424af"/><rect x="296" width="8" height="8" fill="#2626a7"/><rect x="303" width="8" height="8" fill="#28289c"/><rect x="310" width="8" height="8" fill="#2a2a8f"/><rect x="317" width="8" height="8" fill="#2a2a80"/><rect x="324" width="8" height="8" fill="#2a2a70"/><rect x="332" width="8" height="8" fill="#77772a"/><rect x="339" width="8" height="8" fill="#8a8a2a"/><rect x="346" width="8" height="8" fill="#9c9c28"/>
</g>
<g transform="translate(0 428)">
<rect x="125" width="8" height="8" fill="#912929"/><rect x="132" width="8" height="8" fill="#912a2a"/><rect x="139" width="8" height="8" fill="#8f2a2a"/><rect x="146" width="8" height="8" fill="#8d2a2a"/><rect x="153" width="8" height="8" fill="#892a2a"/><rect x="161" width="8" height="8" fill="#842a2a"/><rect x="168" width="8" height="8" fill="#7f2a2a"/><rect x="175" width="8" height="8" fill="#782a2a"/><rect x="182" width="8" height="8" fill="#702a2a"/><rect x="189" width="8" height="8" fill="#2a6e6e"/><rect x="196" width="8" height="8" fill="#2a7878"/><rect x="203" width="8" height="8" fill="#2a8282"/><rect x="210" width="8" height="8" fill="#2a8c8c"/><rect x="218" width="8" height="8" fill="#299696"/><rect x="225" width="8" height="8" fill="#289f9f"/><rect x="232" width="8" height="8" fill="#26a7a7"/><rect x="239" width="8" height="8" fill="#25adad"/><rect x="246" width="8" height="8" fill="#24b2b2"/><rect x="253" width="8" height="8" fill="#23b4b4"/><rect x="260" width="8" height="8" fill="#23b3b3"/><rect x="267" width="8" height="8" fill="#2424b0"/><rect x="275" width="8" height="8" fill="#2525aa"/><rect x="282" width="8" height="8" fill="#2727a1"/><rect x="289" width="8" height="8" fill="#292996"/><rect x="296" width="8" height="8" fill="#2a2a88"/><rect x="303" width="8" height="8" fill="#2a2a77"/><rect x="310" width="8" height="8" fill="#6f6f2a"/><rect x="317" width="8" height="8" fill="#82822a"/><rect x="324" width="8" height="8" fill="#959529"/><rect x="332" width="8" height="8" fill="#a8a826"/><rect x="339" width="8" height="8" fill="#baba21"/><rect x="346" width="8" height="8" fill="#caca1c"/>
</g>
<g transform="translate(0 435)">
<rect x="125" width="8" height="8" fill="#952929"/><rect x="132" width="8" height="8" fill="#942929"/><rect x="139" width="8" height="8" fill="#922929"/><rect x="146" width="8" height="8" fill="#8f2a2a"/><rect x="153" width="8" height="8" fill="#8a2a2a"/><rect x="161" width="8" height="8" fill="#832a2a"/><rect x="168" width="8" height="8" fill="#7c2a2a"/><rect x="175" width="8" height="8" fill="#732a2a"/><rect x="182" width="8" height="8" fill="#296c6c"/><rect x="189" width="8" height="8" fill="#2a7676"/><rect x="196" width="8" height="8" fill="#2a8181"/><rect x="203" width="8" height="8" fill="#2a8c8c"/><rect x="210" width="8" height="8" fill="#299797"/><rect x="218" width="8" height="8" fill="#28a0a0"/><rect x="225" width="8" height="8" fill="#26a8a8"/><rect x="232" width="8" height="8" fill="#25adad"/><rect x="239" width="8" height="8" fill="#24b1b1"/><rect x="246" width="8" height="8" fill="#24b1b1"/><rect x="253" width="8" height="8" fill="#24afaf"/><rect x="260" width="8" height="8" fill="#26a9a9"/><rect x="267" width="8" height="8" fill="#27a0a0"/><rect x="275" width="8" height="8" fill="#292995"/><rect x="282" width="8" height="8" fill="#2a2a86"/><rect x="289" width="8" height="8" fill="#2a2a75"/><rect x="296" width="8" height="8" fill="#72722a"/><rect x="303" width="8" height="8" fill="#86862a"/><rect x="310" width="8" height="8" fill="#999929"/><rect x="317" width="8" height="8" fill="#acac25"/><rect x="324" width="8" height="8" fill="#bdbd20"/><rect x="332" width="8" height="8" fill="#cccc1b"/><rect x="339" width="8" height="8" fill="#d7d716"/><rect x="346" width="8" height="8" fill="#dfdf12"/>
</g>
<g transform="translate(0 443)">
<rect x="125" width="8" height="8" fill="#982929"/><rect x="132" width="8" height="8" fill="#972929"/><rect x="139" width="8" height="8" fill="#952929"/><rect x="146" width="8" height="8" fill="#902a2a"/><rect x="153" width="8" height="8" fill="#8a2a2a"/><rect x="161" width="8" height="8" fill="#822a2a"/><rect x="168" width="8" height="8" fill="#782a2a"/><rect x="175" width="8" height="8" fill="#6d2a2a"/><rect x="182" width="8" height="8" fill="#2a7373"/><rect x="189" width="8" height="8" fill="#2a7f7f"/><rect x="196" width="8" height="8" fill="#2a8b8b"/><rect x="203" width="8" height="8" fill="#299696"/><rect x="210" width="8" height="8" fill="#28a0a0"/><rect x="218" width="8" height="8" fill="#26a8a8"/><rect x="225" width="8" height="8" fill="#25adad"/><rect x="232" width="8" height="8" fill="#24b0b0"/><rect x="239" width="8" height="8" fill="#24afaf"/><rect x="246" width="8" height="8" fill="#25abab"/><rect x="253" width="8" height="8" fill="#27a3a3"/><rect x="260" width="8" height="8" fill="#299898"/><rect x="267" width="8" height="8" fill="#2a8a8a"/><rect x="275" width="8" height="8" fill="#2a7979"/><rect x="282" width="8" height="8" fill="#6f2a2a"/><rect x="289" width="8" height="8" fill="#83832a"/><rect x="296" width="8" height="8" fill="#979729"/><rect x="303" width="8" height="8" fill="#aaaa25"/><rect x="310" width="8" height="8" fill="#bcbc21"/><rect x="317" width="8" height="8" fill="#caca1c"/><rect x="324" width="8" height="8" fill="#d4d417"/><rect x="332" width="8" height="8" fill="#dada14"/><rect x="339" width="8" height="8" fill="#dbdb14"/><rect x="346" width="8" height="8" fill="#d6d616"/>
</g>
<g transform="translate(0 450)">
<rect x="125" width="8" height="8" fill="#9c2828"/><rect x="132" width="8" height="8" fill="#9b2828"/><rect x="139" width="8" height="8" fill="#972929"/><rect x="146" width="8" height="8" fill="#912929"/><rect x="153" width="8" height="8" fill="#892a2a"/><rect x="161" width="8" height="8" fill="#7f2a2a"/><rect x="168" width="8" height="8" fill="#742a2a"/><rect x="175" width="8" height="8" fill="#2a6e6e"/><rect x="182" width="8" height="8" fill="#2a7b7b"/><rect x="189" width="8" height="8" fill="#2a8888"/><rect x="196" width="8" height="8" fill="#299494"/><rect x="203" width="8" height="8" fill="#289f9f"/><rect x="210" width="8" height="8" fill="#26a8a8"/><rect x="218" width="8" height="8" fill="#25adad"/><rect x="225" width="8" height="8" fill="#24b0b0"/><rect x="232" width="8" height="8" fill="#24aeae"/><rect x="239" width="8" height="8" fill="#26a9a9"/><rect x="246" width="8" height="8" fill="#289f9f"/><rect x="253" width="8" height="8" fill="#299292"/><rect x="260" width="8" height="8" fill="#2a8282"/><rect x="267" width="8" height="8" fill="#2a6f6f"/><rect x="275" width="8" height="8" fill="#7b2a2a"/><rect x="282" width="8" height="8" fill="#902a2a"/><rect x="289" width="8" height="8" fill="#a42727"/><rect x="296" width="8" height="8" fill="#b62222"/><rect x="303" width="8" height="8" fill="#c5c51d"/><rect x="310" width="8" height="8" fill="#d0d019"/><rect x="317" width="8" height="8" fill="#d6d617"/><rect x="324" width="8" height="8" fill="#d5d517"/><rect x="332" width="8" height="8" fill="#cfcf19"/><rect x="339" width="8" height="8" fill="#c3c31e"/><rect x="346" width="8" height="8" fill="#b1b124"/>
</g>
<g transform="translate(0 457)">
<rect x="125" width="8" height="8" fill="#9f2828"/><rect x="132" width="8" height="8" fill="#9e2828"/><rect x="139" width="8" height="8" fill="#992929"/><rect x="146" width="8" height="8" fill="#922929"/><rect x="153" width="8" height="8" fill="#882a2a"/><rect x="161" width="8" height="8" fill="#7c2a2a"/><rect x="168" width="8" height="8" fill="#6f2a2a"/><rect x="175" width="8" height="8" fill="#2a7575"/><rect x="182" width="8" height="8" fill="#2a8383"/><rect x="189" width="8" height="8" fill="#299191"/><rect x="196" width="8" height="8" fill="#289d9d"/><rect x="203" width="8" height="8" fill="#26a7a7"/><rect x="210" width="8" height="8" fill="#25adad"/><rect x="218" width="8" height="8" fill="#24b0b0"/><rect x="225" width="8" height="8" fill="#24aeae"/><rect x="232" width="8" height="8" fill="#26a8a8"/><rect x="239" width="8" height="8" fill="#289d9d"/><rect x="246" width="8" height="8" fill="#2a8e8e"/><rect x="253" width="8" height="8" fill="#2a7c7c"/><rect x="260" width="8" height="8" fill="#6d2a2a"/><rect x="267" width="8" height="8" fill="#832a2a"/><rect x="275" width="8" height="8" fill="#992929"/><rect x="282" width="8" height="8" fill="#ad2525"/><rect x="289" width="8" height="8" fill="#bd2020"/><rect x="296" width="8" height="8" fill="#ca1c1c"/><rect x="303" width="8" height="8" fill="#d11919"/><rect x="310" width="8" height="8" fill="#d2d218"/><rect x="317" width="8" height="8" fill="#cccc1b"/><rect x="324" width="8" height="8" fill="#bfbf1f"/><rect x="332" width="8" height="8" fill="#adad25"/><rect x="339" width="8" height="8" fill="#949429"/><rect x="346" width="8" height="8" fill="#78782a"/>
</g>
<g transform="translate(0 464)">
<rect x="125" width="8" height="8" fill="#a32727"/><rect x="132" width="8" height="8" fill="#a12727"/><rect x="139" width="8" height="8" fill="#9b2828"/><rect x="146" width="8" height="8" fill="#932929"/><rect x="153" width="8" height="8" fill="#872a2a"/><rect x="161" width="8" height="8" fill="#792a2a"/><rect x="168" width="8" height="8" fill="#296c6c"/><rect x="175" width="8" height="8" fill="#2a7c7c"/><rect x="182" width="8" height="8" fill="#2a8c8c"/><rect x="189" width="8" height="8" fill="#289a9a"/><rect x="196" width="8" height="8" fill="#26a6a6"/><rect x="203" width="8" height="8" fill="#25adad"/><rect x="210" width="8" height="8" fill="#24b1b1"/><rect x="218" width="8" height="8" fill="#24afaf"/><rect x="225" width="8" height="8" fill="#26a9a9"/><rect x="232" width="8" height="8" fill="#289d9d"/><rect x="239" width="8" height="8" fill="#2a8d8d"/><rect x="246" width="8" height="8" fill="#2a7a7a"/><rect x="253" width="8" height="8" fill="#722a2a"/><rect x="260" width="8" height="8" fill="#882a2a"/><rect x="267" width="8" height="8" fill="#9f2828"/><rect x="275" width="8" height="8" fill="#b22323"/><rect x="282" width="8" height="8" fill="#c21f1f"/><rect x="289" width="8" height="8" fill="#cc1b1b"/><rect x="296" width="8" height="8" fill="#cf1919"/><rect x="303" width="8" height="8" fill="#cc1b1b"/><rect x="310" width="8" height="8" fill="#c11f1f"/><rect x="317" width="8" height="8" fill="#ae2424"/><rect x="324" width="8" height="8" fill="#969629"/><rect x="332" width="8" height="8" fill="#7a7a2a"/><rect x="339" width="8" height="8" fill="#2a2a7b"/><rect x="346" width="8" height="8" fill="#28289b"/>
</g>
<g transform="translate(0 471)">
<rect x="125" width="8" height="8" fill="#a62626"/><rect x="132" width="8" height="8" fill="#a42727"/><rect x="139" width="8" height="8" fill="#9d2828"/><rect x="146" width="8" height="8" fill="#932929"/><rect x="153" width="8" height="8" fill="#852a2a"/><rect x="161" width="8" height="8" fill="#742a2a"/><rect x="168" width="8" height="8" fill="#2a7373"/><rect x="175" width="8" height="8" fill="#2a8484"/><rect x="182" width="8" height="8" fill="#299595"/><rect x="189" width="8" height="8" fill="#27a3a3"/><rect x="196" width="8" height="8" fill="#25adad"/><rect x="203" width="8" height="8" fill="#24b2b2"/><rect x="210" width="8" height="8" fill="#24b1b1"/><rect x="218" width="8" height="8" fill="#25abab"/><rect x="225" width="8" height="8" fill="#289f9f"/><rect x="232" width="8" height="8" fill="#2a8e8e"/><rect x="239" width="8" height="8" fill="#2a7a7a"/><rect x="246" width="8" height="8" fill="#732a2a"/><rect x="253" width="8" height="8" fill="#8b2a2a"/><rect x="260" width="8" height="8" fill="#a22727"/><rect x="267" width="8" height="8" fill="#b62323"/><rect x="275" width="8" height="8" fill="#c41e1e"/><rect x="282" width="8" height="8" fill="#cc1b1b"/><rect x="289" width="8" height="8" fill="#cd1a1a"/><rect x="296" width="8" height="8" fill="#c51d1d"/><rect x="303" width="8" height="8" fill="#b52323"/><rect x="310" width="8" height="8" fill="#9e2828"/><rect x="317" width="8" height="8" fill="#822a2a"/><rect x="324" width="8" height="8" fill="#2a7373"/><rect x="332" width="8" height="8" fill="#299494"/><rect x="339" width="8" height="8" fill="#2323b3"/><rect x="346" width="8" height="8" fill="#1a1ace"/>
</g>
<g transform="translate(0 478)">
<rect x="125" width="8" height="8" fill="#aa2626"/><rect x="132" width="8" height="8" fill="#a72626"/><rect x="139" width="8" height="8" fill="#9f2828"/><rect x="146" width="8" height="8" fill="#932929"/><rect x="153" width="8" height="8" fill="#822a2a"/><rect x="161" width="8" height="8" fill="#6f2a2a"/><rect x="168" width="8" height="8" fill="#2a7a7a"/><rect x="175" width="8" height="8" fill="#2a8d8d"/><rect x="182" width="8" height="8" fill="#289e9e"/><rect x="189" width="8" height="8" fill="#25aaaa"/><rect x="196" width="8" height="8" fill="#23b2b2"/><rect x="203" width="8" height="8" fill="#23b4b4"/><rect x="210" width="8" height="8" fill="#24afaf"/><rect x="218" width="8" height="8" fill="#27a3a3"/><rect x="225" width="8" height="8" fill="#299292"/><rect x="232" width="8" height="8" fill="#2a7c7c"/><rect x="239" width="8" height="8" fill="#722a2a"/><rect x="246" width="8" height="8" fill="#8b2a2a"/><rect x="253" width="8" height="8" fill="#a32727"/><rect x="260" width="8" height="8" fill="#b72222"/><rect x="267" width="8" height="8" fill="#c51d1d"/><rect x="275" width="8" height="8" fill="#cc1b1b"/><rect x="282" width="8" height="8" fill="#ca1c1c"/><rect x="289" width="8" height="8" fill="#bf2020"/><rect x="296" width="8" height="8" fill="#ab2525"/><rect x="303" width="8" height="8" fill="#912a2a"/><rect x="310" width="8" height="8" fill="#722a2a"/><rect x="317" width="8" height="8" fill="#2a8585"/><rect x="324" width="8" height="8" fill="#26a7a7"/><rect x="332" width="8" height="8" fill="#1ec4c4"/><rect x="339" width="8" height="8" fill="#14dada"/><rect x="346" width="8" height="8" fill="#0ee8e8"/>
</g>
<g transform="translate(0 485)">
<rect x="125" width="8" height="8" fill="#ad2525"/><rect x="132" width="8" height="8" fill="#aa2525"/><rect x="139" width="8" height="8" fill="#a12727"/><rect x="146" width="8" height="8" fill="#922929"/><rect x="153" width="8" height="8" fill="#7f2a2a"/><rect x="161" width="8" height="8" fill="#296b6b"/><rect x="168" width="8" height="8" fill="#2a8181"/><rect x="175" width="8" height="8" fill="#299595"/><rect x="182" width="8" height="8" fill="#26a6a6"/><rect x="189" width="8" height="8" fill="#24b1b1"/><rect x="196" width="8" height="8" fill="#22b6b6"/><rect x="203" width="8" height="8" fill="#23b3b3"/><rect x="210" width="8" height="8" fill="#26a9a9"/><rect x="218" width="8" height="8" fill="#299898"/><rect x="225" width="8" height="8" fill="#2a8282"/><rect x="232" width="8" height="8" fill="#6d2a2a"/><rect x="239" width="8" height="8" fill="#882a2a"/><rect x="246" width="8" height="8" fill="#a22727"/><rect x="253" width="8" height="8" fill="#b72222"/><rect x="260" width="8" height="8" fill="#c61d1d"/><rect x="267" width="8" height="8" fill="#cc1b1b"/><rect x="275" width="8" height="8" fill="#c81c1c"/><rect x="282" width="8" height="8" fill="#ba2121"/><rect x="289" width="8" height="8" fill="#a42727"/><rect x="296" width="8" height="8" fill="#862a2a"/><rect x="303" width="8" height="8" fill="#2a7171"/><rect x="310" width="8" height="8" fill="#299494"/><rect x="317" width="8" height="8" fill="#23b4b4"/><rect x="324" width="8" height="8" fill="#1acfcf"/><rect x="332" width="8" height="8" fill="#11e1e1"/><rect x="339" width="8" height="8" fill="#0ee7e7"/><rect x="346" width="8" height="8" fill="#11e1e1"/>
</g>
<g transform="translate(0 492)">
<rect x="125" width="8" height="8" fill="#b12424"/><rect x="132" width="8" height="8" fill="#ad2525"/><rect x="139" width="8" height="8" fill="#a22727"/><rect x="146" width="8" height="8" fill="#912a2a"/><rect x="153" width="8" height="8" fill="#7c2a2a"/><rect x="161" width="8" height="8" fill="#2a7171"/><rect x="168" width="8" height="8" fill="#2a8989"/><rect x="175" width="8" height="8" fill="#289e9e"/><rect x="182" width="8" height="8" fill="#25aeae"/><rect x="189" width="8" height="8" fill="#22b7b7"/><rect x="196" width="8" height="8" fill="#22b8b8"/><rect x="203" width="8" height="8" fill="#24b0b0"/><rect x="210" width="8" height="8" fill="#27a0a0"/><rect x="218" width="8" height="8" fill="#2a8a8a"/><rect x="225" width="8" height="8" fill="#2a6f6f"/><rect x="232" width="8" height="8" fill="#832a2a"/><rect x="239" width="8" height="8" fill="#9f2828"/><rect x="246" width="8" height="8" fill="#b62323"/><rect x="253" width="8" height="8" fill="#c51d1d"/><rect x="260" width="8" height="8" fill="#cc1b1b"/><rect x="267" width="8" height="8" fill="#c71d1d"/><rect x="275" width="8" height="8" fill="#b82222"/><rect x="282" width="8" height="8" fill="#9f2828"/><rect x="289" width="8" height="8" fill="#7f2a2a"/><rect x="296" width="8" height="8" fill="#2a7a7a"/><rect x="303" width="8" height="8" fill="#289e9e"/><rect x="310" width="8" height="8" fill="#20bebe"/><rect x="317" width="8" height="8" fill="#17d6d6"/><rect x="324" width="8" height="8" fill="#10e3e3"/><rect x="332" width="8" height="8" fill="#10e3e3"/><rect x="339" width="8" height="8" fill="#17d6d6"/><rect x="346" width="8" height="8" fill="#21bbbb"/>
</g>
<g transform="translate(0 500)">
<rect x="125" width="8" height="8" fill="#b42323"/><rect x="132" width="8" height="8" fill="#b02424"/><rect x="139" width="8" height="8" fill="#a32727"/><rect x="146" width="8" height="8" fill="#902a2a"/><rect x="153" width="8" height="8" fill="#772a2a"/><rect x="161" width="8" height="8" fill="#2a7878"/><rect x="168" width="8" height="8" fill="#299191"/><rect x="175" width="8" height="8" fill="#26a6a6"/><rect x="182" width="8" height="8" fill="#23b5b5"/><rect x="189" width="8" height="8" fill="#21bbbb"/><rect x="196" width="8" height="8" fill="#22b7b7"/><rect x="203" width="8" height="8" fill="#25aaaa"/><rect x="210" width="8" height="8" fill="#299595"/><rect x="218" width="8" height="8" fill="#2a7979"/><rect x="225" width="8" height="8" fill="#7b2a2a"/><rect x="232" width="8" height="8" fill="#992929"/><rect x="239" width="8" height="8" fill="#b22323"/><rect x="246" width="8" height="8" fill="#c41e1e"/><rect x="253" width="8" height="8" fill="#cc1b1b"/><rect x="260" width="8" height="8" fill="#c81c1c"/><rect x="267" width="8" height="8" fill="#b82222"/><rect x="275" width="8" height="8" fill="#9e2828"/><rect x="282" width="8" height="8" fill="#7c2a2a"/><rect x="289" width="8" height="8" fill="#2a7f7f"/><rect x="296" width="8" height="8" fill="#27a4a4"/><rect x="303" width="8" height="8" fill="#1ec4c4"/><rect x="310" width="8" height="8" fill="#15dada"/><rect x="317" width="8" height="8" fill="#10e3e3"/><rect x="324" width="8" height="8" fill="#13dede"/><rect x="332" width="8" height="8" fill="#1ccaca"/><rect x="339" width="8" height="8" fill="#26a9a9"/><rect x="346" width="8" height="8" fill="#2a7f7f"/>
</g>
<g transform="translate(0 507)">
<rect x="125" width="8" height="8" fill="#b82222"/><rect x="132" width="8" height="8" fill="#b32323"/><rect x="139" width="8" height="8" fill="#a42727"/><rect x="146" width="8" height="8" fill="#8e2a2a"/><rect x="153" width="8" height="8" fill="#732a2a"/><rect x="161" width="8" height="8" fill="#2a7f7f"/><rect x="168" width="8" height="8" fill="#289a9a"/><rect x="175" width="8" height="8" fill="#24afaf"/><rect x="182" width="8" height="8" fill="#21bbbb"/><rect x="189" width="8" height="8" fill="#20bdbd"/><rect x="196" width="8" height="8" fill="#23b4b4"/><rect x="203" width="8" height="8" fill="#27a1a1"/><rect x="210" width="8" height="8" fill="#2a8686"/><rect x="218" width="8" height="8" fill="#6f2a2a"/><rect x="225" width="8" height="8" fill="#902a2a"/><rect x="232" width="8" height="8" fill="#ad2525"/><rect x="239" width="8" height="8" fill="#c21f1f"/><rect x="246" width="8" height="8" fill="#cc1b1b"/><rect x="253" width="8" height="8" fill="#ca1c1c"/><rect x="260" width="8" height="8" fill="#ba2121"/><rect x="267" width="8" height="8" fill="#9f2828"/><rect x="275" width="8" height="8" fill="#7c2a2a"/><rect x="282" width="8" height="8" fill="#2a8181"/><rect x="289" width="8" height="8" fill="#26a7a7"/><rect x="296" width="8" height="8" fill="#1dc7c7"/><rect x="303" width="8" height="8" fill="#14dcdc"/><rect x="310" width="8" height="8" fill="#11e2e2"/><rect x="317" width="8" height="8" fill="#15d8d8"/><rect x="324" width="8" height="8" fill="#20bfbf"/><rect x="332" width="8" height="8" fill="#299999"/><rect x="339" width="8" height="8" fill="#296c6c"/><rect x="346" width="8" height="8" fill="#9a2929"/>
</g>
<g transform="translate(0 514)">
<rect x="125" width="8" height="8" fill="#bb2121"/><rect x="132" width="8" height="8" fill="#b62222"/><rect x="139" width="8" height="8" fill="#a52727"/><rect x="146" width="8" height="8" fill="#8c2a2a"/><rect x="153" width="8" height="8" fill="#6e2a2a"/><rect x="161" width="8" height="8" fill="#2a8787"/><rect x="168" width="8" height="8" fill="#27a2a2"/><rect x="175" width="8" height="8" fill="#22b6b6"/><rect x="182" width="8" height="8" fill="#1fc0c0"/><rect x="189" width="8" height="8" fill="#20bdbd"/><rect x="196" width="8" height="8" fill="#24afaf"/><rect x="203" width="8" height="8" fill="#299696"/><rect x="210" width="8" height="8" fill="#2a7575"/><rect x="218" width="8" height="8" fill="#832a2a"/><rect x="225" width="8" height="8" fill="#a42727"/><rect x="232" width="8" height="8" fill="#bd2020"/><rect x="239" width="8" height="8" fill="#cc1b1b"/><rect x="246" width="8" height="8" fill="#cd1a1a"/><rect x="253" width="8" height="8" fill="#bf2020"/><rect x="260" width="8" height="8" fill="#a42727"/><rect x="267" width="8" height="8" fill="#7f2a2a"/><rect x="275" width="8" height="8" fill="#2a7f7f"/><rect x="282" width="8" height="8" fill="#26a7a7"/><rect x="289" width="8" height="8" fill="#1cc8c8"/><rect x="296" width="8" height="8" fill="#13dcdc"/><rect x="303" width="8" height="8" fill="#11e1e1"/><rect x="310" width="8" height="8" fill="#17d4d4"/><rect x="317" width="8" height="8" fill="#22b7b7"/><rect x="324" width="8" height="8" fill="#2a8d8d"/><rect x="332" width="8" height="8" fill="#792a2a"/><rect x="339" width="8" height="8" fill="#a92626"/><rect x="346" width="8" height="8" fill="#d31818"/>
</g>
<g transform="translate(0 521)">
<rect x="125" width="8" height="8" fill="#bf2020"/><rect x="132" width="8" height="8" fill="#b82222"/><rect x="139" width="8" height="8" fill="#a62626"/><rect x="146" width="8" height="8" fill="#8a2a2a"/><rect x="153" width="8" height="8" fill="#2a6d6d"/><rect x="161" width="8" height="8" fill="#2a8e8e"/><rect x="168" width="8" height="8" fill="#25abab"/><rect x="175" width="8" height="8" fill="#20bdbd"/><rect x="182" width="8" height="8" fill="#1ec3c3"/><rect x="189" width="8" height="8" fill="#21bcbc"/><rect x="196" width="8" height="8" fill="#26a7a7"/><rect x="203" width="8" height="8" fill="#2a8888"/><rect x="210" width="8" height="8" fill="#722a2a"/><rect x="218" width="8" height="8" fill="#972929"/><rect x="225" width="8" height="8" fill="#b62222"/><rect x="232" width="8" height="8" fill="#ca1c1c"/><rect x="239" width="8" height="8" fill="#cf1919"/><rect x="246" width="8" height="8" fill="#c51d1d"/><rect x="253" width="8" height="8" fill="#ab2525"/><rect x="260" width="8" height="8" fill="#862a2a"/><rect x="267" width="8" height="8" fill="#2a7a7a"/><rect x="275" width="8" height="8" fill="#27a4a4"/><rect x="282" width="8" height="8" fill="#1dc7c7"/><rect x="289" width="8" height="8" fill="#13dcdc"/><rect x="296" width="8" height="8" fill="#11e0e0"/><rect x="303" width="8" height="8" fill="#18d2d2"/><rect x="310" width="8" height="8" fill="#24b2b2"/><rect x="317" width="8" height="8" fill="#2a8585"/><rect x="324" width="8" height="8" fill="#832a2a"/><rect x="332" width="8" height="8" fill="#b52323"/><rect x="339" width="8" height="8" fill="#dc1414"/><rect x="346" width="8" height="8" fill="#f20707"/>
</g>
<g transform="translate(0 528)">
<rect x="125" width="8" height="8" fill="#c31e1e"/><rect x="132" width="8" height="8" fill="#bb2121"/><rect x="139" width="8" height="8" fill="#a62626"/><rect x="146" width="8" height="8" fill="#872a2a"/><rect x="153" width="8" height="8" fill="#2a7373"/><rect x="161" width="8" height="8" fill="#299696"/><rect x="168" width="8" height="8" fill="#23b3b3"/><rect x="175" width="8" height="8" fill="#1ec4c4"/><rect x="182" width="8" height="8" fill="#1dc5c5"/><rect x="189" width="8" height="8" fill="#22b7b7"/><rect x="196" width="8" height="8" fill="#289c9c"/><rect x="203" width="8" height="8" fill="#2a7777"/><rect x="210" width="8" height="8" fill="#862a2a"/><rect x="218" width="8" height="8" fill="#aa2525"/><rect x="225" width="8" height="8" fill="#c51d1d"/><rect x="232" width="8" height="8" fill="#d11919"/><rect x="239" width="8" height="8" fill="#cc1b1b"/><rect x="246" width="8" height="8" fill="#b52323"/><rect x="253" width="8" height="8" fill="#912a2a"/><rect x="260" width="8" height="8" fill="#2a7171"/><rect x="267" width="8" height="8" fill="#289e9e"/><rect x="275" width="8" height="8" fill="#1ec4c4"/><rect x="282" width="8" height="8" fill="#14dcdc"/><rect x="289" width="8" height="8" fill="#11e1e1"/><rect x="296" width="8" height="8" fill="#18d2d2"/><rect x="303" width="8" height="8" fill="#24b0b0"/><rect x="310" width="8" height="8" fill="#2a8080"/><rect x="317" width="8" height="8" fill="#8a2a2a"/><rect x="324" width="8" height="8" fill="#bb2121"/><rect x="332" width="8" height="8" fill="#e11111"/><rect x="339" width="8" height="8" fill="#f30707"/><rect x="346" width="8" height="8" fill="#ef0909"/>
</g>
<g transform="translate(0 535)">
<rect x="125" width="8" height="8" fill="#c61d1d"/><rect x="132" width="8" height="8" fill="#be2020"/><rect x="139" width="8" height="8" fill="#a62626"/><rect x="146" width="8" height="8" fill="#832a2a"/><rect x="153" width="8" height="8" fill="#2a7979"/><rect x="161" width="8" height="8" fill="#289f9f"/><rect x="168" width="8" height="8" fill="#21bbbb"/><rect x="175" width="8" height="8" fill="#1cc9c9"/><rect x="182" width="8" height="8" fill="#1dc5c5"/><rect x="189" width="8" height="8" fill="#24b1b1"/><rect x="196" width="8" height="8" fill="#2a8f8f"/><rect x="203" width="8" height="8" fill="#6f2a2a"/><rect x="210" width="8" height="8" fill="#992929"/><rect x="218" width="8" height="8" fill="#bc2121"/><rect x="225" width="8" height="8" fill="#d01919"/><rect x="232" width="8" height="8" fill="#d21818"/><rect x="239" width="8" height="8" fill="#c11f1f"/><rect x="246" width="8" height="8" fill="#9e2828"/><rect x="253" width="8" height="8" fill="#722a2a"/><rect x="260" width="8" height="8" fill="#299494"/><rect x="267" width="8" height="8" fill="#20bebe"/><rect x="275" width="8" height="8" fill="#15dada"/><rect x="282" width="8" height="8" fill="#11e2e2"/><rect x="289" width="8" height="8" fill="#17d4d4"/><rect x="296" width="8" height="8" fill="#24b2b2"/><rect x="303" width="8" height="8" fill="#2a8080"/><rect x="310" width="8" height="8" fill="#8c2a2a"/><rect x="317" width="8" height="8" fill="#bf2020"/><rect x="324" width="8" height="8" fill="#e41010"/><rect x="332" width="8" height="8" fill="#f40707"/><rect x="339" width="8" height="8" fill="#ea0c0c"/><rect x="346" width="8" height="8" fill="#c81c1c"/>
</g>
<g transform="translate(0 542)">
<rect x="125" width="8" height="8" fill="#ca1c1c"/><rect x="132" width="8" height="8" fill="#c01f1f"/><rect x="139" width="8" height="8" fill="#a62626"/><rect x="146" width="8" height="8" fill="#802a2a"/><rect x="153" width="8" height="8" fill="#2a8080"/><rect x="161" width="8" height="8" fill="#26a7a7"/><rect x="168" width="8" height="8" fill="#1ec2c2"/><rect x="175" width="8" height="8" fill="#1acdcd"/><rect x="182" width="8" height="8" fill="#1ec4c4"/><rect x="189" width="8" height="8" fill="#26a8a8"/><rect x="196" width="8" height="8" fill="#2a8080"/><rect x="203" width="8" height="8" fill="#822a2a"/><rect x="210" width="8" height="8" fill="#ac2525"/><rect x="218" width="8" height="8" fill="#ca1c1c"/><rect x="225" width="8" height="8" fill="#d61717"/><rect x="232" width="8" height="8" fill="#cc1b1b"/><rect x="239" width="8" height="8" fill="#ae2424"/><rect x="246" width="8" height="8" fill="#822a2a"/><rect x="253" width="8" height="8" fill="#2a8585"/><rect x="260" width="8" height="8" fill="#23b4b4"/><rect x="267" width="8" height="8" fill="#17d6d6"/><rect x="275" width="8" height="8" fill="#10e3e3"/><rect x="282" width="8" height="8" fill="#15d8d8"/><rect x="289" width="8" height="8" fill="#22b7b7"/><rect x="296" width="8" height="8" fill="#2a8585"/><rect x="303" width="8" height="8" fill="#8a2a2a"/><rect x="310" width="8" height="8" fill="#bf2020"/><rect x="317" width="8" height="8" fill="#e50f0f"/><rect x="324" width="8" height="8" fill="#f30707"/><rect x="332" width="8" height="8" fill="#e70e0e"/><rect x="339" width="8" height="8" fill="#c11f1f"/><rect x="346" width="8" height="8" fill="#882a2a"/>
</g>
<g transform="translate(0 549)">
<rect x="125" width="8" height="8" fill="#cd1a1a"/><rect x="132" width="8" height="8" fill="#c31e1e"/><rect x="139" width="8" height="8" fill="#a52626"/><rect x="146" width="8" height="8" fill="#7c2a2a"/><rect x="153" width="8" height="8" fill="#2a8787"/><rect x="161" width="8" height="8" fill="#24b0b0"/><rect x="168" width="8" height="8" fill="#1cc9c9"/><rect x="175" width="8" height="8" fill="#19cfcf"/><rect x="182" width="8" height="8" fill="#1fc0c0"/><rect x="189" width="8" height="8" fill="#289e9e"/><rect x="196" width="8" height="8" fill="#2a7070"/><rect x="203" width="8" height="8" fill="#952929"/><rect x="210" width="8" height="8" fill="#bd2020"/><rect x="218" width="8" height="8" fill="#d41717"/><rect x="225" width="8" height="8" fill="#d51717"/><rect x="232" width="8" height="8" fill="#bf1f1f"/><rect x="239" width="8" height="8" fill="#962929"/><rect x="246" width="8" height="8" fill="#2a7373"/><rect x="253" width="8" height="8" fill="#26a7a7"/><rect x="260" width="8" height="8" fill="#1acfcf"/><rect x="267" width="8" height="8" fill="#10e3e3"/><rect x="275" width="8" height="8" fill="#13dede"/><rect x="282" width="8" height="8" fill="#20bfbf"/><rect x="289" width="8" height="8" fill="#2a8d8d"/><rect x="296" width="8" height="8" fill="#832a2a"/><rect x="303" width="8" height="8" fill="#bb2121"/><rect x="310" width="8" height="8" fill="#e41010"/><rect x="317" width="8" height="8" fill="#f30707"/><rect x="324" width="8" height="8" fill="#e60f0f"/><rect x="332" width="8" height="8" fill="#bd2020"/><rect x="339" width="8" height="8" fill="#802a2a"/><rect x="346" width="8" height="8" fill="#299898"/>
</g>
<g transform="translate(0 557)">
<rect x="125" width="8" height="8" fill="#d11919"/><rect x="132" width="8" height="8" fill="#c51d1d"/><rect x="139" width="8" height="8" fill="#a52727"/><rect x="146" width="8" height="8" fill="#772a2a"/><rect x="153" width="8" height="8" fill="#2a8f8f"/><rect x="161" width="8" height="8" fill="#22b8b8"/><rect x="168" width="8" height="8" fill="#19d0d0"/><rect x="175" width="8" height="8" fill="#19d1d1"/><rect x="182" width="8" height="8" fill="#21baba"/><rect x="189" width="8" height="8" fill="#2a9191"/><rect x="196" width="8" height="8" fill="#772a2a"/><rect x="203" width="8" height="8" fill="#a82626"/><rect x="210" width="8" height="8" fill="#cc1b1b"/><rect x="218" width="8" height="8" fill="#da1414"/><rect x="225" width="8" height="8" fill="#cf1919"/><rect x="232" width="8" height="8" fill="#ad2525"/><rect x="239" width="8" height="8" fill="#7a2a2a"/><rect x="246" width="8" height="8" fill="#299494"/><rect x="253" width="8" height="8" fill="#1ec4c4"/><rect x="260" width="8" height="8" fill="#11e1e1"/><rect x="267" width="8" height="8" fill="#10e3e3"/><rect x="275" width="8" height="8" fill="#1ccaca"/><rect x="282" width="8" height="8" fill="#299999"/><rect x="289" width="8" height="8" fill="#792a2a"/><rect x="296" width="8" height="8" fill="#b52323"/><rect x="303" width="8" height="8" fill="#e11111"/><rect x="310" width="8" height="8" fill="#f40707"/><rect x="317" width="8" height="8" fill="#e70e0e"/><rect x="324" width="8" height="8" fill="#bd2020"/><rect x="332" width="8" height="8" fill="#7e2a2a"/><rect x="339" width="8" height="8" fill="#289d9d"/><rect x="346" width="8" height="8" fill="#15d9d9"/>
</g>
<g transform="translate(0 564)">
<rect x="125" width="8" height="8" fill="#d41717"/><rect x="132" width="8" height="8" fill="#c71d1d"/><rect x="139" width="8" height="8" fill="#a42727"/><rect x="146" width="8" height="8" fill="#722a2a"/><rect x="153" width="8" height="8" fill="#299797"/><rect x="161" width="8" height="8" fill="#1fc0c0"/><rect x="168" width="8" height="8" fill="#17d5d5"/><rect x="175" width="8" height="8" fill="#19d0d0"/><rect x="182" width="8" height="8" fill="#23b2b2"/><rect x="189" width="8" height="8" fill="#2a8282"/><rect x="196" width="8" height="8" fill="#8a2a2a"/><rect x="203" width="8" height="8" fill="#ba2121"/><rect x="210" width="8" height="8" fill="#d71616"/><rect x="218" width="8" height="8" fill="#db1414"/><rect x="225" width="8" height="8" fill="#c31e1e"/><rect x="232" width="8" height="8" fill="#942929"/><rect x="239" width="8" height="8" fill="#2a7b7b"/><rect x="246" width="8" height="8" fill="#23b3b3"/><rect x="253" width="8" height="8" fill="#14dada"/><rect x="260" width="8" height="8" fill="#0ee7e7"/><rect x="267" width="8" height="8" fill="#17d6d6"/><rect x="275" width="8" height="8" fill="#26a9a9"/><rect x="282" width="8" height="8" fill="#296c6c"/><rect x="289" width="8" height="8" fill="#a92626"/><rect x="296" width="8" height="8" fill="#dc1414"/><rect x="303" width="8" height="8" fill="#f30707"/><rect x="310" width="8" height="8" fill="#ea0c0c"/><rect x="317" width="8" height="8" fill="#c11f1f"/><rect x="324" width="8" height="8" fill="#802a2a"/><rect x="332" width="8" height="8" fill="#289d9d"/><rect x="339" width="8" height="8" fill="#14dada"/><rect x="346" width="8" height="8" fill="#0ff"/>
</g>
<g transform="translate(0 571)">
<rect x="125" width="8" height="8" fill="#d81616"/><rect x="132" width="8" height="8" fill="#c91c1c"/><rect x="139" width="8" height="8" fill="#a32727"/><rect x="146" width="8" height="8" fill="#6d2a2a"/><rect x="153" width="8" height="8" fill="#289f9f"/><rect x="161" width="8" height="8" fill="#1cc8c8"/><rect x="168" width="8" height="8" fill="#15dada"/><rect x="175" width="8" height="8" fill="#1acece"/><rect x="182" width="8" height="8" fill="#26a9a9"/><rect x="189" width="8" height="8" fill="#2a7272"/><rect x="196" width="8" height="8" fill="#9c2828"/><rect x="203" width="8" height="8" fill="#ca1c1c"/><rect x="210" width="8" height="8" fill="#df1212"/><rect x="218" width="8" height="8" fill="#d61616"/><rect x="225" width="8" height="8" fill="#b12424"/><rect x="232" width="8" height="8" fill="#782a2a"/><rect x="239" width="8" height="8" fill="#289b9b"/><rect x="246" width="8" height="8" fill="#1acece"/><rect x="253" width="8" height="8" fill="#0ee8e8"/><rect x="260" width="8" height="8" fill="#11e1e1"/><rect x="267" width="8" height="8" fill="#21bbbb"/><rect x="275" width="8" height="8" fill="#2a7f7f"/><rect x="282" width="8" height="8" fill="#9a2929"/><rect x="289" width="8" height="8" fill="#d31818"/><rect x="296" width="8" height="8" fill="#f20707"/><rect x="303" width="8" height="8" fill="#ef0909"/><rect x="310" width="8" height="8" fill="#c81c1c"/><rect x="317" width="8" height="8" fill="#882a2a"/><rect x="324" width="8" height="8" fill="#299898"/><rect x="332" width="8" height="8" fill="#15d9d9"/><rect x="339" width="8" height="8" fill="#0ff"/><rect x="346" width="8" height="8" fill="#00fefe"/>
</g>
</g>
<g class="c">
<g transform="translate(0 351)">
<rect x="399" width="8" height="8" fill="#6b2929"/><rect x="406" width="8" height="8" fill="#6d6d29"/><rect x="413" width="8" height="8" fill="#6f6f2a"/><rect x="420" width="8" height="8" fill="#71712a"/><rect x="427" width="8" height="8" fill="#72722a"/><rect x="435" width="8" height="8" fill="#74742a"/><rect x="442" width="8" height="8" fill="#76762a"/><rect x="449" width="8" height="8" fill="#78782a"/><rect x="456" width="8" height="8" fill="#7a7a2a"/><rect x="463" width="8" height="8" fill="#7c7c2a"/><rect x="470" width="8" height="8" fill="#7e7e2a"/><rect x="477" width="8" height="8" fill="#80802a"/><rect x="484" width="8" height="8" fill="#82822a"/><rect x="492" width="8" height="8" fill="#84842a"/><rect x="499" width="8" height="8" fill="#86862a"/><rect x="506" width="8" height="8" fill="#88882a"/><rect x="513" width="8" height="8" fill="#8a8a2a"/><rect x="520" width="8" height="8" fill="#8c8c2a"/><rect x="527" width="8" height="8" fill="#8d8d2a"/><rect x="534" width="8" height="8" fill="#8f8f2a"/><rect x="541" width="8" height="8" fill="#919129"/><rect x="549" width="8" height="8" fill="#939329"/><rect x="556" width="8" height="8" fill="#959529"/><rect x="563" width="8" height="8" fill="#979729"/><rect x="570" width="8" height="8" fill="#999929"/><rect x="577" width="8" height="8" fill="#9a9a28"/><rect x="584" width="8" height="8" fill="#9c9c28"/><rect x="591" width="8" height="8" fill="#9e9e28"/><rect x="598" width="8" height="8" fill="#a0a028"/><rect x="606" width="8" height="8" fill="#a1a127"/><rect x="613" width="8" height="8" fill="#a3a327"/><rect x="620" width="8" height="8" fill="#a5a527"/>
</g>
<g transform="translate(0 357)">
<rect x="399" width="8" height="8" fill="#6d2929"/><rect x="406" width="8" height="8" fill="#702a2a"/><rect x="413" width="8" height="8" fill="#73732a"/><rect x="420" width="8" height="8" fill="#77772a"/><rect x="427" width="8" height="8" fill="#7b7b2a"/><rect x="435" width="8" height="8" fill="#7f7f2a"/><rect x="442" width="8" height="8" fill="#82822a"/><rect x="449" width="8" height="8" fill="#86862a"/><rect x="456" width="8" height="8" fill="#8a8a2a"/><rect x="463" width="8" height="8" fill="#8e8e2a"/><rect x="470" width="8" height="8" fill="#919129"/><rect x="477" width="8" height="8" fill="#959529"/><rect x="484" width="8" height="8" fill="#999929"/><rect x="492" width="8" height="8" fill="#9c9c28"/><rect x="499" width="8" height="8" fill="#a0a028"/><rect x="506" width="8" height="8" fill="#a3a327"/><rect x="513" width="8" height="8" fill="#a7a726"/><rect x="520" width="8" height="8" fill="#aaaa25"/><rect x="527" width="8" height="8" fill="#adad25"/><rect x="534" width="8" height="8" fill="#b1b124"/><rect x="541" width="8" height="8" fill="#b4b423"/><rect x="549" width="8" height="8" fill="#b7b722"/><rect x="556" width="8" height="8" fill="#baba21"/><rect x="563" width="8" height="8" fill="#bdbd20"/><rect x="570" width="8" height="8" fill="#bfbf1f"/><rect x="577" width="8" height="8" fill="#c2c21e"/><rect x="584" width="8" height="8" fill="#c5c51e"/><rect x="591" width="8" height="8" fill="#c7c71d"/><rect x="598" width="8" height="8" fill="#caca1c"/><rect x="606" width="8" height="8" fill="#cccc1b"/><rect x="613" width="8" height="8" fill="#cece1a"/><rect x="620" width="8" height="8" fill="#dfdf12"/>
</g>
<g transform="translate(0 364)">
<rect x="399" width="8" height="8" fill="#6f2a2a"/><rect x="406" width="8" height="8" fill="#732a2a"/><rect x="413" width="8" height="8" fill="#762a2a"/><rect x="420" width="8" height="8" fill="#792a2a"/><rect x="427" width="8" height="8" fill="#7c7c2a"/><rect x="435" width="8" height="8" fill="#7f7f2a"/><rect x="442" width="8" height="8" fill="#83832a"/><rect x="449" width="8" height="8" fill="#86862a"/><rect x="456" width="8" height="8" fill="#8a8a2a"/><rect x="463" width="8" height="8" fill="#8d8d2a"/><rect x="470" width="8" height="8" fill="#90902a"/><rect x="477" width="8" height="8" fill="#939329"/><rect x="484" width="8" height="8" fill="#969629"/><rect x="492" width="8" height="8" fill="#999929"/><rect x="499" width="8" height="8" fill="#9c9c28"/><rect x="506" width="8" height="8" fill="#9e9e28"/><rect x="513" width="8" height="8" fill="#a1a127"/><rect x="520" width="8" height="8" fill="#a3a327"/><rect x="527" width="8" height="8" fill="#a5a527"/><rect x="534" width="8" height="8" fill="#a6a626"/><rect x="541" width="8" height="8" fill="#a8a826"/><rect x="549" width="8" height="8" fill="#a9a926"/><rect x="556" width="8" height="8" fill="#aaaa26"/><rect x="563" width="8" height="8" fill="#abab25"/><rect x="570" width="8" height="8" fill="#abab25"/><rect x="577" width="8" height="8" fill="#abab25"/><rect x="584" width="8" height="8" fill="#abab25"/><rect x="591" width="8" height="8" fill="#abab25"/><rect x="598" width="8" height="8" fill="#aaaa25"/><rect x="606" width="8" height="8" fill="#a9a926"/><rect x="613" width="8" height="8" fill="#a8a826"/><rect x="620" width="8" height="8" fill="#12df12"/>
</g>
<g transform="translate(0 371)">
<rect x="399" width="8" height="8" fill="#712a2a"/><rect x="406" width="8" height="8" fill="#772a2a"/><rect x="413" width="8" height="8" fill="#792a2a"/><rect x="420" width="8" height="8" fill="#7b2a2a"/><rect x="427" width="8" height="8" fill="#7e2a2a"/><rect x="435" width="8" height="8" fill="#812a2a"/><rect x="442" width="8" height="8" fill="#84842a"/><rect x="449" width="8" height="8" fill="#87872a"/><rect x="456" width="8" height="8" fill="#89892a"/><rect x="463" width="8" height="8" fill="#8c8c2a"/><rect x="470" width="8" height="8" fill="#8f8f2a"/><rect x="477" width="8" height="8" fill="#91912a"/><rect x="484" width="8" height="8" fill="#939329"/><rect x="492" width="8" height="8" fill="#949429"/><rect x="499" width="8" height="8" fill="#959529"/><rect x="506" width="8" height="8" fill="#969629"/><rect x="513" width="8" height="8" fill="#979729"/><rect x="520" width="8" height="8" fill="#979729"/><rect x="527" width="8" height="8" fill="#979729"/><rect x="534" width="8" height="8" fill="#969629"/><rect x="541" width="8" height="8" fill="#959529"/><rect x="549" width="8" height="8" fill="#939329"/><rect x="556" width="8" height="8" fill="#919129"/><rect x="563" width="8" height="8" fill="#8f8f2a"/><rect x="570" width="8" height="8" fill="#8c8c2a"/><rect x="577" width="8" height="8" fill="#89892a"/><rect x="584" width="8" height="8" fill="#85852a"/><rect x="591" width="8" height="8" fill="#81812a"/><rect x="598" width="8" height="8" fill="#7d7d2a"/><rect x="606" width="8" height="8" fill="#78782a"/><rect x="613" width="8" height="8" fill="#73732a"/><rect x="620" width="8" height="8" fill="#11e111"/>
</g>
<g transform="translate(0 378)">
<rect x="399" width="8" height="8" fill="#722a2a"/><rect x="406" width="8" height="8" fill="#7b2a2a"/><rect x="413" width="8" height="8" fill="#7c2a2a"/><rect x="420" width="8" height="8" fill="#7e2a2a"/><rect x="427" width="8" height="8" fill="#802a2a"/><rect x="435" width="8" height="8" fill="#822a2a"/><rect x="442" width="8" height="8" fill="#852a2a"/><rect x="449" width="8" height="8" fill="#87872a"/><rect x="456" width="8" height="8" fill="#89892a"/><rect x="463" width="8" height="8" fill="#8b8b2a"/><rect x="470" width="8" height="8" fill="#8c8c2a"/><rect x="477" width="8" height="8" fill="#8d8d2a"/><rect x="484" width="8" height="8" fill="#8d8d2a"/><rect x="492" width="8" height="8" fill="#8d8d2a"/><rect x="499" width="8" height="8" fill="#8c8c2a"/><rect x="506" width="8" height="8" fill="#8b8b2a"/><rect x="513" width="8" height="8" fill="#8a8a2a"/><rect x="520" width="8" height="8" fill="#87872a"/><rect x="527" width="8" height="8" fill="#85852a"/><rect x="534" width="8" height="8" fill="#81812a"/><rect x="541" width="8" height="8" fill="#7d7d2a"/><rect x="549" width="8" height="8" fill="#79792a"/><rect x="556" width="8" height="8" fill="#74742a"/><rect x="563" width="8" height="8" fill="#6e6e2a"/><rect x="570" width="8" height="8" fill="#2a2a6d"/><rect x="577" width="8" height="8" fill="#2a2a74"/><rect x="584" width="8" height="8" fill="#2a2a7b"/><rect x="591" width="8" height="8" fill="#2a2a82"/><rect x="598" width="8" height="8" fill="#2a2a8a"/><rect x="606" width="8" height="8" fill="#292992"/><rect x="613" width="8" height="8" fill="#28289a"/><rect x="620" width="8" height="8" fill="#10e4e4"/>
</g>
<g transform="translate(0 386)">
<rect x="399" width="8" height="8" fill="#742a2a"/><rect x="406" width="8" height="8" fill="#7f2a2a"/><rect x="413" width="8" height="8" fill="#7f2a2a"/><rect x="420" width="8" height="8" fill="#812a2a"/><rect x="427" width="8" height="8" fill="#822a2a"/><rect x="435" width="8" height="8" fill="#842a2a"/><rect x="442" width="8" height="8" fill="#862a2a"/><rect x="449" width="8" height="8" fill="#872a2a"/><rect x="456" width="8" height="8" fill="#882a2a"/><rect x="463" width="8" height="8" fill="#88882a"/><rect x="470" width="8" height="8" fill="#88882a"/><rect x="477" width="8" height="8" fill="#87872a"/><rect x="484" width="8" height="8" fill="#86862a"/><rect x="492" width="8" height="8" fill="#84842a"/><rect x="499" width="8" height="8" fill="#81812a"/><rect x="506" width="8" height="8" fill="#7e7e2a"/><rect x="513" width="8" height="8" fill="#7a7a2a"/><rect x="520" width="8" height="8" fill="#75752a"/><rect x="527" width="8" height="8" fill="#70702a"/><rect x="534" width="8" height="8" fill="#29296b"/><rect x="541" width="8" height="8" fill="#2a2a72"/><rect x="549" width="8" height="8" fill="#2a2a79"/><rect x="556" width="8" height="8" fill="#2a2a81"/><rect x="563" width="8" height="8" fill="#2a2a89"/><rect x="570" width="8" height="8" fill="#292992"/><rect x="577" width="8" height="8" fill="#28289a"/><rect x="584" width="8" height="8" fill="#2727a3"/><rect x="591" width="8" height="8" fill="#2525ac"/><rect x="598" width="8" height="8" fill="#2323b5"/><rect x="606" width="8" height="8" fill="#2020be"/><rect x="613" width="8" height="8" fill="#1d1dc6"/><rect x="620" width="8" height="8" fill="#0fe4e4"/>
</g>
<g transform="translate(0 393)">
<rect x="399" width="8" height="8" fill="#762a2a"/><rect x="406" width="8" height="8" fill="#822a2a"/><rect x="413" width="8" height="8" fill="#832a2a"/><rect x="420" width="8" height="8" fill="#842a2a"/><rect x="427" width="8" height="8" fill="#852a2a"/><rect x="435" width="8" height="8" fill="#862a2a"/><rect x="442" width="8" height="8" fill="#862a2a"/><rect x="449" width="8" height="8" fill="#862a2a"/><rect x="456" width="8" height="8" fill="#862a2a"/><rect x="463" width="8" height="8" fill="#852a2a"/><rect x="470" width="8" height="8" fill="#832a2a"/><rect x="477" width="8" height="8" fill="#81812a"/><rect x="484" width="8" height="8" fill="#7e7e2a"/><rect x="492" width="8" height="8" fill="#7a7a2a"/><rect x="499" width="8" height="8" fill="#75752a"/><rect x="506" width="8" height="8" fill="#6f6f2a"/><rect x="513" width="8" height="8" fill="#29296c"/><rect x="520" width="8" height="8" fill="#2a2a74"/><rect x="527" width="8" height="8" fill="#2a2a7b"/><rect x="534" width="8" height="8" fill="#2a2a83"/><rect x="541" width="8" height="8" fill="#2a2a8c"/><rect x="549" width="8" height="8" fill="#292995"/><rect x="556" width="8" height="8" fill="#28289e"/><rect x="563" width="8" height="8" fill="#2626a7"/><rect x="570" width="8" height="8" fill="#2424b0"/><rect x="577" width="8" height="8" fill="#2121b9"/><rect x="584" width="8" height="8" fill="#1f1fc2"/><rect x="591" width="8" height="8" fill="#1c1cca"/><rect x="598" width="8" height="8" fill="#1919d1"/><rect x="606" width="8" height="8" fill="#1616d8"/><rect x="613" width="8" height="8" fill="#1313dd"/><rect x="620" width="8" height="8" fill="#1111e0"/>
</g>
<g transform="translate(0 400)">
<rect x="399" width="8" height="8" fill="#782a2a"/><rect x="406" width="8" height="8" fill="#862a2a"/><rect x="413" width="8" height="8" fill="#862a2a"/><rect x="420" width="8" height="8" fill="#872a2a"/><rect x="427" width="8" height="8" fill="#872a2a"/><rect x="435" width="8" height="8" fill="#872a2a"/><rect x="442" width="8" height="8" fill="#862a2a"/><rect x="449" width="8" height="8" fill="#852a2a"/><rect x="456" width="8" height="8" fill="#832a2a"/><rect x="463" width="8" height="8" fill="#812a2a"/><rect x="470" width="8" height="8" fill="#7d2a2a"/><rect x="477" width="8" height="8" fill="#792a2a"/><rect x="484" width="8" height="8" fill="#742a2a"/><rect x="492" width="8" height="8" fill="#6e6e2a"/><rect x="499" width="8" height="8" fill="#2a2a6e"/><rect x="506" width="8" height="8" fill="#2a2a76"/><rect x="513" width="8" height="8" fill="#2a2a7e"/><rect x="520" width="8" height="8" fill="#2a2a87"/><rect x="527" width="8" height="8" fill="#2a2a90"/><rect x="534" width="8" height="8" fill="#28289a"/><rect x="541" width="8" height="8" fill="#2727a3"/><rect x="549" width="8" height="8" fill="#2525ac"/><rect x="556" width="8" height="8" fill="#2323b5"/><rect x="563" width="8" height="8" fill="#2020bd"/><rect x="570" width="8" height="8" fill="#1d1dc5"/><rect x="577" width="8" height="8" fill="#1b1bcb"/><rect x="584" width="8" height="8" fill="#1919d1"/><rect x="591" width="8" height="8" fill="#1717d5"/><rect x="598" width="8" height="8" fill="#1616d8"/><rect x="606" width="8" height="8" fill="#1515d9"/><rect x="613" width="8" height="8" fill="#1616d8"/><rect x="620" width="8" height="8" fill="#1414da"/>
</g>
<g transform="translate(0 407)">
<rect x="399" width="8" height="8" fill="#7a2a2a"/><rect x="406" width="8" height="8" fill="#8a2a2a"/><rect x="413" width="8" height="8" fill="#8a2a2a"/><rect x="420" width="8" height="8" fill="#892a2a"/><rect x="427" width="8" height="8" fill="#892a2a"/><rect x="435" width="8" height="8" fill="#882a2a"/><rect x="442" width="8" height="8" fill="#862a2a"/><rect x="449" width="8" height="8" fill="#832a2a"/><rect x="456" width="8" height="8" fill="#802a2a"/><rect x="463" width="8" height="8" fill="#7c2a2a"/><rect x="470" width="8" height="8" fill="#762a2a"/><rect x="477" width="8" height="8" fill="#702a2a"/><rect x="484" width="8" height="8" fill="#296c6c"/><rect x="492" width="8" height="8" fill="#2a7474"/><rect x="499" width="8" height="8" fill="#2a2a7d"/><rect x="506" width="8" height="8" fill="#2a2a86"/><rect x="513" width="8" height="8" fill="#2a2a90"/><rect x="520" width="8" height="8" fill="#292999"/><rect x="527" width="8" height="8" fill="#2727a3"/><rect x="534" width="8" height="8" fill="#2525ac"/><rect x="541" width="8" height="8" fill="#2323b5"/><rect x="549" width="8" height="8" fill="#2020bc"/><rect x="556" width="8" height="8" fill="#1e1ec3"/><rect x="563" width="8" height="8" fill="#1c1cc8"/><rect x="570" width="8" height="8" fill="#1b1bcc"/><rect x="577" width="8" height="8" fill="#1a1acd"/><rect x="584" width="8" height="8" fill="#1a1acd"/><rect x="591" width="8" height="8" fill="#1b1bcb"/><rect x="598" width="8" height="8" fill="#1d1dc7"/><rect x="606" width="8" height="8" fill="#1f1fc0"/><rect x="613" width="8" height="8" fill="#2222b8"/><rect x="620" width="8" height="8" fill="#d815d8"/>
</g>
<g transform="translate(0 414)">
<rect x="399" width="8" height="8" fill="#7c2a2a"/><rect x="406" width="8" height="8" fill="#8e2a2a"/><rect x="413" width="8" height="8" fill="#8d2a2a"/><rect x="420" width="8" height="8" fill="#8c2a2a"/><rect x="427" width="8" height="8" fill="#8b2a2a"/><rect x="435" width="8" height="8" fill="#882a2a"/><rect x="442" width="8" height="8" fill="#852a2a"/><rect x="449" width="8" height="8" fill="#812a2a"/><rect x="456" width="8" height="8" fill="#7c2a2a"/><rect x="463" width="8" height="8" fill="#762a2a"/><rect x="470" width="8" height="8" fill="#6e2a2a"/><rect x="477" width="8" height="8" fill="#2a6f6f"/><rect x="484" width="8" height="8" fill="#2a7878"/><rect x="492" width="8" height="8" fill="#2a8181"/><rect x="499" width="8" height="8" fill="#2a8b8b"/><rect x="506" width="8" height="8" fill="#299595"/><rect x="513" width="8" height="8" fill="#28289f"/><rect x="520" width="8" height="8" fill="#2626a9"/><rect x="527" width="8" height="8" fill="#2424b1"/><rect x="534" width="8" height="8" fill="#2222b9"/><rect x="541" width="8" height="8" fill="#2020bf"/><rect x="549" width="8" height="8" fill="#1e1ec3"/><rect x="556" width="8" height="8" fill="#1d1dc5"/><rect x="563" width="8" height="8" fill="#1d1dc5"/><rect x="570" width="8" height="8" fill="#1e1ec3"/><rect x="577" width="8" height="8" fill="#2020be"/><rect x="584" width="8" height="8" fill="#2222b7"/><rect x="591" width="8" height="8" fill="#2525ae"/><rect x="598" width="8" height="8" fill="#2727a2"/><rect x="606" width="8" height="8" fill="#292994"/><rect x="613" width="8" height="8" fill="#2a2a84"/><rect x="620" width="8" height="8" fill="#de12de"/>
</g>
<g transform="translate(0 421)">
<rect x="399" width="8" height="8" fill="#7e2a2a"/><rect x="406" width="8" height="8" fill="#912929"/><rect x="413" width="8" height="8" fill="#902a2a"/><rect x="420" width="8" height="8" fill="#8f2a2a"/><rect x="427" width="8" height="8" fill="#8c2a2a"/><rect x="435" width="8" height="8" fill="#882a2a"/><rect x="442" width="8" height="8" fill="#832a2a"/><rect x="449" width="8" height="8" fill="#7d2a2a"/><rect x="456" width="8" height="8" fill="#762a2a"/><rect x="463" width="8" height="8" fill="#6e2a2a"/><rect x="470" width="8" height="8" fill="#2a7070"/><rect x="477" width="8" height="8" fill="#2a7a7a"/><rect x="484" width="8" height="8" fill="#2a8484"/><rect x="492" width="8" height="8" fill="#2a8e8e"/><rect x="499" width="8" height="8" fill="#299999"/><rect x="506" width="8" height="8" fill="#27a3a3"/><rect x="513" width="8" height="8" fill="#25acac"/><rect x="520" width="8" height="8" fill="#23b4b4"/><rect x="527" width="8" height="8" fill="#2121ba"/><rect x="534" width="8" height="8" fill="#2020be"/><rect x="541" width="8" height="8" fill="#1f1fc0"/><rect x="549" width="8" height="8" fill="#2020bf"/><rect x="556" width="8" height="8" fill="#2121bb"/><rect x="563" width="8" height="8" fill="#2323b5"/><rect x="570" width="8" height="8" fill="#2525ac"/><rect x="577" width="8" height="8" fill="#2727a1"/><rect x="584" width="8" height="8" fill="#292992"/><rect x="591" width="8" height="8" fill="#2a2a82"/><rect x="598" width="8" height="8" fill="#2a2a70"/><rect x="606" width="8" height="8" fill="#78782a"/><rect x="613" width="8" height="8" fill="#8c8c2a"/><rect x="620" width="8" height="8" fill="#e70e0e"/>
</g>
<g transform="translate(0 428)">
<rect x="399" width="8" height="8" fill="#802a2a"/><rect x="406" width="8" height="8" fill="#952929"/><rect x="413" width="8" height="8" fill="#932929"/><rect x="420" width="8" height="8" fill="#912a2a"/><rect x="427" width="8" height="8" fill="#8d2a2a"/><rect x="435" width="8" height="8" fill="#872a2a"/><rect x="442" width="8" height="8" fill="#812a2a"/><rect x="449" width="8" height="8" fill="#792a2a"/><rect x="456" width="8" height="8" fill="#702a2a"/><rect x="463" width="8" height="8" fill="#2a6f6f"/><rect x="470" width="8" height="8" fill="#2a7a7a"/><rect x="477" width="8" height="8" fill="#2a8585"/><rect x="484" width="8" height="8" fill="#2a9090"/><rect x="492" width="8" height="8" fill="#289b9b"/><rect x="499" width="8" height="8" fill="#27a5a5"/><rect x="506" width="8" height="8" fill="#25aeae"/><rect x="513" width="8" height="8" fill="#23b5b5"/><rect x="520" width="8" height="8" fill="#21b9b9"/><rect x="527" width="8" height="8" fill="#21bcbc"/><rect x="534" width="8" height="8" fill="#21bbbb"/><rect x="541" width="8" height="8" fill="#2222b7"/><rect x="549" width="8" height="8" fill="#2424b0"/><rect x="556" width="8" height="8" fill="#2626a7"/><rect x="563" width="8" height="8" fill="#28289a"/><rect x="570" width="8" height="8" fill="#2a2a8a"/><rect x="577" width="8" height="8" fill="#2a2a79"/><rect x="584" width="8" height="8" fill="#70702a"/><rect x="591" width="8" height="8" fill="#84842a"/><rect x="598" width="8" height="8" fill="#999929"/><rect x="606" width="8" height="8" fill="#adad25"/><rect x="613" width="8" height="8" fill="#c0c01f"/><rect x="620" width="8" height="8" fill="#ea0c0c"/>
</g>
<g transform="translate(0 435)">
<rect x="399" width="8" height="8" fill="#822a2a"/><rect x="406" width="8" height="8" fill="#992929"/><rect x="413" width="8" height="8" fill="#962929"/><rect x="420" width="8" height="8" fill="#932929"/><rect x="427" width="8" height="8" fill="#8d2a2a"/><rect x="435" width="8" height="8" fill="#862a2a"/><rect x="442" width="8" height="8" fill="#7e2a2a"/><rect x="449" width="8" height="8" fill="#742a2a"/><rect x="456" width="8" height="8" fill="#296c6c"/><rect x="463" width="8" height="8" fill="#2a7878"/><rect x="470" width="8" height="8" fill="#2a8484"/><rect x="477" width="8" height="8" fill="#2a9090"/><rect x="484" width="8" height="8" fill="#289b9b"/><rect x="492" width="8" height="8" fill="#26a6a6"/><rect x="499" width="8" height="8" fill="#24aeae"/><rect x="506" width="8" height="8" fill="#23b5b5"/><rect x="513" width="8" height="8" fill="#22b8b8"/><rect x="520" width="8" height="8" fill="#22b9b9"/><rect x="527" width="8" height="8" fill="#22b6b6"/><rect x="534" width="8" height="8" fill="#24b0b0"/><rect x="541" width="8" height="8" fill="#26a6a6"/><rect x="549" width="8" height="8" fill="#299999"/><rect x="556" width="8" height="8" fill="#2a2a89"/><rect x="563" width="8" height="8" fill="#2a2a76"/><rect x="570" width="8" height="8" fill="#73732a"/><rect x="577" width="8" height="8" fill="#88882a"/><rect x="584" width="8" height="8" fill="#9d9d28"/><rect x="591" width="8" height="8" fill="#b2b224"/><rect x="598" width="8" height="8" fill="#c4c41e"/><rect x="606" width="8" height="8" fill="#d4d417"/><rect x="613" width="8" height="8" fill="#e0e012"/><rect x="620" width="8" height="8" fill="#e4e410"/>
</g>
<g transform="translate(0 443)">
<rect x="399" width="8" height="8" fill="#842a2a"/><rect x="406" width="8" height="8" fill="#9c2828"/><rect x="413" width="8" height="8" fill="#992929"/><rect x="420" width="8" height="8" fill="#942929"/><rect x="427" width="8" height="8" fill="#8d2a2a"/><rect x="435" width="8" height="8" fill="#842a2a"/><rect x="442" width="8" height="8" fill="#7a2a2a"/><rect x="449" width="8" height="8" fill="#6e2a2a"/><rect x="456" width="8" height="8" fill="#2a7474"/><rect x="463" width="8" height="8" fill="#2a8181"/><rect x="470" width="8" height="8" fill="#2a8e8e"/><rect x="477" width="8" height="8" fill="#289b9b"/><rect x="484" width="8" height="8" fill="#26a6a6"/><rect x="492" width="8" height="8" fill="#24afaf"/><rect x="499" width="8" height="8" fill="#23b5b5"/><rect x="506" width="8" height="8" fill="#22b8b8"/><rect x="513" width="8" height="8" fill="#22b7b7"/><rect x="520" width="8" height="8" fill="#23b2b2"/><rect x="527" width="8" height="8" fill="#26a9a9"/><rect x="534" width="8" height="8" fill="#289d9d"/><rect x="541" width="8" height="8" fill="#2a8d8d"/><rect x="549" width="8" height="8" fill="#2a7a7a"/><rect x="556" width="8" height="8" fill="#6f2a2a"/><rect x="563" width="8" height="8" fill="#85852a"/><rect x="570" width="8" height="8" fill="#9b9b28"/><rect x="577" width="8" height="8" fill="#b0b024"/><rect x="584" width="8" height="8" fill="#c3c31e"/><rect x="591" width="8" height="8" fill="#d2d218"/><rect x="598" width="8" height="8" fill="#dddd13"/><rect x="606" width="8" height="8" fill="#e4e410"/><rect x="613" width="8" height="8" fill="#e4e40f"/><rect x="620" width="8" height="8" fill="#d8d816"/>
</g>
<g transform="translate(0 450)">
<rect x="399" width="8" height="8" fill="#862a2a"/><rect x="406" width="8" height="8" fill="#a02828"/><rect x="413" width="8" height="8" fill="#9c2828"/><rect x="420" width="8" height="8" fill="#952929"/><rect x="427" width="8" height="8" fill="#8c2a2a"/><rect x="435" width="8" height="8" fill="#812a2a"/><rect x="442" width="8" height="8" fill="#752a2a"/><rect x="449" width="8" height="8" fill="#2a6e6e"/><rect x="456" width="8" height="8" fill="#2a7d7d"/><rect x="463" width="8" height="8" fill="#2a8b8b"/><rect x="470" width="8" height="8" fill="#299999"/><rect x="477" width="8" height="8" fill="#27a5a5"/><rect x="484" width="8" height="8" fill="#24aeae"/><rect x="492" width="8" height="8" fill="#23b5b5"/><rect x="499" width="8" height="8" fill="#22b7b7"/><rect x="506" width="8" height="8" fill="#23b6b6"/><rect x="513" width="8" height="8" fill="#24afaf"/><rect x="520" width="8" height="8" fill="#27a5a5"/><rect x="527" width="8" height="8" fill="#299696"/><rect x="534" width="8" height="8" fill="#2a8484"/><rect x="541" width="8" height="8" fill="#2a6f6f"/><rect x="549" width="8" height="8" fill="#7c2a2a"/><rect x="556" width="8" height="8" fill="#932929"/><rect x="563" width="8" height="8" fill="#a92626"/><rect x="570" width="8" height="8" fill="#bd2020"/><rect x="577" width="8" height="8" fill="#cdcd1a"/><rect x="584" width="8" height="8" fill="#d9d915"/><rect x="591" width="8" height="8" fill="#dfdf12"/><rect x="598" width="8" height="8" fill="#dfdf12"/><rect x="606" width="8" height="8" fill="#d8d816"/><rect x="613" width="8" height="8" fill="#caca1c"/><rect x="620" width="8" height="8" fill="#18d218"/>
</g>
<g transform="translate(0 457)">
<rect x="399" width="8" height="8" fill="#882a2a"/><rect x="406" width="8" height="8" fill="#a32727"/><rect x="413" width="8" height="8" fill="#9e2828"/><rect x="420" width="8" height="8" fill="#962929"/><rect x="427" width="8" height="8" fill="#8b2a2a"/><rect x="435" width="8" height="8" fill="#7e2a2a"/><rect x="442" width="8" height="8" fill="#6f2a2a"/><rect x="449" width="8" height="8" fill="#2a7676"/><rect x="456" width="8" height="8" fill="#2a8686"/><rect x="463" width="8" height="8" fill="#299595"/><rect x="470" width="8" height="8" fill="#27a3a3"/><rect x="477" width="8" height="8" fill="#25aeae"/><rect x="484" width="8" height="8" fill="#23b5b5"/><rect x="492" width="8" height="8" fill="#22b8b8"/><rect x="499" width="8" height="8" fill="#23b6b6"/><rect x="506" width="8" height="8" fill="#24afaf"/><rect x="513" width="8" height="8" fill="#27a3a3"/><rect x="520" width="8" height="8" fill="#299292"/><rect x="527" width="8" height="8" fill="#2a7e7e"/><rect x="534" width="8" height="8" fill="#6e2a2a"/><rect x="541" width="8" height="8" fill="#862a2a"/><rect x="549" width="8" height="8" fill="#9d2828"/><rect x="556" width="8" height="8" fill="#b32323"/><rect x="563" width="8" height="8" fill="#c51d1d"/><rect x="570" width="8" height="8" fill="#d31818"/><rect x="577" width="8" height="8" fill="#db1414"/><rect x="584" width="8" height="8" fill="#db1414"/><rect x="591" width="8" height="8" fill="#d4d417"/><rect x="598" width="8" height="8" fill="#c7c71d"/><rect x="606" width="8" height="8" fill="#b2b224"/><rect x="613" width="8" height="8" fill="#989829"/><rect x="620" width="8" height="8" fill="#15da15"/>
</g>
<g transform="translate(0 464)">
<rect x="399" width="8" height="8" fill="#8a2a2a"/><rect x="406" width="8" height="8" fill="#a72626"/><rect x="413" width="8" height="8" fill="#a12727"/><rect x="420" width="8" height="8" fill="#972929"/><rect x="427" width="8" height="8" fill="#8a2a2a"/><rect x="435" width="8" height="8" fill="#7a2a2a"/><rect x="442" width="8" height="8" fill="#296c6c"/><rect x="449" width="8" height="8" fill="#2a7e7e"/><rect x="456" width="8" height="8" fill="#2a9090"/><rect x="463" width="8" height="8" fill="#289f9f"/><rect x="470" width="8" height="8" fill="#25acac"/><rect x="477" width="8" height="8" fill="#23b5b5"/><rect x="484" width="8" height="8" fill="#22b8b8"/><rect x="492" width="8" height="8" fill="#22b7b7"/><rect x="499" width="8" height="8" fill="#24afaf"/><rect x="506" width="8" height="8" fill="#27a3a3"/><rect x="513" width="8" height="8" fill="#2a9191"/><rect x="520" width="8" height="8" fill="#2a7b7b"/><rect x="527" width="8" height="8" fill="#722a2a"/><rect x="534" width="8" height="8" fill="#8c2a2a"/><rect x="541" width="8" height="8" fill="#a42727"/><rect x="549" width="8" height="8" fill="#b92121"/><rect x="556" width="8" height="8" fill="#ca1b1b"/><rect x="563" width="8" height="8" fill="#d51717"/><rect x="570" width="8" height="8" fill="#d91515"/><rect x="577" width="8" height="8" fill="#d51717"/><rect x="584" width="8" height="8" fill="#c81c1c"/><rect x="591" width="8" height="8" fill="#b42323"/><rect x="598" width="8" height="8" fill="#9a2828"/><rect x="606" width="8" height="8" fill="#7b7b2a"/><rect x="613" width="8" height="8" fill="#2a2a7c"/><rect x="620" width="8" height="8" fill="#0de8e8"/>
</g>
<g transform="translate(0 471)">
<rect x="399" width="8" height="8" fill="#8c2a2a"/><rect x="406" width="8" height="8" fill="#aa2525"/><rect x="413" width="8" height="8" fill="#a32727"/><rect x="420" width="8" height="8" fill="#972929"/><rect x="427" width="8" height="8" fill="#872a2a"/><rect x="435" width="8" height="8" fill="#752a2a"/><rect x="442" width="8" height="8" fill="#2a7474"/><rect x="449" width="8" height="8" fill="#2a8787"/><rect x="456" width="8" height="8" fill="#299999"/><rect x="463" width="8" height="8" fill="#26a9a9"/><rect x="470" width="8" height="8" fill="#23b4b4"/><rect x="477" width="8" height="8" fill="#21b9b9"/><rect x="484" width="8" height="8" fill="#22b9b9"/><rect x="492" width="8" height="8" fill="#23b2b2"/><rect x="499" width="8" height="8" fill="#27a5a5"/><rect x="506" width="8" height="8" fill="#299292"/><rect x="513" width="8" height="8" fill="#2a7b7b"/><rect x="520" width="8" height="8" fill="#742a2a"/><rect x="527" width="8" height="8" fill="#8e2a2a"/><rect x="534" width="8" height="8" fill="#a82626"/><rect x="541" width="8" height="8" fill="#bd2020"/><rect x="549" width="8" height="8" fill="#cd1a1a"/><rect x="556" width="8" height="8" fill="#d61717"/><rect x="563" width="8" height="8" fill="#d61616"/><rect x="570" width="8" height="8" fill="#cd1a1a"/><rect x="577" width="8" height="8" fill="#bc2121"/><rect x="584" width="8" height="8" fill="#a32727"/><rect x="591" width="8" height="8" fill="#842a2a"/><rect x="598" width="8" height="8" fill="#2a7373"/><rect x="606" width="8" height="8" fill="#299797"/><rect x="613" width="8" height="8" fill="#22b9b9"/><rect x="620" width="8" height="8" fill="#09efef"/>
</g>
<g transform="translate(0 478)">
<rect x="399" width="8" height="8" fill="#8d2a2a"/><rect x="406" width="8" height="8" fill="#ad2525"/><rect x="413" width="8" height="8" fill="#a52727"/><rect x="420" width="8" height="8" fill="#972929"/><rect x="427" width="8" height="8" fill="#852a2a"/><rect x="435" width="8" height="8" fill="#702a2a"/><rect x="442" width="8" height="8" fill="#2a7b7b"/><rect x="449" width="8" height="8" fill="#2a9090"/><rect x="456" width="8" height="8" fill="#27a3a3"/><rect x="463" width="8" height="8" fill="#24b1b1"/><rect x="470" width="8" height="8" fill="#21baba"/><rect x="477" width="8" height="8" fill="#21bcbc"/><rect x="484" width="8" height="8" fill="#22b6b6"/><rect x="492" width="8" height="8" fill="#26a9a9"/><rect x="499" width="8" height="8" fill="#299696"/><rect x="506" width="8" height="8" fill="#2a7e7e"/><rect x="513" width="8" height="8" fill="#722a2a"/><rect x="520" width="8" height="8" fill="#8e2a2a"/><rect x="527" width="8" height="8" fill="#a92626"/><rect x="534" width="8" height="8" fill="#bf2020"/><rect x="541" width="8" height="8" fill="#ce1a1a"/><rect x="549" width="8" height="8" fill="#d51717"/><rect x="556" width="8" height="8" fill="#d31818"/><rect x="563" width="8" height="8" fill="#c71d1d"/><rect x="570" width="8" height="8" fill="#b22424"/><rect x="577" width="8" height="8" fill="#942929"/><rect x="584" width="8" height="8" fill="#722a2a"/><rect x="591" width="8" height="8" fill="#2a8888"/><rect x="598" width="8" height="8" fill="#25acac"/><rect x="606" width="8" height="8" fill="#1bcbcb"/><rect x="613" width="8" height="8" fill="#10e3e3"/><rect x="620" width="8" height="8" fill="#0d0de8"/>
</g>
<g transform="translate(0 485)">
<rect x="399" width="8" height="8" fill="#8f2a2a"/><rect x="406" width="8" height="8" fill="#b12424"/><rect x="413" width="8" height="8" fill="#a62626"/><rect x="420" width="8" height="8" fill="#962929"/><rect x="427" width="8" height="8" fill="#812a2a"/><rect x="435" width="8" height="8" fill="#296b6b"/><rect x="442" width="8" height="8" fill="#2a8383"/><rect x="449" width="8" height="8" fill="#289a9a"/><rect x="456" width="8" height="8" fill="#25acac"/><rect x="463" width="8" height="8" fill="#22b9b9"/><rect x="470" width="8" height="8" fill="#20bebe"/><rect x="477" width="8" height="8" fill="#21bbbb"/><rect x="484" width="8" height="8" fill="#24b0b0"/><rect x="492" width="8" height="8" fill="#289d9d"/><rect x="499" width="8" height="8" fill="#2a8484"/><rect x="506" width="8" height="8" fill="#6e2a2a"/><rect x="513" width="8" height="8" fill="#8c2a2a"/><rect x="520" width="8" height="8" fill="#a82626"/><rect x="527" width="8" height="8" fill="#bf2020"/><rect x="534" width="8" height="8" fill="#cf1a1a"/><rect x="541" width="8" height="8" fill="#d51717"/><rect x="549" width="8" height="8" fill="#d11919"/><rect x="556" width="8" height="8" fill="#c21f1f"/><rect x="563" width="8" height="8" fill="#a92626"/><rect x="570" width="8" height="8" fill="#892a2a"/><rect x="577" width="8" height="8" fill="#2a7171"/><rect x="584" width="8" height="8" fill="#299797"/><rect x="591" width="8" height="8" fill="#21bbbb"/><rect x="598" width="8" height="8" fill="#16d8d8"/><rect x="606" width="8" height="8" fill="#0cebeb"/><rect x="613" width="8" height="8" fill="#08f1f1"/><rect x="620" width="8" height="8" fill="#1616d7"/>
</g>
<g transform="translate(0 492)">
<rect x="399" width="8" height="8" fill="#912929"/><rect x="406" width="8" height="8" fill="#b42323"/><rect x="413" width="8" height="8" fill="#a82626"/><rect x="420" width="8" height="8" fill="#952929"/><rect x="427" width="8" height="8" fill="#7d2a2a"/><rect x="435" width="8" height="8" fill="#2a7272"/><rect x="442" width="8" height="8" fill="#2a8c8c"/><rect x="449" width="8" height="8" fill="#27a3a3"/><rect x="456" width="8" height="8" fill="#23b5b5"/><rect x="463" width="8" height="8" fill="#20bfbf"/><rect x="470" width="8" height="8" fill="#1fc0c0"/><rect x="477" width="8" height="8" fill="#22b7b7"/><rect x="484" width="8" height="8" fill="#26a6a6"/><rect x="492" width="8" height="8" fill="#2a8d8d"/><rect x="499" width="8" height="8" fill="#2a6f6f"/><rect x="506" width="8" height="8" fill="#862a2a"/><rect x="513" width="8" height="8" fill="#a42727"/><rect x="520" width="8" height="8" fill="#bd2020"/><rect x="527" width="8" height="8" fill="#ce1a1a"/><rect x="534" width="8" height="8" fill="#d51717"/><rect x="541" width="8" height="8" fill="#d01919"/><rect x="549" width="8" height="8" fill="#c01f1f"/><rect x="556" width="8" height="8" fill="#a42727"/><rect x="563" width="8" height="8" fill="#812a2a"/><rect x="570" width="8" height="8" fill="#2a7b7b"/><rect x="577" width="8" height="8" fill="#27a2a2"/><rect x="584" width="8" height="8" fill="#1dc5c5"/><rect x="591" width="8" height="8" fill="#12dfdf"/><rect x="598" width="8" height="8" fill="#0aeded"/><rect x="606" width="8" height="8" fill="#0aeded"/><rect x="613" width="8" height="8" fill="#12dede"/><rect x="620" width="8" height="8" fill="#cb1bcb"/>
</g>
<g transform="translate(0 500)">
<rect x="399" width="8" height="8" fill="#932929"/><rect x="406" width="8" height="8" fill="#b72222"/><rect x="413" width="8" height="8" fill="#a92626"/><rect x="420" width="8" height="8" fill="#932929"/><rect x="427" width="8" height="8" fill="#792a2a"/><rect x="435" width="8" height="8" fill="#2a7979"/><rect x="442" width="8" height="8" fill="#299595"/><rect x="449" width="8" height="8" fill="#25acac"/><rect x="456" width="8" height="8" fill="#20bcbc"/><rect x="463" width="8" height="8" fill="#1ec3c3"/><rect x="470" width="8" height="8" fill="#20bfbf"/><rect x="477" width="8" height="8" fill="#24b0b0"/><rect x="484" width="8" height="8" fill="#299999"/><rect x="492" width="8" height="8" fill="#2a7a7a"/><rect x="499" width="8" height="8" fill="#7c2a2a"/><rect x="506" width="8" height="8" fill="#9d2828"/><rect x="513" width="8" height="8" fill="#b92121"/><rect x="520" width="8" height="8" fill="#cd1a1a"/><rect x="527" width="8" height="8" fill="#d51717"/><rect x="534" width="8" height="8" fill="#d11919"/><rect x="541" width="8" height="8" fill="#c01f1f"/><rect x="549" width="8" height="8" fill="#a32727"/><rect x="556" width="8" height="8" fill="#7d2a2a"/><rect x="563" width="8" height="8" fill="#2a8181"/><rect x="570" width="8" height="8" fill="#26a9a9"/><rect x="577" width="8" height="8" fill="#1bcccc"/><rect x="584" width="8" height="8" fill="#10e4e4"/><rect x="591" width="8" height="8" fill="#0aeded"/><rect x="598" width="8" height="8" fill="#0ee7e7"/><rect x="606" width="8" height="8" fill="#18d2d2"/><rect x="613" width="8" height="8" fill="#25aeae"/><rect x="620" width="8" height="8" fill="#d418d4"/>
</g>
<g transform="translate(0 507)">
<rect x="399" width="8" height="8" fill="#952929"/><rect x="406" width="8" height="8" fill="#ba2121"/><rect x="413" width="8" height="8" fill="#aa2626"/><rect x="420" width="8" height="8" fill="#912929"/><rect x="427" width="8" height="8" fill="#742a2a"/><rect x="435" width="8" height="8" fill="#2a8181"/><rect x="442" width="8" height="8" fill="#289e9e"/><rect x="449" width="8" height="8" fill="#23b5b5"/><rect x="456" width="8" height="8" fill="#1ec3c3"/><rect x="463" width="8" height="8" fill="#1dc5c5"/><rect x="470" width="8" height="8" fill="#21bbbb"/><rect x="477" width="8" height="8" fill="#26a7a7"/><rect x="484" width="8" height="8" fill="#2a8989"/><rect x="492" width="8" height="8" fill="#6f2a2a"/><rect x="499" width="8" height="8" fill="#932929"/><rect x="506" width="8" height="8" fill="#b32323"/><rect x="513" width="8" height="8" fill="#ca1b1b"/><rect x="520" width="8" height="8" fill="#d61717"/><rect x="527" width="8" height="8" fill="#d31818"/><rect x="534" width="8" height="8" fill="#c21f1f"/><rect x="541" width="8" height="8" fill="#a42727"/><rect x="549" width="8" height="8" fill="#7d2a2a"/><rect x="556" width="8" height="8" fill="#2a8383"/><rect x="563" width="8" height="8" fill="#25adad"/><rect x="570" width="8" height="8" fill="#19cfcf"/><rect x="577" width="8" height="8" fill="#0fe6e6"/><rect x="584" width="8" height="8" fill="#0becec"/><rect x="591" width="8" height="8" fill="#11e2e2"/><rect x="598" width="8" height="8" fill="#1dc6c6"/><rect x="606" width="8" height="8" fill="#289d9d"/><rect x="613" width="8" height="8" fill="#296c6c"/><rect x="620" width="8" height="8" fill="#e80d0d"/>
</g>
<g transform="translate(0 514)">
<rect x="399" width="8" height="8" fill="#972929"/><rect x="406" width="8" height="8" fill="#bd2020"/><rect x="413" width="8" height="8" fill="#ab2525"/><rect x="420" width="8" height="8" fill="#8f2a2a"/><rect x="427" width="8" height="8" fill="#6e2a2a"/><rect x="435" width="8" height="8" fill="#2a8989"/><rect x="442" width="8" height="8" fill="#26a7a7"/><rect x="449" width="8" height="8" fill="#20bdbd"/><rect x="456" width="8" height="8" fill="#1cc8c8"/><rect x="463" width="8" height="8" fill="#1dc5c5"/><rect x="470" width="8" height="8" fill="#23b5b5"/><rect x="477" width="8" height="8" fill="#289a9a"/><rect x="484" width="8" height="8" fill="#2a7676"/><rect x="492" width="8" height="8" fill="#852a2a"/><rect x="499" width="8" height="8" fill="#a92626"/><rect x="506" width="8" height="8" fill="#c51d1d"/><rect x="513" width="8" height="8" fill="#d51717"/><rect x="520" width="8" height="8" fill="#d61616"/><rect x="527" width="8" height="8" fill="#c71d1d"/><rect x="534" width="8" height="8" fill="#a92626"/><rect x="541" width="8" height="8" fill="#812a2a"/><rect x="549" width="8" height="8" fill="#2a8181"/><rect x="556" width="8" height="8" fill="#25adad"/><rect x="563" width="8" height="8" fill="#19d0d0"/><rect x="570" width="8" height="8" fill="#0ee7e7"/><rect x="577" width="8" height="8" fill="#0bebeb"/><rect x="584" width="8" height="8" fill="#13dddd"/><rect x="591" width="8" height="8" fill="#20bdbd"/><rect x="598" width="8" height="8" fill="#2a9090"/><rect x="606" width="8" height="8" fill="#7a2a2a"/><rect x="613" width="8" height="8" fill="#ae2424"/><rect x="620" width="8" height="8" fill="#f40606"/>
</g>
<g transform="translate(0 521)">
<rect x="399" width="8" height="8" fill="#992929"/><rect x="406" width="8" height="8" fill="#bf1f1f"/><rect x="413" width="8" height="8" fill="#ab2525"/><rect x="420" width="8" height="8" fill="#8c2a2a"/><rect x="427" width="8" height="8" fill="#2a6d6d"/><rect x="435" width="8" height="8" fill="#299292"/><rect x="442" width="8" height="8" fill="#24b0b0"/><rect x="449" width="8" height="8" fill="#1dc5c5"/><rect x="456" width="8" height="8" fill="#1bcccc"/><rect x="463" width="8" height="8" fill="#1ec3c3"/><rect x="470" width="8" height="8" fill="#25acac"/><rect x="477" width="8" height="8" fill="#2a8a8a"/><rect x="484" width="8" height="8" fill="#732a2a"/><rect x="492" width="8" height="8" fill="#9b2828"/><rect x="499" width="8" height="8" fill="#bd2020"/><rect x="506" width="8" height="8" fill="#d31818"/><rect x="513" width="8" height="8" fill="#d91515"/><rect x="520" width="8" height="8" fill="#cd1a1a"/><rect x="527" width="8" height="8" fill="#b22424"/><rect x="534" width="8" height="8" fill="#892a2a"/><rect x="541" width="8" height="8" fill="#2a7b7b"/><rect x="549" width="8" height="8" fill="#26a9a9"/><rect x="556" width="8" height="8" fill="#19cfcf"/><rect x="563" width="8" height="8" fill="#0ee7e7"/><rect x="570" width="8" height="8" fill="#0cebeb"/><rect x="577" width="8" height="8" fill="#14dbdb"/><rect x="584" width="8" height="8" fill="#22b8b8"/><rect x="591" width="8" height="8" fill="#2a8787"/><rect x="598" width="8" height="8" fill="#862a2a"/><rect x="606" width="8" height="8" fill="#bb2121"/><rect x="613" width="8" height="8" fill="#e50f0f"/><rect x="620" width="8" height="8" fill="#eeee0a"/>
</g>
<g transform="translate(0 528)">
<rect x="399" width="8" height="8" fill="#9a2828"/><rect x="406" width="8" height="8" fill="#c21e1e"/><rect x="413" width="8" height="8" fill="#ab2525"/><rect x="420" width="8" height="8" fill="#892a2a"/><rect x="427" width="8" height="8" fill="#2a7474"/><rect x="435" width="8" height="8" fill="#289a9a"/><rect x="442" width="8" height="8" fill="#21b9b9"/><rect x="449" width="8" height="8" fill="#1bcbcb"/><rect x="456" width="8" height="8" fill="#1acdcd"/><rect x="463" width="8" height="8" fill="#20bebe"/><rect x="470" width="8" height="8" fill="#27a1a1"/><rect x="477" width="8" height="8" fill="#2a7979"/><rect x="484" width="8" height="8" fill="#882a2a"/><rect x="492" width="8" height="8" fill="#b02424"/><rect x="499" width="8" height="8" fill="#cd1a1a"/><rect x="506" width="8" height="8" fill="#db1414"/><rect x="513" width="8" height="8" fill="#d51717"/><rect x="520" width="8" height="8" fill="#bc2121"/><rect x="527" width="8" height="8" fill="#942929"/><rect x="534" width="8" height="8" fill="#2a7171"/><rect x="541" width="8" height="8" fill="#27a2a2"/><rect x="549" width="8" height="8" fill="#1bcccc"/><rect x="556" width="8" height="8" fill="#0fe6e6"/><rect x="563" width="8" height="8" fill="#0bebeb"/><rect x="570" width="8" height="8" fill="#14dbdb"/><rect x="577" width="8" height="8" fill="#22b6b6"/><rect x="584" width="8" height="8" fill="#2a8282"/><rect x="591" width="8" height="8" fill="#8c2a2a"/><rect x="598" width="8" height="8" fill="#c21e1e"/><rect x="606" width="8" height="8" fill="#eb0c0c"/><rect x="613" width="8" height="8" fill="#fe0000"/><rect x="620" width="8" height="8" fill="#d9d915"/>
</g>
<g transform="translate(0 535)">
<rect x="399" width="8" height="8" fill="#9c2828"/><rect x="406" width="8" height="8" fill="#c51e1e"/><rect x="413" width="8" height="8" fill="#ab2525"/><rect x="420" width="8" height="8" fill="#852a2a"/><rect x="427" width="8" height="8" fill="#2a7b7b"/><rect x="435" width="8" height="8" fill="#27a3a3"/><rect x="442" width="8" height="8" fill="#1fc2c2"/><rect x="449" width="8" height="8" fill="#19d1d1"/><rect x="456" width="8" height="8" fill="#1acdcd"/><rect x="463" width="8" height="8" fill="#22b7b7"/><rect x="470" width="8" height="8" fill="#299292"/><rect x="477" width="8" height="8" fill="#702a2a"/><rect x="484" width="8" height="8" fill="#9d2828"/><rect x="492" width="8" height="8" fill="#c31e1e"/><rect x="499" width="8" height="8" fill="#d91515"/><rect x="506" width="8" height="8" fill="#db1414"/><rect x="513" width="8" height="8" fill="#c81c1c"/><rect x="520" width="8" height="8" fill="#a32727"/><rect x="527" width="8" height="8" fill="#722a2a"/><rect x="534" width="8" height="8" fill="#299797"/><rect x="541" width="8" height="8" fill="#1dc5c5"/><rect x="549" width="8" height="8" fill="#10e4e4"/><rect x="556" width="8" height="8" fill="#0becec"/><rect x="563" width="8" height="8" fill="#13dddd"/><rect x="570" width="8" height="8" fill="#22b8b8"/><rect x="577" width="8" height="8" fill="#2a8282"/><rect x="584" width="8" height="8" fill="#8f2a2a"/><rect x="591" width="8" height="8" fill="#c61d1d"/><rect x="598" width="8" height="8" fill="#ee0a0a"/><rect x="606" width="8" height="8" fill="#f00"/><rect x="613" width="8" height="8" fill="#f40606"/><rect x="620" width="8" height="8" fill="#1dc51d"/>
</g>
<g transform="translate(0 542)">
<rect x="399" width="8" height="8" fill="#9e2828"/><rect x="406" width="8" height="8" fill="#c71d1d"/><rect x="413" width="8" height="8" fill="#ab2525"/><rect x="420" width="8" height="8" fill="#812a2a"/><rect x="427" width="8" height="8" fill="#2a8282"/><rect x="435" width="8" height="8" fill="#25acac"/><rect x="442" width="8" height="8" fill="#1ccaca"/><rect x="449" width="8" height="8" fill="#17d5d5"/><rect x="456" width="8" height="8" fill="#1bcbcb"/><rect x="463" width="8" height="8" fill="#25aeae"/><rect x="470" width="8" height="8" fill="#2a8282"/><rect x="477" width="8" height="8" fill="#842a2a"/><rect x="484" width="8" height="8" fill="#b22424"/><rect x="492" width="8" height="8" fill="#d21818"/><rect x="499" width="8" height="8" fill="#df1212"/><rect x="506" width="8" height="8" fill="#d41717"/><rect x="513" width="8" height="8" fill="#b42323"/><rect x="520" width="8" height="8" fill="#842a2a"/><rect x="527" width="8" height="8" fill="#2a8888"/><rect x="534" width="8" height="8" fill="#21bbbb"/><rect x="541" width="8" height="8" fill="#12dfdf"/><rect x="549" width="8" height="8" fill="#0aeded"/><rect x="556" width="8" height="8" fill="#11e2e2"/><rect x="563" width="8" height="8" fill="#20bdbd"/><rect x="570" width="8" height="8" fill="#2a8787"/><rect x="577" width="8" height="8" fill="#8c2a2a"/><rect x="584" width="8" height="8" fill="#c61d1d"/><rect x="591" width="8" height="8" fill="#ef0909"/><rect x="598" width="8" height="8" fill="#fe0000"/><rect x="606" width="8" height="8" fill="#f10808"/><rect x="613" width="8" height="8" fill="#c71d1d"/><rect x="620" width="8" height="8" fill="#1bcb1b"/>
</g>
<g transform="translate(0 549)">
<rect x="399" width="8" height="8" fill="#a02828"/><rect x="406" width="8" height="8" fill="#ca1c1c"/><rect x="413" width="8" height="8" fill="#aa2525"/><rect x="420" width="8" height="8" fill="#7d2a2a"/><rect x="427" width="8" height="8" fill="#2a8a8a"/><rect x="435" width="8" height="8" fill="#23b5b5"/><rect x="442" width="8" height="8" fill="#19d1d1"/><rect x="449" width="8" height="8" fill="#16d8d8"/><rect x="456" width="8" height="8" fill="#1dc7c7"/><rect x="463" width="8" height="8" fill="#27a2a2"/><rect x="470" width="8" height="8" fill="#2a7070"/><rect x="477" width="8" height="8" fill="#992929"/><rect x="484" width="8" height="8" fill="#c41e1e"/><rect x="492" width="8" height="8" fill="#dd1313"/><rect x="499" width="8" height="8" fill="#df1212"/><rect x="506" width="8" height="8" fill="#c71d1d"/><rect x="513" width="8" height="8" fill="#9a2828"/><rect x="520" width="8" height="8" fill="#2a7373"/><rect x="527" width="8" height="8" fill="#25acac"/><rect x="534" width="8" height="8" fill="#16d8d8"/><rect x="541" width="8" height="8" fill="#0aeded"/><rect x="549" width="8" height="8" fill="#0ee7e7"/><rect x="556" width="8" height="8" fill="#1dc6c6"/><rect x="563" width="8" height="8" fill="#2a9090"/><rect x="570" width="8" height="8" fill="#862a2a"/><rect x="577" width="8" height="8" fill="#c21e1e"/><rect x="584" width="8" height="8" fill="#ee0a0a"/><rect x="591" width="8" height="8" fill="#fe0000"/><rect x="598" width="8" height="8" fill="#ef0909"/><rect x="606" width="8" height="8" fill="#c31e1e"/><rect x="613" width="8" height="8" fill="#822a2a"/><rect x="620" width="8" height="8" fill="#0fe5e5"/>
</g>
<g transform="translate(0 557)">
<rect x="399" width="8" height="8" fill="#a12727"/><rect x="406" width="8" height="8" fill="#cc1b1b"/><rect x="413" width="8" height="8" fill="#a92626"/><rect x="420" width="8" height="8" fill="#782a2a"/><rect x="427" width="8" height="8" fill="#299292"/><rect x="435" width="8" height="8" fill="#20bebe"/><rect x="442" width="8" height="8" fill="#16d8d8"/><rect x="449" width="8" height="8" fill="#15d9d9"/><rect x="456" width="8" height="8" fill="#1fc0c0"/><rect x="463" width="8" height="8" fill="#299494"/><rect x="470" width="8" height="8" fill="#782a2a"/><rect x="477" width="8" height="8" fill="#ad2525"/><rect x="484" width="8" height="8" fill="#d41717"/><rect x="492" width="8" height="8" fill="#e41010"/><rect x="499" width="8" height="8" fill="#d81616"/><rect x="506" width="8" height="8" fill="#b22424"/><rect x="513" width="8" height="8" fill="#7b2a2a"/><rect x="520" width="8" height="8" fill="#299797"/><rect x="527" width="8" height="8" fill="#1bcbcb"/><rect x="534" width="8" height="8" fill="#0cebeb"/><rect x="541" width="8" height="8" fill="#0aeded"/><rect x="549" width="8" height="8" fill="#18d2d2"/><rect x="556" width="8" height="8" fill="#289d9d"/><rect x="563" width="8" height="8" fill="#7a2a2a"/><rect x="570" width="8" height="8" fill="#bb2121"/><rect x="577" width="8" height="8" fill="#eb0c0c"/><rect x="584" width="8" height="8" fill="#f00"/><rect x="591" width="8" height="8" fill="#f10808"/><rect x="598" width="8" height="8" fill="#c31e1e"/><rect x="606" width="8" height="8" fill="#802a2a"/><rect x="613" width="8" height="8" fill="#27a0a0"/><rect x="620" width="8" height="8" fill="#04f7f7"/>
</g>
<g transform="translate(0 564)">
<rect x="399" width="8" height="8" fill="#a32727"/><rect x="406" width="8" height="8" fill="#ce1a1a"/><rect x="413" width="8" height="8" fill="#a82626"/><rect x="420" width="8" height="8" fill="#732a2a"/><rect x="427" width="8" height="8" fill="#289a9a"/><rect x="435" width="8" height="8" fill="#1dc6c6"/><rect x="442" width="8" height="8" fill="#13dddd"/><rect x="449" width="8" height="8" fill="#16d8d8"/><rect x="456" width="8" height="8" fill="#22b8b8"/><rect x="463" width="8" height="8" fill="#2a8484"/><rect x="470" width="8" height="8" fill="#8c2a2a"/><rect x="477" width="8" height="8" fill="#c01f1f"/><rect x="484" width="8" height="8" fill="#e01212"/><rect x="492" width="8" height="8" fill="#e40f0f"/><rect x="499" width="8" height="8" fill="#ca1c1c"/><rect x="506" width="8" height="8" fill="#982929"/><rect x="513" width="8" height="8" fill="#2a7c7c"/><rect x="520" width="8" height="8" fill="#22b9b9"/><rect x="527" width="8" height="8" fill="#10e3e3"/><rect x="534" width="8" height="8" fill="#08f1f1"/><rect x="541" width="8" height="8" fill="#12dede"/><rect x="549" width="8" height="8" fill="#25aeae"/><rect x="556" width="8" height="8" fill="#296c6c"/><rect x="563" width="8" height="8" fill="#ae2424"/><rect x="570" width="8" height="8" fill="#e50f0f"/><rect x="577" width="8" height="8" fill="#fe0000"/><rect x="584" width="8" height="8" fill="#f40606"/><rect x="591" width="8" height="8" fill="#c71d1d"/><rect x="598" width="8" height="8" fill="#822a2a"/><rect x="606" width="8" height="8" fill="#27a0a0"/><rect x="613" width="8" height="8" fill="#10e3e3"/><rect x="620" width="8" height="8" fill="#06f5f5"/>
</g>
<g transform="translate(0 571)">
<rect x="399" width="8" height="8" fill="#a52727"/><rect x="406" width="8" height="8" fill="#df12df"/><rect x="413" width="8" height="8" fill="#df12df"/><rect x="420" width="8" height="8" fill="#1111e1"/><rect x="427" width="8" height="8" fill="#1010e4"/><rect x="435" width="8" height="8" fill="#0fe4e4"/><rect x="442" width="8" height="8" fill="#11e0e0"/><rect x="449" width="8" height="8" fill="#14da14"/><rect x="456" width="8" height="8" fill="#15d815"/><rect x="463" width="8" height="8" fill="#dede12"/><rect x="470" width="8" height="8" fill="#e7e70e"/><rect x="477" width="8" height="8" fill="#ea0c0c"/><rect x="484" width="8" height="8" fill="#e41010"/><rect x="492" width="8" height="8" fill="#d816d8"/><rect x="499" width="8" height="8" fill="#d218d2"/><rect x="506" width="8" height="8" fill="#1515da"/><rect x="513" width="8" height="8" fill="#0d0de8"/><rect x="520" width="8" height="8" fill="#09efef"/><rect x="527" width="8" height="8" fill="#0de8e8"/><rect x="534" width="8" height="8" fill="#16d716"/><rect x="541" width="8" height="8" fill="#1bcb1b"/><rect x="549" width="8" height="8" fill="#d4d418"/><rect x="556" width="8" height="8" fill="#e8e80d"/><rect x="563" width="8" height="8" fill="#f40606"/><rect x="570" width="8" height="8" fill="#ee0a0a"/><rect x="577" width="8" height="8" fill="#d91515"/><rect x="584" width="8" height="8" fill="#c51dc5"/><rect x="591" width="8" height="8" fill="#1b1bcb"/><rect x="598" width="8" height="8" fill="#0f0fe5"/><rect x="606" width="8" height="8" fill="#04f7f7"/><rect x="613" width="8" height="8" fill="#06f5f5"/><rect x="620" width="8" height="8" fill="#2a9090"/>
</g>
</g>
<g class="c">
<g transform="translate(0 351)">
<rect x="672" width="8" height="8" fill="#440154"/><rect x="679" width="8" height="8" fill="#440154"/><rect x="686" width="8" height="8" fill="#440154"/><rect x="693" width="8" height="8" fill="#440154"/><rect x="700" width="8" height="8" fill="#440154"/><rect x="708" width="8" height="8" fill="#440154"/><rect x="715" width="8" height="8" fill="#440154"/><rect x="722" width="8" height="8" fill="#440154"/><rect x="729" width="8" height="8" fill="#440154"/><rect x="736" width="8" height="8" fill="#440154"/><rect x="743" width="8" height="8" fill="#440154"/><rect x="750" width="8" height="8" fill="#440154"/><rect x="757" width="8" height="8" fill="#440154"/><rect x="765" width="8" height="8" fill="#440154"/><rect x="772" width="8" height="8" fill="#440154"/><rect x="779" width="8" height="8" fill="#440154"/><rect x="786" width="8" height="8" fill="#440154"/><rect x="793" width="8" height="8" fill="#440154"/><rect x="800" width="8" height="8" fill="#440154"/><rect x="807" width="8" height="8" fill="#440154"/><rect x="814" width="8" height="8" fill="#440154"/><rect x="822" width="8" height="8" fill="#440154"/><rect x="829" width="8" height="8" fill="#440154"/><rect x="836" width="8" height="8" fill="#440154"/><rect x="843" width="8" height="8" fill="#440154"/><rect x="850" width="8" height="8" fill="#440154"/><rect x="857" width="8" height="8" fill="#440154"/><rect x="864" width="8" height="8" fill="#440154"/><rect x="871" width="8" height="8" fill="#440154"/><rect x="879" width="8" height="8" fill="#440154"/><rect x="886" width="8" height="8" fill="#440154"/><rect x="893" width="8" height="8" fill="#440154"/>
</g>
<g transform="translate(0 357)">
<rect x="672" width="8" height="8" fill="#440154"/><rect x="679" width="8" height="8" fill="#440154"/><rect x="686" width="8" height="8" fill="#440154"/><rect x="693" width="8" height="8" fill="#440154"/><rect x="700" width="8" height="8" fill="#440154"/><rect x="708" width="8" height="8" fill="#440154"/><rect x="715" width="8" height="8" fill="#440154"/><rect x="722" width="8" height="8" fill="#440154"/><rect x="729" width="8" height="8" fill="#440154"/><rect x="736" width="8" height="8" fill="#440154"/><rect x="743" width="8" height="8" fill="#440154"/><rect x="750" width="8" height="8" fill="#440154"/><rect x="757" width="8" height="8" fill="#440154"/><rect x="765" width="8" height="8" fill="#440154"/><rect x="772" width="8" height="8" fill="#440154"/><rect x="779" width="8" height="8" fill="#440154"/><rect x="786" width="8" height="8" fill="#440154"/><rect x="793" width="8" height="8" fill="#440154"/><rect x="800" width="8" height="8" fill="#440154"/><rect x="807" width="8" height="8" fill="#440154"/><rect x="814" width="8" height="8" fill="#440154"/><rect x="822" width="8" height="8" fill="#440154"/><rect x="829" width="8" height="8" fill="#440154"/><rect x="836" width="8" height="8" fill="#440154"/><rect x="843" width="8" height="8" fill="#440154"/><rect x="850" width="8" height="8" fill="#440154"/><rect x="857" width="8" height="8" fill="#440154"/><rect x="864" width="8" height="8" fill="#440154"/><rect x="871" width="8" height="8" fill="#440154"/><rect x="879" width="8" height="8" fill="#440154"/><rect x="886" width="8" height="8" fill="#440154"/><rect x="893" width="8" height="8" fill="#482273"/>
</g>
<g transform="translate(0 364)">
<rect x="672" width="8" height="8" fill="#440154"/><rect x="679" width="8" height="8" fill="#440154"/><rect x="686" width="8" height="8" fill="#440154"/><rect x="693" width="8" height="8" fill="#440154"/><rect x="700" width="8" height="8" fill="#440154"/><rect x="708" width="8" height="8" fill="#440154"/><rect x="715" width="8" height="8" fill="#440154"/><rect x="722" width="8" height="8" fill="#440154"/><rect x="729" width="8" height="8" fill="#440154"/><rect x="736" width="8" height="8" fill="#440154"/><rect x="743" width="8" height="8" fill="#440154"/><rect x="750" width="8" height="8" fill="#440154"/><rect x="757" width="8" height="8" fill="#440154"/><rect x="765" width="8" height="8" fill="#440154"/><rect x="772" width="8" height="8" fill="#440154"/><rect x="779" width="8" height="8" fill="#440154"/><rect x="786" width="8" height="8" fill="#440154"/><rect x="793" width="8" height="8" fill="#440154"/><rect x="800" width="8" height="8" fill="#440154"/><rect x="807" width="8" height="8" fill="#440154"/><rect x="814" width="8" height="8" fill="#440154"/><rect x="822" width="8" height="8" fill="#440154"/><rect x="829" width="8" height="8" fill="#440154"/><rect x="836" width="8" height="8" fill="#440154"/><rect x="843" width="8" height="8" fill="#440154"/><rect x="850" width="8" height="8" fill="#440154"/><rect x="857" width="8" height="8" fill="#440154"/><rect x="864" width="8" height="8" fill="#440154"/><rect x="871" width="8" height="8" fill="#440154"/><rect x="879" width="8" height="8" fill="#440154"/><rect x="886" width="8" height="8" fill="#440154"/><rect x="893" width="8" height="8" fill="#414186"/>
</g>
<g transform="translate(0 371)">
<rect x="672" width="8" height="8" fill="#440154"/><rect x="679" width="8" height="8" fill="#440154"/><rect x="686" width="8" height="8" fill="#440154"/><rect x="693" width="8" height="8" fill="#440154"/><rect x="700" width="8" height="8" fill="#440154"/><rect x="708" width="8" height="8" fill="#440154"/><rect x="715" width="8" height="8" fill="#440154"/><rect x="722" width="8" height="8" fill="#440154"/><rect x="729" width="8" height="8" fill="#440154"/><rect x="736" width="8" height="8" fill="#440154"/><rect x="743" width="8" height="8" fill="#440154"/><rect x="750" width="8" height="8" fill="#440154"/><rect x="757" width="8" height="8" fill="#440154"/><rect x="765" width="8" height="8" fill="#440154"/><rect x="772" width="8" height="8" fill="#440154"/><rect x="779" width="8" height="8" fill="#440154"/><rect x="786" width="8" height="8" fill="#440154"/><rect x="793" width="8" height="8" fill="#440154"/><rect x="800" width="8" height="8" fill="#440154"/><rect x="807" width="8" height="8" fill="#440154"/><rect x="814" width="8" height="8" fill="#440154"/><rect x="822" width="8" height="8" fill="#440154"/><rect x="829" width="8" height="8" fill="#440154"/><rect x="836" width="8" height="8" fill="#440154"/><rect x="843" width="8" height="8" fill="#440154"/><rect x="850" width="8" height="8" fill="#440154"/><rect x="857" width="8" height="8" fill="#440154"/><rect x="864" width="8" height="8" fill="#440154"/><rect x="871" width="8" height="8" fill="#440154"/><rect x="879" width="8" height="8" fill="#440154"/><rect x="886" width="8" height="8" fill="#440154"/><rect x="893" width="8" height="8" fill="#355c8c"/>
</g>
<g transform="translate(0 378)">
<rect x="672" width="8" height="8" fill="#440154"/><rect x="679" width="8" height="8" fill="#440154"/><rect x="686" width="8" height="8" fill="#440154"/><rect x="693" width="8" height="8" fill="#440154"/><rect x="700" width="8" height="8" fill="#440154"/><rect x="708" width="8" height="8" fill="#440154"/><rect x="715" width="8" height="8" fill="#440154"/><rect x="722" width="8" height="8" fill="#440154"/><rect x="729" width="8" height="8" fill="#440154"/><rect x="736" width="8" height="8" fill="#440154"/><rect x="743" width="8" height="8" fill="#440154"/><rect x="750" width="8" height="8" fill="#440154"/><rect x="757" width="8" height="8" fill="#440154"/><rect x="765" width="8" height="8" fill="#440154"/><rect x="772" width="8" height="8" fill="#440154"/><rect x="779" width="8" height="8" fill="#440154"/><rect x="786" width="8" height="8" fill="#440154"/><rect x="793" width="8" height="8" fill="#440154"/><rect x="800" width="8" height="8" fill="#440154"/><rect x="807" width="8" height="8" fill="#440154"/><rect x="814" width="8" height="8" fill="#440154"/><rect x="822" width="8" height="8" fill="#440154"/><rect x="829" width="8" height="8" fill="#440154"/><rect x="836" width="8" height="8" fill="#440154"/><rect x="843" width="8" height="8" fill="#440154"/><rect x="850" width="8" height="8" fill="#440154"/><rect x="857" width="8" height="8" fill="#440154"/><rect x="864" width="8" height="8" fill="#440154"/><rect x="871" width="8" height="8" fill="#440154"/><rect x="879" width="8" height="8" fill="#440154"/><rect x="886" width="8" height="8" fill="#440154"/><rect x="893" width="8" height="8" fill="#433a83"/>
</g>
<g transform="translate(0 386)">
<rect x="672" width="8" height="8" fill="#440154"/><rect x="679" width="8" height="8" fill="#440154"/><rect x="686" width="8" height="8" fill="#440154"/><rect x="693" width="8" height="8" fill="#440154"/><rect x="700" width="8" height="8" fill="#440154"/><rect x="708" width="8" height="8" fill="#440154"/><rect x="715" width="8" height="8" fill="#440154"/><rect x="722" width="8" height="8" fill="#440154"/><rect x="729" width="8" height="8" fill="#440154"/><rect x="736" width="8" height="8" fill="#440154"/><rect x="743" width="8" height="8" fill="#440154"/><rect x="750" width="8" height="8" fill="#440154"/><rect x="757" width="8" height="8" fill="#440154"/><rect x="765" width="8" height="8" fill="#440154"/><rect x="772" width="8" height="8" fill="#440154"/><rect x="779" width="8" height="8" fill="#440154"/><rect x="786" width="8" height="8" fill="#440154"/><rect x="793" width="8" height="8" fill="#440154"/><rect x="800" width="8" height="8" fill="#440154"/><rect x="807" width="8" height="8" fill="#440154"/><rect x="814" width="8" height="8" fill="#440154"/><rect x="822" width="8" height="8" fill="#440154"/><rect x="829" width="8" height="8" fill="#440154"/><rect x="836" width="8" height="8" fill="#440154"/><rect x="843" width="8" height="8" fill="#440154"/><rect x="850" width="8" height="8" fill="#440154"/><rect x="857" width="8" height="8" fill="#440154"/><rect x="864" width="8" height="8" fill="#440154"/><rect x="871" width="8" height="8" fill="#440154"/><rect x="879" width="8" height="8" fill="#440154"/><rect x="886" width="8" height="8" fill="#440154"/><rect x="893" width="8" height="8" fill="#481d6f"/>
</g>
<g transform="translate(0 393)">
<rect x="672" width="8" height="8" fill="#440154"/><rect x="679" width="8" height="8" fill="#440154"/><rect x="686" width="8" height="8" fill="#440154"/><rect x="693" width="8" height="8" fill="#440154"/><rect x="700" width="8" height="8" fill="#440154"/><rect x="708" width="8" height="8" fill="#440154"/><rect x="715" width="8" height="8" fill="#440154"/><rect x="722" width="8" height="8" fill="#440154"/><rect x="729" width="8" height="8" fill="#440154"/><rect x="736" width="8" height="8" fill="#440154"/><rect x="743" width="8" height="8" fill="#440154"/><rect x="750" width="8" height="8" fill="#440154"/><rect x="757" width="8" height="8" fill="#440154"/><rect x="765" width="8" height="8" fill="#440154"/><rect x="772" width="8" height="8" fill="#440154"/><rect x="779" width="8" height="8" fill="#440154"/><rect x="786" width="8" height="8" fill="#440154"/><rect x="793" width="8" height="8" fill="#440154"/><rect x="800" width="8" height="8" fill="#440154"/><rect x="807" width="8" height="8" fill="#440154"/><rect x="814" width="8" height="8" fill="#440154"/><rect x="822" width="8" height="8" fill="#440154"/><rect x="829" width="8" height="8" fill="#440154"/><rect x="836" width="8" height="8" fill="#440154"/><rect x="843" width="8" height="8" fill="#440154"/><rect x="850" width="8" height="8" fill="#440154"/><rect x="857" width="8" height="8" fill="#440154"/><rect x="864" width="8" height="8" fill="#440154"/><rect x="871" width="8" height="8" fill="#440154"/><rect x="879" width="8" height="8" fill="#440154"/><rect x="886" width="8" height="8" fill="#440154"/><rect x="893" width="8" height="8" fill="#440357"/>
</g>
<g transform="translate(0 400)">
<rect x="672" width="8" height="8" fill="#440154"/><rect x="679" width="8" height="8" fill="#440154"/><rect x="686" width="8" height="8" fill="#440154"/><rect x="693" width="8" height="8" fill="#440154"/><rect x="700" width="8" height="8" fill="#440154"/><rect x="708" width="8" height="8" fill="#440154"/><rect x="715" width="8" height="8" fill="#440154"/><rect x="722" width="8" height="8" fill="#440154"/><rect x="729" width="8" height="8" fill="#440154"/><rect x="736" width="8" height="8" fill="#440154"/><rect x="743" width="8" height="8" fill="#440154"/><rect x="750" width="8" height="8" fill="#440154"/><rect x="757" width="8" height="8" fill="#440154"/><rect x="765" width="8" height="8" fill="#440154"/><rect x="772" width="8" height="8" fill="#440154"/><rect x="779" width="8" height="8" fill="#440154"/><rect x="786" width="8" height="8" fill="#440154"/><rect x="793" width="8" height="8" fill="#440154"/><rect x="800" width="8" height="8" fill="#440154"/><rect x="807" width="8" height="8" fill="#440154"/><rect x="814" width="8" height="8" fill="#440154"/><rect x="822" width="8" height="8" fill="#440154"/><rect x="829" width="8" height="8" fill="#440154"/><rect x="836" width="8" height="8" fill="#440154"/><rect x="843" width="8" height="8" fill="#440154"/><rect x="850" width="8" height="8" fill="#440154"/><rect x="857" width="8" height="8" fill="#440154"/><rect x="864" width="8" height="8" fill="#440154"/><rect x="871" width="8" height="8" fill="#440154"/><rect x="879" width="8" height="8" fill="#440154"/><rect x="886" width="8" height="8" fill="#440154"/><rect x="893" width="8" height="8" fill="#472575"/>
</g>
<g transform="translate(0 407)">
<rect x="672" width="8" height="8" fill="#440154"/><rect x="679" width="8" height="8" fill="#440154"/><rect x="686" width="8" height="8" fill="#440154"/><rect x="693" width="8" height="8" fill="#440154"/><rect x="700" width="8" height="8" fill="#440154"/><rect x="708" width="8" height="8" fill="#440154"/><rect x="715" width="8" height="8" fill="#440154"/><rect x="722" width="8" height="8" fill="#440154"/><rect x="729" width="8" height="8" fill="#440154"/><rect x="736" width="8" height="8" fill="#440154"/><rect x="743" width="8" height="8" fill="#440154"/><rect x="750" width="8" height="8" fill="#440154"/><rect x="757" width="8" height="8" fill="#440154"/><rect x="765" width="8" height="8" fill="#440154"/><rect x="772" width="8" height="8" fill="#440154"/><rect x="779" width="8" height="8" fill="#440154"/><rect x="786" width="8" height="8" fill="#440154"/><rect x="793" width="8" height="8" fill="#440154"/><rect x="800" width="8" height="8" fill="#440154"/><rect x="807" width="8" height="8" fill="#440154"/><rect x="814" width="8" height="8" fill="#440154"/><rect x="822" width="8" height="8" fill="#440154"/><rect x="829" width="8" height="8" fill="#440154"/><rect x="836" width="8" height="8" fill="#440154"/><rect x="843" width="8" height="8" fill="#440154"/><rect x="850" width="8" height="8" fill="#440154"/><rect x="857" width="8" height="8" fill="#440154"/><rect x="864" width="8" height="8" fill="#440154"/><rect x="871" width="8" height="8" fill="#440154"/><rect x="879" width="8" height="8" fill="#440154"/><rect x="886" width="8" height="8" fill="#440154"/><rect x="893" width="8" height="8" fill="#3f4587"/>
</g>
<g transform="translate(0 414)">
<rect x="672" width="8" height="8" fill="#440154"/><rect x="679" width="8" height="8" fill="#440154"/><rect x="686" width="8" height="8" fill="#440154"/><rect x="693" width="8" height="8" fill="#440154"/><rect x="700" width="8" height="8" fill="#440154"/><rect x="708" width="8" height="8" fill="#440154"/><rect x="715" width="8" height="8" fill="#440154"/><rect x="722" width="8" height="8" fill="#440154"/><rect x="729" width="8" height="8" fill="#440154"/><rect x="736" width="8" height="8" fill="#440154"/><rect x="743" width="8" height="8" fill="#440154"/><rect x="750" width="8" height="8" fill="#440154"/><rect x="757" width="8" height="8" fill="#440154"/><rect x="765" width="8" height="8" fill="#440154"/><rect x="772" width="8" height="8" fill="#440154"/><rect x="779" width="8" height="8" fill="#440154"/><rect x="786" width="8" height="8" fill="#440154"/><rect x="793" width="8" height="8" fill="#440154"/><rect x="800" width="8" height="8" fill="#440154"/><rect x="807" width="8" height="8" fill="#440154"/><rect x="814" width="8" height="8" fill="#440154"/><rect x="822" width="8" height="8" fill="#440154"/><rect x="829" width="8" height="8" fill="#440154"/><rect x="836" width="8" height="8" fill="#440154"/><rect x="843" width="8" height="8" fill="#440154"/><rect x="850" width="8" height="8" fill="#440154"/><rect x="857" width="8" height="8" fill="#440154"/><rect x="864" width="8" height="8" fill="#440154"/><rect x="871" width="8" height="8" fill="#440154"/><rect x="879" width="8" height="8" fill="#440154"/><rect x="886" width="8" height="8" fill="#440154"/><rect x="893" width="8" height="8" fill="#32628d"/>
</g>
<g transform="translate(0 421)">
<rect x="672" width="8" height="8" fill="#440154"/><rect x="679" width="8" height="8" fill="#440154"/><rect x="686" width="8" height="8" fill="#440154"/><rect x="693" width="8" height="8" fill="#440154"/><rect x="700" width="8" height="8" fill="#440154"/><rect x="708" width="8" height="8" fill="#440154"/><rect x="715" width="8" height="8" fill="#440154"/><rect x="722" width="8" height="8" fill="#440154"/><rect x="729" width="8" height="8" fill="#440154"/><rect x="736" width="8" height="8" fill="#440154"/><rect x="743" width="8" height="8" fill="#440154"/><rect x="750" width="8" height="8" fill="#440154"/><rect x="757" width="8" height="8" fill="#440154"/><rect x="765" width="8" height="8" fill="#440154"/><rect x="772" width="8" height="8" fill="#440154"/><rect x="779" width="8" height="8" fill="#440154"/><rect x="786" width="8" height="8" fill="#440154"/><rect x="793" width="8" height="8" fill="#440154"/><rect x="800" width="8" height="8" fill="#440154"/><rect x="807" width="8" height="8" fill="#440154"/><rect x="814" width="8" height="8" fill="#440154"/><rect x="822" width="8" height="8" fill="#440154"/><rect x="829" width="8" height="8" fill="#440154"/><rect x="836" width="8" height="8" fill="#440154"/><rect x="843" width="8" height="8" fill="#440154"/><rect x="850" width="8" height="8" fill="#440154"/><rect x="857" width="8" height="8" fill="#440154"/><rect x="864" width="8" height="8" fill="#440154"/><rect x="871" width="8" height="8" fill="#440154"/><rect x="879" width="8" height="8" fill="#440154"/><rect x="886" width="8" height="8" fill="#440154"/><rect x="893" width="8" height="8" fill="#45327f"/>
</g>
<g transform="translate(0 428)">
<rect x="672" width="8" height="8" fill="#440154"/><rect x="679" width="8" height="8" fill="#440154"/><rect x="686" width="8" height="8" fill="#440154"/><rect x="693" width="8" height="8" fill="#440154"/><rect x="700" width="8" height="8" fill="#440154"/><rect x="708" width="8" height="8" fill="#440154"/><rect x="715" width="8" height="8" fill="#440154"/><rect x="722" width="8" height="8" fill="#440154"/><rect x="729" width="8" height="8" fill="#440154"/><rect x="736" width="8" height="8" fill="#440154"/><rect x="743" width="8" height="8" fill="#440154"/><rect x="750" width="8" height="8" fill="#440154"/><rect x="757" width="8" height="8" fill="#440154"/><rect x="765" width="8" height="8" fill="#440154"/><rect x="772" width="8" height="8" fill="#440154"/><rect x="779" width="8" height="8" fill="#440154"/><rect x="786" width="8" height="8" fill="#440154"/><rect x="793" width="8" height="8" fill="#440154"/><rect x="800" width="8" height="8" fill="#440154"/><rect x="807" width="8" height="8" fill="#440154"/><rect x="814" width="8" height="8" fill="#440154"/><rect x="822" width="8" height="8" fill="#440154"/><rect x="829" width="8" height="8" fill="#440154"/><rect x="836" width="8" height="8" fill="#440154"/><rect x="843" width="8" height="8" fill="#440154"/><rect x="850" width="8" height="8" fill="#440154"/><rect x="857" width="8" height="8" fill="#440154"/><rect x="864" width="8" height="8" fill="#440154"/><rect x="871" width="8" height="8" fill="#440154"/><rect x="879" width="8" height="8" fill="#440154"/><rect x="886" width="8" height="8" fill="#440154"/><rect x="893" width="8" height="8" fill="#48196b"/>
</g>
<g transform="translate(0 435)">
<rect x="672" width="8" height="8" fill="#440154"/><rect x="679" width="8" height="8" fill="#440154"/><rect x="686" width="8" height="8" fill="#440154"/><rect x="693" width="8" height="8" fill="#440154"/><rect x="700" width="8" height="8" fill="#440154"/><rect x="708" width="8" height="8" fill="#440154"/><rect x="715" width="8" height="8" fill="#440154"/><rect x="722" width="8" height="8" fill="#440154"/><rect x="729" width="8" height="8" fill="#440154"/><rect x="736" width="8" height="8" fill="#440154"/><rect x="743" width="8" height="8" fill="#440154"/><rect x="750" width="8" height="8" fill="#440154"/><rect x="757" width="8" height="8" fill="#440154"/><rect x="765" width="8" height="8" fill="#440154"/><rect x="772" width="8" height="8" fill="#440154"/><rect x="779" width="8" height="8" fill="#440154"/><rect x="786" width="8" height="8" fill="#440154"/><rect x="793" width="8" height="8" fill="#440154"/><rect x="800" width="8" height="8" fill="#440154"/><rect x="807" width="8" height="8" fill="#440154"/><rect x="814" width="8" height="8" fill="#440154"/><rect x="822" width="8" height="8" fill="#440154"/><rect x="829" width="8" height="8" fill="#440154"/><rect x="836" width="8" height="8" fill="#440154"/><rect x="843" width="8" height="8" fill="#440154"/><rect x="850" width="8" height="8" fill="#440154"/><rect x="857" width="8" height="8" fill="#440154"/><rect x="864" width="8" height="8" fill="#440154"/><rect x="871" width="8" height="8" fill="#440154"/><rect x="879" width="8" height="8" fill="#440154"/><rect x="886" width="8" height="8" fill="#440154"/><rect x="893" width="8" height="8" fill="#450558"/>
</g>
<g transform="translate(0 443)">
<rect x="672" width="8" height="8" fill="#440154"/><rect x="679" width="8" height="8" fill="#440154"/><rect x="686" width="8" height="8" fill="#440154"/><rect x="693" width="8" height="8" fill="#440154"/><rect x="700" width="8" height="8" fill="#440154"/><rect x="708" width="8" height="8" fill="#440154"/><rect x="715" width="8" height="8" fill="#440154"/><rect x="722" width="8" height="8" fill="#440154"/><rect x="729" width="8" height="8" fill="#440154"/><rect x="736" width="8" height="8" fill="#440154"/><rect x="743" width="8" height="8" fill="#440154"/><rect x="750" width="8" height="8" fill="#440154"/><rect x="757" width="8" height="8" fill="#440154"/><rect x="765" width="8" height="8" fill="#440154"/><rect x="772" width="8" height="8" fill="#440154"/><rect x="779" width="8" height="8" fill="#440154"/><rect x="786" width="8" height="8" fill="#440154"/><rect x="793" width="8" height="8" fill="#440154"/><rect x="800" width="8" height="8" fill="#440154"/><rect x="807" width="8" height="8" fill="#440154"/><rect x="814" width="8" height="8" fill="#440154"/><rect x="822" width="8" height="8" fill="#440154"/><rect x="829" width="8" height="8" fill="#440154"/><rect x="836" width="8" height="8" fill="#440154"/><rect x="843" width="8" height="8" fill="#440154"/><rect x="850" width="8" height="8" fill="#440154"/><rect x="857" width="8" height="8" fill="#440154"/><rect x="864" width="8" height="8" fill="#440154"/><rect x="871" width="8" height="8" fill="#440154"/><rect x="879" width="8" height="8" fill="#440154"/><rect x="886" width="8" height="8" fill="#440154"/><rect x="893" width="8" height="8" fill="#472777"/>
</g>
<g transform="translate(0 450)">
<rect x="672" width="8" height="8" fill="#440154"/><rect x="679" width="8" height="8" fill="#440154"/><rect x="686" width="8" height="8" fill="#440154"/><rect x="693" width="8" height="8" fill="#440154"/><rect x="700" width="8" height="8" fill="#440154"/><rect x="708" width="8" height="8" fill="#440154"/><rect x="715" width="8" height="8" fill="#440154"/><rect x="722" width="8" height="8" fill="#440154"/><rect x="729" width="8" height="8" fill="#440154"/><rect x="736" width="8" height="8" fill="#440154"/><rect x="743" width="8" height="8" fill="#440154"/><rect x="750" width="8" height="8" fill="#440154"/><rect x="757" width="8" height="8" fill="#440154"/><rect x="765" width="8" height="8" fill="#440154"/><rect x="772" width="8" height="8" fill="#440154"/><rect x="779" width="8" height="8" fill="#440154"/><rect x="786" width="8" height="8" fill="#440154"/><rect x="793" width="8" height="8" fill="#440154"/><rect x="800" width="8" height="8" fill="#440154"/><rect x="807" width="8" height="8" fill="#440154"/><rect x="814" width="8" height="8" fill="#440154"/><rect x="822" width="8" height="8" fill="#440154"/><rect x="829" width="8" height="8" fill="#440154"/><rect x="836" width="8" height="8" fill="#440154"/><rect x="843" width="8" height="8" fill="#440154"/><rect x="850" width="8" height="8" fill="#440154"/><rect x="857" width="8" height="8" fill="#440154"/><rect x="864" width="8" height="8" fill="#440154"/><rect x="871" width="8" height="8" fill="#440154"/><rect x="879" width="8" height="8" fill="#440154"/><rect x="886" width="8" height="8" fill="#440154"/><rect x="893" width="8" height="8" fill="#3d4a89"/>
</g>
<g transform="translate(0 457)">
<rect x="672" width="8" height="8" fill="#440154"/><rect x="679" width="8" height="8" fill="#440154"/><rect x="686" width="8" height="8" fill="#440154"/><rect x="693" width="8" height="8" fill="#440154"/><rect x="700" width="8" height="8" fill="#440154"/><rect x="708" width="8" height="8" fill="#440154"/><rect x="715" width="8" height="8" fill="#440154"/><rect x="722" width="8" height="8" fill="#440154"/><rect x="729" width="8" height="8" fill="#440154"/><rect x="736" width="8" height="8" fill="#440154"/><rect x="743" width="8" height="8" fill="#440154"/><rect x="750" width="8" height="8" fill="#440154"/><rect x="757" width="8" height="8" fill="#440154"/><rect x="765" width="8" height="8" fill="#440154"/><rect x="772" width="8" height="8" fill="#440154"/><rect x="779" width="8" height="8" fill="#440154"/><rect x="786" width="8" height="8" fill="#440154"/><rect x="793" width="8" height="8" fill="#440154"/><rect x="800" width="8" height="8" fill="#440154"/><rect x="807" width="8" height="8" fill="#440154"/><rect x="814" width="8" height="8" fill="#440154"/><rect x="822" width="8" height="8" fill="#440154"/><rect x="829" width="8" height="8" fill="#440154"/><rect x="836" width="8" height="8" fill="#440154"/><rect x="843" width="8" height="8" fill="#440154"/><rect x="850" width="8" height="8" fill="#440154"/><rect x="857" width="8" height="8" fill="#440154"/><rect x="864" width="8" height="8" fill="#440154"/><rect x="871" width="8" height="8" fill="#440154"/><rect x="879" width="8" height="8" fill="#440154"/><rect x="886" width="8" height="8" fill="#440154"/><rect x="893" width="8" height="8" fill="#30678d"/>
</g>
<g transform="translate(0 464)">
<rect x="672" width="8" height="8" fill="#440154"/><rect x="679" width="8" height="8" fill="#440154"/><rect x="686" width="8" height="8" fill="#440154"/><rect x="693" width="8" height="8" fill="#440154"/><rect x="700" width="8" height="8" fill="#440154"/><rect x="708" width="8" height="8" fill="#440154"/><rect x="715" width="8" height="8" fill="#440154"/><rect x="722" width="8" height="8" fill="#440154"/><rect x="729" width="8" height="8" fill="#440154"/><rect x="736" width="8" height="8" fill="#440154"/><rect x="743" width="8" height="8" fill="#440154"/><rect x="750" width="8" height="8" fill="#440154"/><rect x="757" width="8" height="8" fill="#440154"/><rect x="765" width="8" height="8" fill="#440154"/><rect x="772" width="8" height="8" fill="#440154"/><rect x="779" width="8" height="8" fill="#440154"/><rect x="786" width="8" height="8" fill="#440154"/><rect x="793" width="8" height="8" fill="#440154"/><rect x="800" width="8" height="8" fill="#440154"/><rect x="807" width="8" height="8" fill="#440154"/><rect x="814" width="8" height="8" fill="#440154"/><rect x="822" width="8" height="8" fill="#440154"/><rect x="829" width="8" height="8" fill="#440154"/><rect x="836" width="8" height="8" fill="#440154"/><rect x="843" width="8" height="8" fill="#440154"/><rect x="850" width="8" height="8" fill="#440154"/><rect x="857" width="8" height="8" fill="#440154"/><rect x="864" width="8" height="8" fill="#440154"/><rect x="871" width="8" height="8" fill="#440154"/><rect x="879" width="8" height="8" fill="#440154"/><rect x="886" width="8" height="8" fill="#440154"/><rect x="893" width="8" height="8" fill="#472c7b"/>
</g>
<g transform="translate(0 471)">
<rect x="672" width="8" height="8" fill="#440154"/><rect x="679" width="8" height="8" fill="#440154"/><rect x="686" width="8" height="8" fill="#440154"/><rect x="693" width="8" height="8" fill="#440154"/><rect x="700" width="8" height="8" fill="#440154"/><rect x="708" width="8" height="8" fill="#440154"/><rect x="715" width="8" height="8" fill="#440154"/><rect x="722" width="8" height="8" fill="#440154"/><rect x="729" width="8" height="8" fill="#440154"/><rect x="736" width="8" height="8" fill="#440154"/><rect x="743" width="8" height="8" fill="#440154"/><rect x="750" width="8" height="8" fill="#440154"/><rect x="757" width="8" height="8" fill="#440154"/><rect x="765" width="8" height="8" fill="#440154"/><rect x="772" width="8" height="8" fill="#440154"/><rect x="779" width="8" height="8" fill="#440154"/><rect x="786" width="8" height="8" fill="#440154"/><rect x="793" width="8" height="8" fill="#440154"/><rect x="800" width="8" height="8" fill="#440154"/><rect x="807" width="8" height="8" fill="#440154"/><rect x="814" width="8" height="8" fill="#440154"/><rect x="822" width="8" height="8" fill="#440154"/><rect x="829" width="8" height="8" fill="#440154"/><rect x="836" width="8" height="8" fill="#440154"/><rect x="843" width="8" height="8" fill="#440154"/><rect x="850" width="8" height="8" fill="#440154"/><rect x="857" width="8" height="8" fill="#440154"/><rect x="864" width="8" height="8" fill="#440154"/><rect x="871" width="8" height="8" fill="#440154"/><rect x="879" width="8" height="8" fill="#440154"/><rect x="886" width="8" height="8" fill="#440154"/><rect x="893" width="8" height="8" fill="#471466"/>
</g>
<g transform="translate(0 478)">
<rect x="672" width="8" height="8" fill="#440154"/><rect x="679" width="8" height="8" fill="#440154"/><rect x="686" width="8" height="8" fill="#440154"/><rect x="693" width="8" height="8" fill="#440154"/><rect x="700" width="8" height="8" fill="#440154"/><rect x="708" width="8" height="8" fill="#440154"/><rect x="715" width="8" height="8" fill="#440154"/><rect x="722" width="8" height="8" fill="#440154"/><rect x="729" width="8" height="8" fill="#440154"/><rect x="736" width="8" height="8" fill="#440154"/><rect x="743" width="8" height="8" fill="#440154"/><rect x="750" width="8" height="8" fill="#440154"/><rect x="757" width="8" height="8" fill="#440154"/><rect x="765" width="8" height="8" fill="#440154"/><rect x="772" width="8" height="8" fill="#440154"/><rect x="779" width="8" height="8" fill="#440154"/><rect x="786" width="8" height="8" fill="#440154"/><rect x="793" width="8" height="8" fill="#440154"/><rect x="800" width="8" height="8" fill="#440154"/><rect x="807" width="8" height="8" fill="#440154"/><rect x="814" width="8" height="8" fill="#440154"/><rect x="822" width="8" height="8" fill="#440154"/><rect x="829" width="8" height="8" fill="#440154"/><rect x="836" width="8" height="8" fill="#440154"/><rect x="843" width="8" height="8" fill="#440154"/><rect x="850" width="8" height="8" fill="#440154"/><rect x="857" width="8" height="8" fill="#440154"/><rect x="864" width="8" height="8" fill="#440154"/><rect x="871" width="8" height="8" fill="#440154"/><rect x="879" width="8" height="8" fill="#440154"/><rect x="886" width="8" height="8" fill="#440154"/><rect x="893" width="8" height="8" fill="#45085b"/>
</g>
<g transform="translate(0 485)">
<rect x="672" width="8" height="8" fill="#440154"/><rect x="679" width="8" height="8" fill="#440154"/><rect x="686" width="8" height="8" fill="#440154"/><rect x="693" width="8" height="8" fill="#440154"/><rect x="700" width="8" height="8" fill="#440154"/><rect x="708" width="8" height="8" fill="#440154"/><rect x="715" width="8" height="8" fill="#440154"/><rect x="722" width="8" height="8" fill="#440154"/><rect x="729" width="8" height="8" fill="#440154"/><rect x="736" width="8" height="8" fill="#440154"/><rect x="743" width="8" height="8" fill="#440154"/><rect x="750" width="8" height="8" fill="#440154"/><rect x="757" width="8" height="8" fill="#440154"/><rect x="765" width="8" height="8" fill="#440154"/><rect x="772" width="8" height="8" fill="#440154"/><rect x="779" width="8" height="8" fill="#440154"/><rect x="786" width="8" height="8" fill="#440154"/><rect x="793" width="8" height="8" fill="#440154"/><rect x="800" width="8" height="8" fill="#440154"/><rect x="807" width="8" height="8" fill="#440154"/><rect x="814" width="8" height="8" fill="#440154"/><rect x="822" width="8" height="8" fill="#440154"/><rect x="829" width="8" height="8" fill="#440154"/><rect x="836" width="8" height="8" fill="#440154"/><rect x="843" width="8" height="8" fill="#440154"/><rect x="850" width="8" height="8" fill="#440154"/><rect x="857" width="8" height="8" fill="#440154"/><rect x="864" width="8" height="8" fill="#440154"/><rect x="871" width="8" height="8" fill="#440154"/><rect x="879" width="8" height="8" fill="#440154"/><rect x="886" width="8" height="8" fill="#440154"/><rect x="893" width="8" height="8" fill="#472676"/>
</g>
<g transform="translate(0 492)">
<rect x="672" width="8" height="8" fill="#440154"/><rect x="679" width="8" height="8" fill="#440154"/><rect x="686" width="8" height="8" fill="#440154"/><rect x="693" width="8" height="8" fill="#440154"/><rect x="700" width="8" height="8" fill="#440154"/><rect x="708" width="8" height="8" fill="#440154"/><rect x="715" width="8" height="8" fill="#440154"/><rect x="722" width="8" height="8" fill="#440154"/><rect x="729" width="8" height="8" fill="#440154"/><rect x="736" width="8" height="8" fill="#440154"/><rect x="743" width="8" height="8" fill="#440154"/><rect x="750" width="8" height="8" fill="#440154"/><rect x="757" width="8" height="8" fill="#440154"/><rect x="765" width="8" height="8" fill="#440154"/><rect x="772" width="8" height="8" fill="#440154"/><rect x="779" width="8" height="8" fill="#440154"/><rect x="786" width="8" height="8" fill="#440154"/><rect x="793" width="8" height="8" fill="#440154"/><rect x="800" width="8" height="8" fill="#440154"/><rect x="807" width="8" height="8" fill="#440154"/><rect x="814" width="8" height="8" fill="#440154"/><rect x="822" width="8" height="8" fill="#440154"/><rect x="829" width="8" height="8" fill="#440154"/><rect x="836" width="8" height="8" fill="#440154"/><rect x="843" width="8" height="8" fill="#440154"/><rect x="850" width="8" height="8" fill="#440154"/><rect x="857" width="8" height="8" fill="#440154"/><rect x="864" width="8" height="8" fill="#440154"/><rect x="871" width="8" height="8" fill="#440154"/><rect x="879" width="8" height="8" fill="#440154"/><rect x="886" width="8" height="8" fill="#440154"/><rect x="893" width="8" height="8" fill="#3d4b89"/>
</g>
<g transform="translate(0 500)">
<rect x="672" width="8" height="8" fill="#440154"/><rect x="679" width="8" height="8" fill="#440154"/><rect x="686" width="8" height="8" fill="#440154"/><rect x="693" width="8" height="8" fill="#440154"/><rect x="700" width="8" height="8" fill="#440154"/><rect x="708" width="8" height="8" fill="#440154"/><rect x="715" width="8" height="8" fill="#440154"/><rect x="722" width="8" height="8" fill="#440154"/><rect x="729" width="8" height="8" fill="#440154"/><rect x="736" width="8" height="8" fill="#440154"/><rect x="743" width="8" height="8" fill="#440154"/><rect x="750" width="8" height="8" fill="#440154"/><rect x="757" width="8" height="8" fill="#440154"/><rect x="765" width="8" height="8" fill="#440154"/><rect x="772" width="8" height="8" fill="#440154"/><rect x="779" width="8" height="8" fill="#440154"/><rect x="786" width="8" height="8" fill="#440154"/><rect x="793" width="8" height="8" fill="#440154"/><rect x="800" width="8" height="8" fill="#440154"/><rect x="807" width="8" height="8" fill="#440154"/><rect x="814" width="8" height="8" fill="#440154"/><rect x="822" width="8" height="8" fill="#440154"/><rect x="829" width="8" height="8" fill="#440154"/><rect x="836" width="8" height="8" fill="#440154"/><rect x="843" width="8" height="8" fill="#440154"/><rect x="850" width="8" height="8" fill="#440154"/><rect x="857" width="8" height="8" fill="#440154"/><rect x="864" width="8" height="8" fill="#440154"/><rect x="871" width="8" height="8" fill="#440154"/><rect x="879" width="8" height="8" fill="#440154"/><rect x="886" width="8" height="8" fill="#440154"/><rect x="893" width="8" height="8" fill="#2e6b8e"/>
</g>
<g transform="translate(0 507)">
<rect x="672" width="8" height="8" fill="#440154"/><rect x="679" width="8" height="8" fill="#440154"/><rect x="686" width="8" height="8" fill="#440154"/><rect x="693" width="8" height="8" fill="#440154"/><rect x="700" width="8" height="8" fill="#440154"/><rect x="708" width="8" height="8" fill="#440154"/><rect x="715" width="8" height="8" fill="#440154"/><rect x="722" width="8" height="8" fill="#440154"/><rect x="729" width="8" height="8" fill="#440154"/><rect x="736" width="8" height="8" fill="#440154"/><rect x="743" width="8" height="8" fill="#440154"/><rect x="750" width="8" height="8" fill="#440154"/><rect x="757" width="8" height="8" fill="#440154"/><rect x="765" width="8" height="8" fill="#440154"/><rect x="772" width="8" height="8" fill="#440154"/><rect x="779" width="8" height="8" fill="#440154"/><rect x="786" width="8" height="8" fill="#440154"/><rect x="793" width="8" height="8" fill="#440154"/><rect x="800" width="8" height="8" fill="#440154"/><rect x="807" width="8" height="8" fill="#440154"/><rect x="814" width="8" height="8" fill="#440154"/><rect x="822" width="8" height="8" fill="#440154"/><rect x="829" width="8" height="8" fill="#440154"/><rect x="836" width="8" height="8" fill="#440154"/><rect x="843" width="8" height="8" fill="#440154"/><rect x="850" width="8" height="8" fill="#440154"/><rect x="857" width="8" height="8" fill="#440154"/><rect x="864" width="8" height="8" fill="#440154"/><rect x="871" width="8" height="8" fill="#440154"/><rect x="879" width="8" height="8" fill="#440154"/><rect x="886" width="8" height="8" fill="#440154"/><rect x="893" width="8" height="8" fill="#472676"/>
</g>
<g transform="translate(0 514)">
<rect x="672" width="8" height="8" fill="#440154"/><rect x="679" width="8" height="8" fill="#440154"/><rect x="686" width="8" height="8" fill="#440154"/><rect x="693" width="8" height="8" fill="#440154"/><rect x="700" width="8" height="8" fill="#440154"/><rect x="708" width="8" height="8" fill="#440154"/><rect x="715" width="8" height="8" fill="#440154"/><rect x="722" width="8" height="8" fill="#440154"/><rect x="729" width="8" height="8" fill="#440154"/><rect x="736" width="8" height="8" fill="#440154"/><rect x="743" width="8" height="8" fill="#440154"/><rect x="750" width="8" height="8" fill="#440154"/><rect x="757" width="8" height="8" fill="#440154"/><rect x="765" width="8" height="8" fill="#440154"/><rect x="772" width="8" height="8" fill="#440154"/><rect x="779" width="8" height="8" fill="#440154"/><rect x="786" width="8" height="8" fill="#440154"/><rect x="793" width="8" height="8" fill="#440154"/><rect x="800" width="8" height="8" fill="#440154"/><rect x="807" width="8" height="8" fill="#440154"/><rect x="814" width="8" height="8" fill="#440154"/><rect x="822" width="8" height="8" fill="#440154"/><rect x="829" width="8" height="8" fill="#440154"/><rect x="836" width="8" height="8" fill="#440154"/><rect x="843" width="8" height="8" fill="#440154"/><rect x="850" width="8" height="8" fill="#440154"/><rect x="857" width="8" height="8" fill="#440154"/><rect x="864" width="8" height="8" fill="#440154"/><rect x="871" width="8" height="8" fill="#440154"/><rect x="879" width="8" height="8" fill="#440154"/><rect x="886" width="8" height="8" fill="#440154"/><rect x="893" width="8" height="8" fill="#470f62"/>
</g>
<g transform="translate(0 521)">
<rect x="672" width="8" height="8" fill="#440154"/><rect x="679" width="8" height="8" fill="#440154"/><rect x="686" width="8" height="8" fill="#440154"/><rect x="693" width="8" height="8" fill="#440154"/><rect x="700" width="8" height="8" fill="#440154"/><rect x="708" width="8" height="8" fill="#440154"/><rect x="715" width="8" height="8" fill="#440154"/><rect x="722" width="8" height="8" fill="#440154"/><rect x="729" width="8" height="8" fill="#440154"/><rect x="736" width="8" height="8" fill="#440154"/><rect x="743" width="8" height="8" fill="#440154"/><rect x="750" width="8" height="8" fill="#440154"/><rect x="757" width="8" height="8" fill="#440154"/><rect x="765" width="8" height="8" fill="#440154"/><rect x="772" width="8" height="8" fill="#440154"/><rect x="779" width="8" height="8" fill="#440154"/><rect x="786" width="8" height="8" fill="#440154"/><rect x="793" width="8" height="8" fill="#440154"/><rect x="800" width="8" height="8" fill="#440154"/><rect x="807" width="8" height="8" fill="#440154"/><rect x="814" width="8" height="8" fill="#440154"/><rect x="822" width="8" height="8" fill="#440154"/><rect x="829" width="8" height="8" fill="#440154"/><rect x="836" width="8" height="8" fill="#440154"/><rect x="843" width="8" height="8" fill="#440154"/><rect x="850" width="8" height="8" fill="#440154"/><rect x="857" width="8" height="8" fill="#440154"/><rect x="864" width="8" height="8" fill="#440154"/><rect x="871" width="8" height="8" fill="#440154"/><rect x="879" width="8" height="8" fill="#440154"/><rect x="886" width="8" height="8" fill="#440154"/><rect x="893" width="8" height="8" fill="#46095c"/>
</g>
<g transform="translate(0 528)">
<rect x="672" width="8" height="8" fill="#440154"/><rect x="679" width="8" height="8" fill="#440154"/><rect x="686" width="8" height="8" fill="#440154"/><rect x="693" width="8" height="8" fill="#440154"/><rect x="700" width="8" height="8" fill="#440154"/><rect x="708" width="8" height="8" fill="#440154"/><rect x="715" width="8" height="8" fill="#440154"/><rect x="722" width="8" height="8" fill="#440154"/><rect x="729" width="8" height="8" fill="#440154"/><rect x="736" width="8" height="8" fill="#440154"/><rect x="743" width="8" height="8" fill="#440154"/><rect x="750" width="8" height="8" fill="#440154"/><rect x="757" width="8" height="8" fill="#440154"/><rect x="765" width="8" height="8" fill="#440154"/><rect x="772" width="8" height="8" fill="#440154"/><rect x="779" width="8" height="8" fill="#440154"/><rect x="786" width="8" height="8" fill="#440154"/><rect x="793" width="8" height="8" fill="#440154"/><rect x="800" width="8" height="8" fill="#440154"/><rect x="807" width="8" height="8" fill="#440154"/><rect x="814" width="8" height="8" fill="#440154"/><rect x="822" width="8" height="8" fill="#440154"/><rect x="829" width="8" height="8" fill="#440154"/><rect x="836" width="8" height="8" fill="#440154"/><rect x="843" width="8" height="8" fill="#440154"/><rect x="850" width="8" height="8" fill="#440154"/><rect x="857" width="8" height="8" fill="#440154"/><rect x="864" width="8" height="8" fill="#440154"/><rect x="871" width="8" height="8" fill="#440154"/><rect x="879" width="8" height="8" fill="#440154"/><rect x="886" width="8" height="8" fill="#440154"/><rect x="893" width="8" height="8" fill="#472575"/>
</g>
<g transform="translate(0 535)">
<rect x="672" width="8" height="8" fill="#440154"/><rect x="679" width="8" height="8" fill="#440154"/><rect x="686" width="8" height="8" fill="#440154"/><rect x="693" width="8" height="8" fill="#440154"/><rect x="700" width="8" height="8" fill="#440154"/><rect x="708" width="8" height="8" fill="#440154"/><rect x="715" width="8" height="8" fill="#440154"/><rect x="722" width="8" height="8" fill="#440154"/><rect x="729" width="8" height="8" fill="#440154"/><rect x="736" width="8" height="8" fill="#440154"/><rect x="743" width="8" height="8" fill="#440154"/><rect x="750" width="8" height="8" fill="#440154"/><rect x="757" width="8" height="8" fill="#440154"/><rect x="765" width="8" height="8" fill="#440154"/><rect x="772" width="8" height="8" fill="#440154"/><rect x="779" width="8" height="8" fill="#440154"/><rect x="786" width="8" height="8" fill="#440154"/><rect x="793" width="8" height="8" fill="#440154"/><rect x="800" width="8" height="8" fill="#440154"/><rect x="807" width="8" height="8" fill="#440154"/><rect x="814" width="8" height="8" fill="#440154"/><rect x="822" width="8" height="8" fill="#440154"/><rect x="829" width="8" height="8" fill="#440154"/><rect x="836" width="8" height="8" fill="#440154"/><rect x="843" width="8" height="8" fill="#440154"/><rect x="850" width="8" height="8" fill="#440154"/><rect x="857" width="8" height="8" fill="#440154"/><rect x="864" width="8" height="8" fill="#440154"/><rect x="871" width="8" height="8" fill="#440154"/><rect x="879" width="8" height="8" fill="#440154"/><rect x="886" width="8" height="8" fill="#440154"/><rect x="893" width="8" height="8" fill="#3e4989"/>
</g>
<g transform="translate(0 542)">
<rect x="672" width="8" height="8" fill="#440154"/><rect x="679" width="8" height="8" fill="#440154"/><rect x="686" width="8" height="8" fill="#440154"/><rect x="693" width="8" height="8" fill="#440154"/><rect x="700" width="8" height="8" fill="#440154"/><rect x="708" width="8" height="8" fill="#440154"/><rect x="715" width="8" height="8" fill="#440154"/><rect x="722" width="8" height="8" fill="#440154"/><rect x="729" width="8" height="8" fill="#440154"/><rect x="736" width="8" height="8" fill="#440154"/><rect x="743" width="8" height="8" fill="#440154"/><rect x="750" width="8" height="8" fill="#440154"/><rect x="757" width="8" height="8" fill="#440154"/><rect x="765" width="8" height="8" fill="#440154"/><rect x="772" width="8" height="8" fill="#440154"/><rect x="779" width="8" height="8" fill="#440154"/><rect x="786" width="8" height="8" fill="#440154"/><rect x="793" width="8" height="8" fill="#440154"/><rect x="800" width="8" height="8" fill="#440154"/><rect x="807" width="8" height="8" fill="#440154"/><rect x="814" width="8" height="8" fill="#440154"/><rect x="822" width="8" height="8" fill="#440154"/><rect x="829" width="8" height="8" fill="#440154"/><rect x="836" width="8" height="8" fill="#440154"/><rect x="843" width="8" height="8" fill="#440154"/><rect x="850" width="8" height="8" fill="#440154"/><rect x="857" width="8" height="8" fill="#440154"/><rect x="864" width="8" height="8" fill="#440154"/><rect x="871" width="8" height="8" fill="#440154"/><rect x="879" width="8" height="8" fill="#440154"/><rect x="886" width="8" height="8" fill="#440154"/><rect x="893" width="8" height="8" fill="#2d6e8e"/>
</g>
<g transform="translate(0 549)">
<rect x="672" width="8" height="8" fill="#440154"/><rect x="679" width="8" height="8" fill="#440154"/><rect x="686" width="8" height="8" fill="#440154"/><rect x="693" width="8" height="8" fill="#440154"/><rect x="700" width="8" height="8" fill="#440154"/><rect x="708" width="8" height="8" fill="#440154"/><rect x="715" width="8" height="8" fill="#440154"/><rect x="722" width="8" height="8" fill="#440154"/><rect x="729" width="8" height="8" fill="#440154"/><rect x="736" width="8" height="8" fill="#440154"/><rect x="743" width="8" height="8" fill="#440154"/><rect x="750" width="8" height="8" fill="#440154"/><rect x="757" width="8" height="8" fill="#440154"/><rect x="765" width="8" height="8" fill="#440154"/><rect x="772" width="8" height="8" fill="#440154"/><rect x="779" width="8" height="8" fill="#440154"/><rect x="786" width="8" height="8" fill="#440154"/><rect x="793" width="8" height="8" fill="#440154"/><rect x="800" width="8" height="8" fill="#440154"/><rect x="807" width="8" height="8" fill="#440154"/><rect x="814" width="8" height="8" fill="#440154"/><rect x="822" width="8" height="8" fill="#440154"/><rect x="829" width="8" height="8" fill="#440154"/><rect x="836" width="8" height="8" fill="#440154"/><rect x="843" width="8" height="8" fill="#440154"/><rect x="850" width="8" height="8" fill="#440154"/><rect x="857" width="8" height="8" fill="#440154"/><rect x="864" width="8" height="8" fill="#440154"/><rect x="871" width="8" height="8" fill="#440154"/><rect x="879" width="8" height="8" fill="#440154"/><rect x="886" width="8" height="8" fill="#440154"/><rect x="893" width="8" height="8" fill="#482273"/>
</g>
<g transform="translate(0 557)">
<rect x="672" width="8" height="8" fill="#440154"/><rect x="679" width="8" height="8" fill="#440154"/><rect x="686" width="8" height="8" fill="#440154"/><rect x="693" width="8" height="8" fill="#440154"/><rect x="700" width="8" height="8" fill="#440154"/><rect x="708" width="8" height="8" fill="#440154"/><rect x="715" width="8" height="8" fill="#440154"/><rect x="722" width="8" height="8" fill="#440154"/><rect x="729" width="8" height="8" fill="#440154"/><rect x="736" width="8" height="8" fill="#440154"/><rect x="743" width="8" height="8" fill="#440154"/><rect x="750" width="8" height="8" fill="#440154"/><rect x="757" width="8" height="8" fill="#440154"/><rect x="765" width="8" height="8" fill="#440154"/><rect x="772" width="8" height="8" fill="#440154"/><rect x="779" width="8" height="8" fill="#440154"/><rect x="786" width="8" height="8" fill="#440154"/><rect x="793" width="8" height="8" fill="#440154"/><rect x="800" width="8" height="8" fill="#440154"/><rect x="807" width="8" height="8" fill="#440154"/><rect x="814" width="8" height="8" fill="#440154"/><rect x="822" width="8" height="8" fill="#440154"/><rect x="829" width="8" height="8" fill="#440154"/><rect x="836" width="8" height="8" fill="#440154"/><rect x="843" width="8" height="8" fill="#440154"/><rect x="850" width="8" height="8" fill="#440154"/><rect x="857" width="8" height="8" fill="#440154"/><rect x="864" width="8" height="8" fill="#440154"/><rect x="871" width="8" height="8" fill="#440154"/><rect x="879" width="8" height="8" fill="#440154"/><rect x="886" width="8" height="8" fill="#440154"/><rect x="893" width="8" height="8" fill="#460b5e"/>
</g>
<g transform="translate(0 564)">
<rect x="672" width="8" height="8" fill="#440154"/><rect x="679" width="8" height="8" fill="#440154"/><rect x="686" width="8" height="8" fill="#440154"/><rect x="693" width="8" height="8" fill="#440154"/><rect x="700" width="8" height="8" fill="#440154"/><rect x="708" width="8" height="8" fill="#440154"/><rect x="715" width="8" height="8" fill="#440154"/><rect x="722" width="8" height="8" fill="#440154"/><rect x="729" width="8" height="8" fill="#440154"/><rect x="736" width="8" height="8" fill="#440154"/><rect x="743" width="8" height="8" fill="#440154"/><rect x="750" width="8" height="8" fill="#440154"/><rect x="757" width="8" height="8" fill="#440154"/><rect x="765" width="8" height="8" fill="#440154"/><rect x="772" width="8" height="8" fill="#440154"/><rect x="779" width="8" height="8" fill="#440154"/><rect x="786" width="8" height="8" fill="#440154"/><rect x="793" width="8" height="8" fill="#440154"/><rect x="800" width="8" height="8" fill="#440154"/><rect x="807" width="8" height="8" fill="#440154"/><rect x="814" width="8" height="8" fill="#440154"/><rect x="822" width="8" height="8" fill="#440154"/><rect x="829" width="8" height="8" fill="#440154"/><rect x="836" width="8" height="8" fill="#440154"/><rect x="843" width="8" height="8" fill="#440154"/><rect x="850" width="8" height="8" fill="#440154"/><rect x="857" width="8" height="8" fill="#440154"/><rect x="864" width="8" height="8" fill="#440154"/><rect x="871" width="8" height="8" fill="#440154"/><rect x="879" width="8" height="8" fill="#440154"/><rect x="886" width="8" height="8" fill="#440154"/><rect x="893" width="8" height="8" fill="#460b5e"/>
</g>
<g transform="translate(0 571)">
<rect x="672" width="8" height="8" fill="#440154"/><rect x="679" width="8" height="8" fill="#482273"/><rect x="686" width="8" height="8" fill="#414186"/><rect x="693" width="8" height="8" fill="#355c8c"/><rect x="700" width="8" height="8" fill="#433a83"/><rect x="708" width="8" height="8" fill="#481d6f"/><rect x="715" width="8" height="8" fill="#440357"/><rect x="722" width="8" height="8" fill="#fde724"/><rect x="729" width="8" height="8" fill="#b7dd29"/><rect x="736" width="8" height="8" fill="#74d054"/><rect x="743" width="8" height="8" fill="#45327f"/><rect x="750" width="8" height="8" fill="#48196b"/><rect x="757" width="8" height="8" fill="#450558"/><rect x="765" width="8" height="8" fill="#472777"/><rect x="772" width="8" height="8" fill="#3d4a89"/><rect x="779" width="8" height="8" fill="#30678d"/><rect x="786" width="8" height="8" fill="#472c7b"/><rect x="793" width="8" height="8" fill="#471466"/><rect x="800" width="8" height="8" fill="#45085b"/><rect x="807" width="8" height="8" fill="#fae622"/><rect x="814" width="8" height="8" fill="#addc30"/><rect x="822" width="8" height="8" fill="#60c960"/><rect x="829" width="8" height="8" fill="#472676"/><rect x="836" width="8" height="8" fill="#470f62"/><rect x="843" width="8" height="8" fill="#46095c"/><rect x="850" width="8" height="8" fill="#472575"/><rect x="857" width="8" height="8" fill="#3e4989"/><rect x="864" width="8" height="8" fill="#2d6e8e"/><rect x="871" width="8" height="8" fill="#482273"/><rect x="879" width="8" height="8" fill="#460b5e"/><rect x="886" width="8" height="8" fill="#460b5e"/><rect x="893" width="8" height="8" fill="#440154"/>
</g>
</g>
<rect x="124" y="78" width="1" height="228" fill="#f1f1f1"/><rect x="354" y="78" width="1" height="228" fill="#f1f1f1"/><rect x="125" y="77" width="228" height="1" fill="#f1f1f1"/><rect x="125" y="307" width="228" height="1" fill="#f1f1f1"/><rect x="126" y="305" width="227" height="1" fill="#f1f1f1"/><rect x="126" y="79" width="1" height="226" fill="#000" fill-opacity="0.06"/><rect x="352" y="79" width="1" height="226" fill="#000" fill-opacity="0.055"/><rect x="127" y="79" width="225" height="1" fill="#000" fill-opacity="0.06"/><rect x="125" y="78" width="229" height="1" fill="#000"/><rect x="125" y="306" width="229" height="1" fill="#000"/><rect x="125" y="78" width="1" height="229" fill="#000"/><rect x="353" y="78" width="1" height="229" fill="#000"/><rect x="121" y="81" width="3" height="1" fill="#f1f1f1"/><rect x="121" y="83" width="3" height="1" fill="#f1f1f1"/><rect x="121" y="82" width="4" height="1" fill="#000"/><rect x="120" y="82" width="1" height="1" fill="#7f7f7f"/><rect x="121" y="116" width="3" height="1" fill="#f1f1f1"/><rect x="121" y="118" width="3" height="1" fill="#f1f1f1"/><rect x="121" y="117" width="4" height="1" fill="#000"/><rect x="120" y="117" width="1" height="1" fill="#7f7f7f"/><rect x="121" y="152" width="3" height="1" fill="#f1f1f1"/><rect x="121" y="154" width="3" height="1" fill="#f1f1f1"/><rect x="121" y="153" width="4" height="1" fill="#000"/><rect x="120" y="153" width="1" height="1" fill="#7f7f7f"/><rect x="121" y="187" width="3" height="1" fill="#f1f1f1"/><rect x="121" y="189" width="3" height="1" fill="#f1f1f1"/><rect x="121" y="188" width="4" height="1" fill="#000"/><rect x="120" y="188" width="1" height="1" fill="#7f7f7f"/><rect x="121" y="223" width="3" height="1" fill="#f1f1f1"/><rect x="121" y="225" width="3" height="1" fill="#f1f1f1"/><rect x="121" y="224" width="4" height="1" fill="#000"/><rect x="120" y="224" width="1" height="1" fill="#7f7f7f"/><rect x="121" y="258" width="3" height="1" fill="#f1f1f1"/><rect x="121" y="260" width="3" height="1" fill="#f1f1f1"/><rect x="121" y="259" width="4" height="1" fill="#000"/><rect x="120" y="259" width="1" height="1" fill="#7f7f7f"/><rect x="121" y="294" width="3" height="1" fill="#f1f1f1"/><rect x="121" y="296" width="3" height="1" fill="#f1f1f1"/><rect x="121" y="295" width="4" height="1" fill="#000"/><rect x="120" y="295" width="1" height="1" fill="#7f7f7f"/><rect x="128" y="308" width="1" height="3" fill="#f1f1f1"/><rect x="130" y="308" width="1" height="3" fill="#f1f1f1"/><rect x="129" y="307" width="1" height="4" fill="#000"/><rect x="129" y="311" width="1" height="1" fill="#7f7f7f"/><rect x="199" y="308" width="1" height="3" fill="#f1f1f1"/><rect x="201" y="308" width="1" height="3" fill="#f1f1f1"/><rect x="200" y="307" width="1" height="4" fill="#000"/><rect x="200" y="311" width="1" height="1" fill="#7f7f7f"/><rect x="270" y="308" width="1" height="3" fill="#f1f1f1"/><rect x="272" y="308" width="1" height="3" fill="#f1f1f1"/><rect x="271" y="307" width="1" height="4" fill="#000"/><rect x="271" y="311" width="1" height="1" fill="#7f7f7f"/><rect x="341" y="308" width="1" height="3" fill="#f1f1f1"/><rect x="343" y="308" width="1" height="3" fill="#f1f1f1"/><rect x="342" y="307" width="1" height="4" fill="#000"/><rect x="342" y="311" width="1" height="1" fill="#7f7f7f"/>
<rect x="124" y="351" width="1" height="228" fill="#f1f1f1"/><rect x="354" y="351" width="1" height="228" fill="#f1f1f1"/><rect x="125" y="350" width="228" height="1" fill="#f1f1f1"/><rect x="125" y="580" width="228" height="1" fill="#f1f1f1"/><rect x="126" y="578" width="227" height="1" fill="#f1f1f1"/><rect x="126" y="352" width="1" height="226" fill="#000" fill-opacity="0.06"/><rect x="352" y="352" width="1" height="226" fill="#000" fill-opacity="0.055"/><rect x="127" y="352" width="225" height="1" fill="#000" fill-opacity="0.06"/><rect x="125" y="351" width="229" height="1" fill="#000"/><rect x="125" y="579" width="229" height="1" fill="#000"/><rect x="125" y="351" width="1" height="229" fill="#000"/><rect x="353" y="351" width="1" height="229" fill="#000"/><rect x="121" y="354" width="3" height="1" fill="#f1f1f1"/><rect x="121" y="356" width="3" height="1" fill="#f1f1f1"/><rect x="121" y="355" width="4" height="1" fill="#000"/><rect x="120" y="355" width="1" height="1" fill="#7f7f7f"/><rect x="121" y="389" width="3" height="1" fill="#f1f1f1"/><rect x="121" y="391" width="3" height="1" fill="#f1f1f1"/><rect x="121" y="390" width="4" height="1" fill="#000"/><rect x="120" y="390" width="1" height="1" fill="#7f7f7f"/><rect x="121" y="425" width="3" height="1" fill="#f1f1f1"/><rect x="121" y="427" width="3" height="1" fill="#f1f1f1"/><rect x="121" y="426" width="4" height="1" fill="#000"/><rect x="120" y="426" width="1" height="1" fill="#7f7f7f"/><rect x="121" y="460" width="3" height="1" fill="#f1f1f1"/><rect x="121" y="462" width="3" height="1" fill="#f1f1f1"/><rect x="121" y="461" width="4" height="1" fill="#000"/><rect x="120" y="461" width="1" height="1" fill="#7f7f7f"/><rect x="121" y="496" width="3" height="1" fill="#f1f1f1"/><rect x="121" y="498" width="3" height="1" fill="#f1f1f1"/><rect x="121" y="497" width="4" height="1" fill="#000"/><rect x="120" y="497" width="1" height="1" fill="#7f7f7f"/><rect x="121" y="531" width="3" height="1" fill="#f1f1f1"/><rect x="121" y="533" width="3" height="1" fill="#f1f1f1"/><rect x="121" y="532" width="4" height="1" fill="#000"/><rect x="120" y="532" width="1" height="1" fill="#7f7f7f"/><rect x="121" y="567" width="3" height="1" fill="#f1f1f1"/><rect x="121" y="569" width="3" height="1" fill="#f1f1f1"/><rect x="121" y="568" width="4" height="1" fill="#000"/><rect x="120" y="568" width="1" height="1" fill="#7f7f7f"/><rect x="128" y="581" width="1" height="3" fill="#f1f1f1"/><rect x="130" y="581" width="1" height="3" fill="#f1f1f1"/><rect x="129" y="580" width="1" height="4" fill="#000"/><rect x="129" y="584" width="1" height="1" fill="#7f7f7f"/><rect x="199" y="581" width="1" height="3" fill="#f1f1f1"/><rect x="201" y="581" width="1" height="3" fill="#f1f1f1"/><rect x="200" y="580" width="1" height="4" fill="#000"/><rect x="200" y="584" width="1" height="1" fill="#7f7f7f"/><rect x="270" y="581" width="1" height="3" fill="#f1f1f1"/><rect x="272" y="581" width="1" height="3" fill="#f1f1f1"/><rect x="271" y="580" width="1" height="4" fill="#000"/><rect x="271" y="584" width="1" height="1" fill="#7f7f7f"/><rect x="341" y="581" width="1" height="3" fill="#f1f1f1"/><rect x="343" y="581" width="1" height="3" fill="#f1f1f1"/><rect x="342" y="580" width="1" height="4" fill="#000"/><rect x="342" y="584" width="1" height="1" fill="#7f7f7f"/>
<rect x="398" y="78" width="1" height="228" fill="#f1f1f1"/><rect x="627" y="78" width="1" height="228" fill="#f1f1f1"/><rect x="399" y="77" width="227" height="1" fill="#f1f1f1"/><rect x="399" y="307" width="227" height="1" fill="#f1f1f1"/><rect x="400" y="305" width="226" height="1" fill="#f1f1f1"/><rect x="400" y="79" width="1" height="226" fill="#000" fill-opacity="0.06"/><rect x="625" y="79" width="1" height="226" fill="#000" fill-opacity="0.055"/><rect x="401" y="79" width="224" height="1" fill="#000" fill-opacity="0.06"/><rect x="399" y="78" width="228" height="1" fill="#000"/><rect x="399" y="306" width="228" height="1" fill="#000"/><rect x="399" y="78" width="1" height="229" fill="#000"/><rect x="626" y="78" width="1" height="229" fill="#000"/><rect x="395" y="81" width="3" height="1" fill="#f1f1f1"/><rect x="395" y="83" width="3" height="1" fill="#f1f1f1"/><rect x="395" y="82" width="4" height="1" fill="#000"/><rect x="394" y="82" width="1" height="1" fill="#7f7f7f"/><rect x="395" y="116" width="3" height="1" fill="#f1f1f1"/><rect x="395" y="118" width="3" height="1" fill="#f1f1f1"/><rect x="395" y="117" width="4" height="1" fill="#000"/><rect x="394" y="117" width="1" height="1" fill="#7f7f7f"/><rect x="395" y="152" width="3" height="1" fill="#f1f1f1"/><rect x="395" y="154" width="3" height="1" fill="#f1f1f1"/><rect x="395" y="153" width="4" height="1" fill="#000"/><rect x="394" y="153" width="1" height="1" fill="#7f7f7f"/><rect x="395" y="187" width="3" height="1" fill="#f1f1f1"/><rect x="395" y="189" width="3" height="1" fill="#f1f1f1"/><rect x="395" y="188" width="4" height="1" fill="#000"/><rect x="394" y="188" width="1" height="1" fill="#7f7f7f"/><rect x="395" y="223" width="3" height="1" fill="#f1f1f1"/><rect x="395" y="225" width="3" height="1" fill="#f1f1f1"/><rect x="395" y="224" width="4" height="1" fill="#000"/><rect x="394" y="224" width="1" height="1" fill="#7f7f7f"/><rect x="395" y="258" width="3" height="1" fill="#f1f1f1"/><rect x="395" y="260" width="3" height="1" fill="#f1f1f1"/><rect x="395" y="259" width="4" height="1" fill="#000"/><rect x="394" y="259" width="1" height="1" fill="#7f7f7f"/><rect x="395" y="294" width="3" height="1" fill="#f1f1f1"/><rect x="395" y="296" width="3" height="1" fill="#f1f1f1"/><rect x="395" y="295" width="4" height="1" fill="#000"/><rect x="394" y="295" width="1" height="1" fill="#7f7f7f"/><rect x="401" y="308" width="1" height="3" fill="#f1f1f1"/><rect x="403" y="308" width="1" height="3" fill="#f1f1f1"/><rect x="402" y="307" width="1" height="4" fill="#000"/><rect x="402" y="311" width="1" height="1" fill="#7f7f7f"/><rect x="472" y="308" width="1" height="3" fill="#f1f1f1"/><rect x="474" y="308" width="1" height="3" fill="#f1f1f1"/><rect x="473" y="307" width="1" height="4" fill="#000"/><rect x="473" y="311" width="1" height="1" fill="#7f7f7f"/><rect x="543" y="308" width="1" height="3" fill="#f1f1f1"/><rect x="545" y="308" width="1" height="3" fill="#f1f1f1"/><rect x="544" y="307" width="1" height="4" fill="#000"/><rect x="544" y="311" width="1" height="1" fill="#7f7f7f"/><rect x="615" y="308" width="1" height="3" fill="#f1f1f1"/><rect x="617" y="308" width="1" height="3" fill="#f1f1f1"/><rect x="616" y="307" width="1" height="4" fill="#000"/><rect x="616" y="311" width="1" height="1" fill="#7f7f7f"/>
<rect x="398" y="351" width="1" height="228" fill="#f1f1f1"/><rect x="627" y="351" width="1" height="228" fill="#f1f1f1"/><rect x="399" y="350" width="227" height="1" fill="#f1f1f1"/><rect x="399" y="580" width="227" height="1" fill="#f1f1f1"/><rect x="400" y="578" width="226" height="1" fill="#f1f1f1"/><rect x="400" y="352" width="1" height="226" fill="#000" fill-opacity="0.06"/><rect x="625" y="352" width="1" height="226" fill="#000" fill-opacity="0.055"/><rect x="401" y="352" width="224" height="1" fill="#000" fill-opacity="0.06"/><rect x="399" y="351" width="228" height="1" fill="#000"/><rect x="399" y="579" width="228" height="1" fill="#000"/><rect x="399" y="351" width="1" height="229" fill="#000"/><rect x="626" y="351" width="1" height="229" fill="#000"/><rect x="395" y="354" width="3" height="1" fill="#f1f1f1"/><rect x="395" y="356" width="3" height="1" fill="#f1f1f1"/><rect x="395" y="355" width="4" height="1" fill="#000"/><rect x="394" y="355" width="1" height="1" fill="#7f7f7f"/><rect x="395" y="389" width="3" height="1" fill="#f1f1f1"/><rect x="395" y="391" width="3" height="1" fill="#f1f1f1"/><rect x="395" y="390" width="4" height="1" fill="#000"/><rect x="394" y="390" width="1" height="1" fill="#7f7f7f"/><rect x="395" y="425" width="3" height="1" fill="#f1f1f1"/><rect x="395" y="427" width="3" height="1" fill="#f1f1f1"/><rect x="395" y="426" width="4" height="1" fill="#000"/><rect x="394" y="426" width="1" height="1" fill="#7f7f7f"/><rect x="395" y="460" width="3" height="1" fill="#f1f1f1"/><rect x="395" y="462" width="3" height="1" fill="#f1f1f1"/><rect x="395" y="461" width="4" height="1" fill="#000"/><rect x="394" y="461" width="1" height="1" fill="#7f7f7f"/><rect x="395" y="496" width="3" height="1" fill="#f1f1f1"/><rect x="395" y="498" width="3" height="1" fill="#f1f1f1"/><rect x="395" y="497" width="4" height="1" fill="#000"/><rect x="394" y="497" width="1" height="1" fill="#7f7f7f"/><rect x="395" y="531" width="3" height="1" fill="#f1f1f1"/><rect x="395" y="533" width="3" height="1" fill="#f1f1f1"/><rect x="395" y="532" width="4" height="1" fill="#000"/><rect x="394" y="532" width="1" height="1" fill="#7f7f7f"/><rect x="395" y="567" width="3" height="1" fill="#f1f1f1"/><rect x="395" y="569" width="3" height="1" fill="#f1f1f1"/><rect x="395" y="568" width="4" height="1" fill="#000"/><rect x="394" y="568" width="1" height="1" fill="#7f7f7f"/><rect x="401" y="581" width="1" height="3" fill="#f1f1f1"/><rect x="403" y="581" width="1" height="3" fill="#f1f1f1"/><rect x="402" y="580" width="1" height="4" fill="#000"/><rect x="402" y="584" width="1" height="1" fill="#7f7f7f"/><rect x="472" y="581" width="1" height="3" fill="#f1f1f1"/><rect x="474" y="581" width="1" height="3" fill="#f1f1f1"/><rect x="473" y="580" width="1" height="4" fill="#000"/><rect x="473" y="584" width="1" height="1" fill="#7f7f7f"/><rect x="543" y="581" width="1" height="3" fill="#f1f1f1"/><rect x="545" y="581" width="1" height="3" fill="#f1f1f1"/><rect x="544" y="580" width="1" height="4" fill="#000"/><rect x="544" y="584" width="1" height="1" fill="#7f7f7f"/><rect x="615" y="581" width="1" height="3" fill="#f1f1f1"/><rect x="617" y="581" width="1" height="3" fill="#f1f1f1"/><rect x="616" y="580" width="1" height="4" fill="#000"/><rect x="616" y="584" width="1" height="1" fill="#7f7f7f"/>
<rect x="671" y="78" width="1" height="228" fill="#f1f1f1"/><rect x="901" y="78" width="1" height="228" fill="#f1f1f1"/><rect x="672" y="77" width="228" height="1" fill="#f1f1f1"/><rect x="672" y="307" width="228" height="1" fill="#f1f1f1"/><rect x="673" y="305" width="227" height="1" fill="#f1f1f1"/><rect x="673" y="79" width="1" height="226" fill="#000" fill-opacity="0.06"/><rect x="899" y="79" width="1" height="226" fill="#000" fill-opacity="0.055"/><rect x="674" y="79" width="225" height="1" fill="#000" fill-opacity="0.06"/><rect x="672" y="78" width="229" height="1" fill="#000"/><rect x="672" y="306" width="229" height="1" fill="#000"/><rect x="672" y="78" width="1" height="229" fill="#000"/><rect x="900" y="78" width="1" height="229" fill="#000"/><rect x="668" y="81" width="3" height="1" fill="#f1f1f1"/><rect x="668" y="83" width="3" height="1" fill="#f1f1f1"/><rect x="668" y="82" width="4" height="1" fill="#000"/><rect x="667" y="82" width="1" height="1" fill="#7f7f7f"/><rect x="668" y="116" width="3" height="1" fill="#f1f1f1"/><rect x="668" y="118" width="3" height="1" fill="#f1f1f1"/><rect x="668" y="117" width="4" height="1" fill="#000"/><rect x="667" y="117" width="1" height="1" fill="#7f7f7f"/><rect x="668" y="152" width="3" height="1" fill="#f1f1f1"/><rect x="668" y="154" width="3" height="1" fill="#f1f1f1"/><rect x="668" y="153" width="4" height="1" fill="#000"/><rect x="667" y="153" width="1" height="1" fill="#7f7f7f"/><rect x="668" y="187" width="3" height="1" fill="#f1f1f1"/><rect x="668" y="189" width="3" height="1" fill="#f1f1f1"/><rect x="668" y="188" width="4" height="1" fill="#000"/><rect x="667" y="188" width="1" height="1" fill="#7f7f7f"/><rect x="668" y="223" width="3" height="1" fill="#f1f1f1"/><rect x="668" y="225" width="3" height="1" fill="#f1f1f1"/><rect x="668" y="224" width="4" height="1" fill="#000"/><rect x="667" y="224" width="1" height="1" fill="#7f7f7f"/><rect x="668" y="258" width="3" height="1" fill="#f1f1f1"/><rect x="668" y="260" width="3" height="1" fill="#f1f1f1"/><rect x="668" y="259" width="4" height="1" fill="#000"/><rect x="667" y="259" width="1" height="1" fill="#7f7f7f"/><rect x="668" y="294" width="3" height="1" fill="#f1f1f1"/><rect x="668" y="296" width="3" height="1" fill="#f1f1f1"/><rect x="668" y="295" width="4" height="1" fill="#000"/><rect x="667" y="295" width="1" height="1" fill="#7f7f7f"/><rect x="675" y="308" width="1" height="3" fill="#f1f1f1"/><rect x="677" y="308" width="1" height="3" fill="#f1f1f1"/><rect x="676" y="307" width="1" height="4" fill="#000"/><rect x="676" y="311" width="1" height="1" fill="#7f7f7f"/><rect x="746" y="308" width="1" height="3" fill="#f1f1f1"/><rect x="748" y="308" width="1" height="3" fill="#f1f1f1"/><rect x="747" y="307" width="1" height="4" fill="#000"/><rect x="747" y="311" width="1" height="1" fill="#7f7f7f"/><rect x="817" y="308" width="1" height="3" fill="#f1f1f1"/><rect x="819" y="308" width="1" height="3" fill="#f1f1f1"/><rect x="818" y="307" width="1" height="4" fill="#000"/><rect x="818" y="311" width="1" height="1" fill="#7f7f7f"/><rect x="888" y="308" width="1" height="3" fill="#f1f1f1"/><rect x="890" y="308" width="1" height="3" fill="#f1f1f1"/><rect x="889" y="307" width="1" height="4" fill="#000"/><rect x="889" y="311" width="1" height="1" fill="#7f7f7f"/>
<rect x="671" y="351" width="1" height="228" fill="#f1f1f1"/><rect x="901" y="351" width="1" height="228" fill="#f1f1f1"/><rect x="672" y="350" width="228" height="1" fill="#f1f1f1"/><rect x="672" y="580" width="228" height="1" fill="#f1f1f1"/><rect x="673" y="578" width="227" height="1" fill="#f1f1f1"/><rect x="673" y="352" width="1" height="226" fill="#000" fill-opacity="0.06"/><rect x="899" y="352" width="1" height="226" fill="#000" fill-opacity="0.055"/><rect x="674" y="352" width="225" height="1" fill="#000" fill-opacity="0.06"/><rect x="672" y="351" width="229" height="1" fill="#000"/><rect x="672" y="579" width="229" height="1" fill="#000"/><rect x="672" y="351" width="1" height="229" fill="#000"/><rect x="900" y="351" width="1" height="229" fill="#000"/><rect x="668" y="354" width="3" height="1" fill="#f1f1f1"/><rect x="668" y="356" width="3" height="1" fill="#f1f1f1"/><rect x="668" y="355" width="4" height="1" fill="#000"/><rect x="667" y="355" width="1" height="1" fill="#7f7f7f"/><rect x="668" y="389" width="3" height="1" fill="#f1f1f1"/><rect x="668" y="391" width="3" height="1" fill="#f1f1f1"/><rect x="668" y="390" width="4" height="1" fill="#000"/><rect x="667" y="390" width="1" height="1" fill="#7f7f7f"/><rect x="668" y="425" width="3" height="1" fill="#f1f1f1"/><rect x="668" y="427" width="3" height="1" fill="#f1f1f1"/><rect x="668" y="426" width="4" height="1" fill="#000"/><rect x="667" y="426" width="1" height="1" fill="#7f7f7f"/><rect x="668" y="460" width="3" height="1" fill="#f1f1f1"/><rect x="668" y="462" width="3" height="1" fill="#f1f1f1"/><rect x="668" y="461" width="4" height="1" fill="#000"/><rect x="667" y="461" width="1" height="1" fill="#7f7f7f"/><rect x="668" y="496" width="3" height="1" fill="#f1f1f1"/><rect x="668" y="498" width="3" height="1" fill="#f1f1f1"/><rect x="668" y="497" width="4" height="1" fill="#000"/><rect x="667" y="497" width="1" height="1" fill="#7f7f7f"/><rect x="668" y="531" width="3" height="1" fill="#f1f1f1"/><rect x="668" y="533" width="3" height="1" fill="#f1f1f1"/><rect x="668" y="532" width="4" height="1" fill="#000"/><rect x="667" y="532" width="1" height="1" fill="#7f7f7f"/><rect x="668" y="567" width="3" height="1" fill="#f1f1f1"/><rect x="668" y="569" width="3" height="1" fill="#f1f1f1"/><rect x="668" y="568" width="4" height="1" fill="#000"/><rect x="667" y="568" width="1" height="1" fill="#7f7f7f"/><rect x="675" y="581" width="1" height="3" fill="#f1f1f1"/><rect x="677" y="581" width="1" height="3" fill="#f1f1f1"/><rect x="676" y="580" width="1" height="4" fill="#000"/><rect x="676" y="584" width="1" height="1" fill="#7f7f7f"/><rect x="746" y="581" width="1" height="3" fill="#f1f1f1"/><rect x="748" y="581" width="1" height="3" fill="#f1f1f1"/><rect x="747" y="580" width="1" height="4" fill="#000"/><rect x="747" y="584" width="1" height="1" fill="#7f7f7f"/><rect x="817" y="581" width="1" height="3" fill="#f1f1f1"/><rect x="819" y="581" width="1" height="3" fill="#f1f1f1"/><rect x="818" y="580" width="1" height="4" fill="#000"/><rect x="818" y="584" width="1" height="1" fill="#7f7f7f"/><rect x="888" y="581" width="1" height="3" fill="#f1f1f1"/><rect x="890" y="581" width="1" height="3" fill="#f1f1f1"/><rect x="889" y="580" width="1" height="4" fill="#000"/><rect x="889" y="584" width="1" height="1" fill="#7f7f7f"/>
</svg>
<div class="t" style="left:181.87px;top:50px;font-size:17px;transform:scaleX(1.1282)">magnitude</div>
<div class="t" style="left:277.00px;top:50px;font-size:17px;transform-origin:0 14.0px;transform:scale(1.0000,-1)">&#916;</div>
<div class="t" style="left:289.00px;top:50px;font-size:17px;font-style:italic">f</div>
<div class="t" style="left:454.87px;top:50px;font-size:17px;transform:scaleX(1.1282)">magnitude</div>
<div class="t" style="left:550.00px;top:50px;font-size:17px">&#916;</div>
<div class="t" style="left:562.00px;top:50px;font-size:17px;font-style:italic">f</div>
<div class="t" style="left:746.00px;top:50px;font-size:17px;transform:scaleX(1.0946)">difference</div>
<div class="t" style="left:201.93px;top:323px;font-size:17px;transform:scaleX(1.0667)">phase</div>
<div class="t" style="left:257.00px;top:323px;font-size:17px;transform-origin:0 14.0px;transform:scale(1.0000,-1)">&#916;</div>
<div class="t" style="left:269.00px;top:323px;font-size:17px;font-style:italic">f</div>
<div class="t" style="left:474.93px;top:323px;font-size:17px;transform:scaleX(1.0667)">phase</div>
<div class="t" style="left:530.00px;top:323px;font-size:17px">&#916;</div>
<div class="t" style="left:542.00px;top:323px;font-size:17px;font-style:italic">f</div>
<div class="t" style="left:746.00px;top:323px;font-size:17px;transform:scaleX(1.0946)">difference</div>
<div class="t" style="left:125.50px;top:306px;font-size:14px">0</div>
<div class="t" style="left:192.50px;top:306px;font-size:14px">10</div>
<div class="t" style="left:263.50px;top:306px;font-size:14px">20</div>
<div class="t" style="left:334.00px;top:306px;font-size:14px">30</div>
<div class="t" style="left:108.00px;top:67px;font-size:14px">0</div>
<div class="t" style="left:107.00px;top:103px;font-size:14px">5</div>
<div class="t" style="left:99.00px;top:138px;font-size:14px">10</div>
<div class="t" style="left:99.00px;top:174px;font-size:14px">15</div>
<div class="t" style="left:100.00px;top:209px;font-size:14px">20</div>
<div class="t" style="left:100.00px;top:245px;font-size:14px">25</div>
<div class="t" style="left:99.00px;top:280px;font-size:14px">30</div>
<div class="t" style="left:399.50px;top:306px;font-size:14px">0</div>
<div class="t" style="left:465.50px;top:306px;font-size:14px">10</div>
<div class="t" style="left:537.50px;top:306px;font-size:14px">20</div>
<div class="t" style="left:608.00px;top:306px;font-size:14px">30</div>
<div class="t" style="left:381.00px;top:67px;font-size:14px">0</div>
<div class="t" style="left:380.00px;top:103px;font-size:14px">5</div>
<div class="t" style="left:373.00px;top:138px;font-size:14px">10</div>
<div class="t" style="left:373.00px;top:174px;font-size:14px">15</div>
<div class="t" style="left:374.00px;top:209px;font-size:14px">20</div>
<div class="t" style="left:374.00px;top:245px;font-size:14px">25</div>
<div class="t" style="left:373.00px;top:280px;font-size:14px">30</div>
<div class="t" style="left:672.50px;top:306px;font-size:14px">0</div>
<div class="t" style="left:739.50px;top:306px;font-size:14px">10</div>
<div class="t" style="left:810.50px;top:306px;font-size:14px">20</div>
<div class="t" style="left:881.00px;top:306px;font-size:14px">30</div>
<div class="t" style="left:655.00px;top:67px;font-size:14px">0</div>
<div class="t" style="left:654.00px;top:103px;font-size:14px">5</div>
<div class="t" style="left:646.00px;top:138px;font-size:14px">10</div>
<div class="t" style="left:646.00px;top:174px;font-size:14px">15</div>
<div class="t" style="left:647.00px;top:209px;font-size:14px">20</div>
<div class="t" style="left:647.00px;top:245px;font-size:14px">25</div>
<div class="t" style="left:646.00px;top:280px;font-size:14px">30</div>
<div class="t" style="left:125.50px;top:579px;font-size:14px">0</div>
<div class="t" style="left:192.50px;top:579px;font-size:14px">10</div>
<div class="t" style="left:263.50px;top:579px;font-size:14px">20</div>
<div class="t" style="left:334.00px;top:579px;font-size:14px">30</div>
<div class="t" style="left:108.00px;top:340px;font-size:14px">0</div>
<div class="t" style="left:107.00px;top:376px;font-size:14px">5</div>
<div class="t" style="left:99.00px;top:411px;font-size:14px">10</div>
<div class="t" style="left:99.00px;top:447px;font-size:14px">15</div>
<div class="t" style="left:100.00px;top:482px;font-size:14px">20</div>
<div class="t" style="left:100.00px;top:518px;font-size:14px">25</div>
<div class="t" style="left:99.00px;top:553px;font-size:14px">30</div>
<div class="t" style="left:399.50px;top:579px;font-size:14px">0</div>
<div class="t" style="left:465.50px;top:579px;font-size:14px">10</div>
<div class="t" style="left:537.50px;top:579px;font-size:14px">20</div>
<div class="t" style="left:608.00px;top:579px;font-size:14px">30</div>
<div class="t" style="left:381.00px;top:340px;font-size:14px">0</div>
<div class="t" style="left:380.00px;top:376px;font-size:14px">5</div>
<div class="t" style="left:373.00px;top:411px;font-size:14px">10</div>
<div class="t" style="left:373.00px;top:447px;font-size:14px">15</div>
<div class="t" style="left:374.00px;top:482px;font-size:14px">20</div>
<div class="t" style="left:374.00px;top:518px;font-size:14px">25</div>
<div class="t" style="left:373.00px;top:553px;font-size:14px">30</div>
<div class="t" style="left:672.50px;top:579px;font-size:14px">0</div>
<div class="t" style="left:739.50px;top:579px;font-size:14px">10</div>
<div class="t" style="left:810.50px;top:579px;font-size:14px">20</div>
<div class="t" style="left:881.00px;top:579px;font-size:14px">30</div>
<div class="t" style="left:655.00px;top:340px;font-size:14px">0</div>
<div class="t" style="left:654.00px;top:376px;font-size:14px">5</div>
<div class="t" style="left:646.00px;top:411px;font-size:14px">10</div>
<div class="t" style="left:646.00px;top:447px;font-size:14px">15</div>
<div class="t" style="left:647.00px;top:482px;font-size:14px">20</div>
<div class="t" style="left:647.00px;top:518px;font-size:14px">25</div>
<div class="t" style="left:646.00px;top:553px;font-size:14px">30</div>
</body></html>
